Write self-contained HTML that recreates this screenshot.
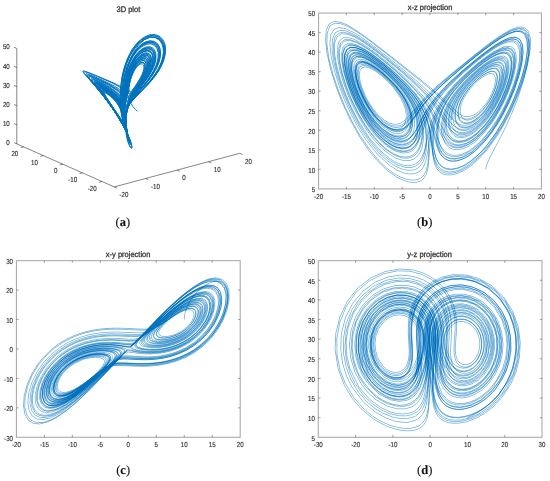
<!DOCTYPE html>
<html><head><meta charset="utf-8"><title>Lorenz attractor projections</title>
<style>
html,body{margin:0;padding:0;background:#fff}
svg{display:block}
.ax{stroke:#262626;stroke-width:1.1;fill:none;stroke-opacity:0.38}
.ax3{stroke:#262626;stroke-width:0.7;fill:none;stroke-opacity:0.8}
.lbl{font-family:"Liberation Sans",Arial,Helvetica,sans-serif;fill:#303030;text-rendering:geometricPrecision;stroke:#303030;stroke-width:0.15}
.tt{stroke-width:0.28}
.cap{font-family:"Liberation Serif","Times New Roman",serif;font-size:12.5px;fill:#111;stroke:#111;stroke-width:0.1;text-rendering:geometricPrecision}
.tr{fill:none;stroke:#0072BD;stroke-width:0.4;stroke-opacity:1;stroke-linejoin:round}
.tr3{fill:none;stroke:#0072BD;stroke-width:0.95;stroke-opacity:1;stroke-linejoin:round}
</style></head>
<body>
<svg width="550" height="481" viewBox="0 0 550 481">
<defs><filter id="sh" x="0" y="0" width="550" height="481" filterUnits="userSpaceOnUse" color-interpolation-filters="sRGB"><feComponentTransfer><feFuncA type="linear" slope="1.4" intercept="-0.06"/></feComponentTransfer></filter></defs>
<rect width="550" height="481" fill="#fff"/>
<g class="tr3"><path d="M137.4 111.3L135.5 109.6L133.9 107.8L130.6 103.1L128.3 97.7L126.8 91.6L126.1 84.8L126.3 77.1L127.5 68.9L129.8 60.6L133.2 52.8L138.4 45.1L144.4 39.7L150.6 37.0L156.3 37.3L160.1 39.6L162.8 43.5L164.1 48.4L164.0 53.9L163.0 58.9L161.3 63.8L159.0 68.5L156.4 72.9L153.5 77.0L150.6 80.7L147.6 84.1L135.0 97.5L132.7 100.2L129.5 104.6L127.4 108.4L126.7 110.2L125.7 113.5L125.2 116.7L124.8 122.4L124.6 124.1L124.2 124.3L123.6 123.8L122.6 122.4L116.3 112.6L104.8 95.7L103.3 93.3L102.6 91.7L102.6 90.8L103.3 90.7L104.5 91.1L106.1 92.0L109.8 94.5L113.3 97.7L114.9 99.3L116.6 101.3L118.0 103.3L120.4 107.4L121.5 110.0L122.5 112.6L123.2 115.1L124.2 119.4L125.2 124.6L125.5 127.5L125.2 127.5L124.2 126.2L119.5 118.1L113.6 109.1L101.8 92.2L100.4 89.9L99.9 88.5L100.2 87.9L101.1 87.9L102.6 88.5L106.4 90.7L110.4 93.5L114.0 96.7L115.7 98.4L117.2 100.1L119.6 103.6L120.8 105.8L121.8 108.0L122.7 110.2L123.8 114.2L124.6 117.8L127.3 132.9L127.0 132.6L123.6 126.0L121.2 121.6L117.9 116.2L113.9 110.1L109.5 103.6L98.5 88.7L96.5 85.9L95.7 84.2L95.8 83.4L96.9 83.4L98.6 84.0L100.7 85.0L105.0 87.3L109.3 90.1L111.6 91.8L115.7 95.2L117.3 96.9L120.0 100.2L121.1 101.8L122.7 104.9L123.8 107.7L124.6 111.3L125.1 115.1L125.3 118.5L125.1 122.2L124.9 123.1L124.7 123.3L124.4 123.2L124.1 122.9L123.7 122.0L122.6 118.3L122.0 115.0L121.2 109.5L120.7 101.6L120.8 90.8L122.4 77.1L124.3 69.1L127.1 60.8L130.9 52.9L135.6 45.8L141.2 40.3L147.1 36.8L152.7 35.7L157.7 36.9L161.3 39.9L163.6 44.3L164.6 49.5L164.2 55.2L162.9 60.2L161.0 65.0L158.6 69.6L156.0 73.9L152.8 78.1L149.7 82.0L146.6 85.4L134.3 98.3L132.1 100.8L130.4 103.0L129.0 105.1L127.0 108.9L125.8 112.2L125.1 115.3L124.4 122.1L124.2 122.9L123.9 123.1L123.3 122.8L121.3 120.0L114.9 110.3L105.0 95.6L103.8 93.5L103.4 92.3L103.6 91.7L104.5 91.8L105.8 92.3L107.4 93.3L110.9 96.0L114.3 99.2L115.8 100.9L117.4 103.0L118.7 105.1L120.9 109.4L121.9 111.9L122.7 114.4L123.9 119.1L124.6 122.7L124.9 125.3L124.8 126.1L124.2 125.5L117.8 115.3L112.3 106.9L104.0 95.0L102.2 92.3L101.3 90.4L101.2 89.4L101.9 89.2L103.3 89.7L105.1 90.6L108.8 93.0L110.7 94.5L114.3 97.8L116.0 99.6L118.7 103.3L120.9 107.3L121.8 109.3L123.1 113.2L124.1 116.9L124.8 120.8L126.2 128.4L126.4 129.9L126.2 130.2L120.9 120.8L118.2 116.4L111.2 105.8L99.1 88.9L98.0 87.0L97.9 85.9L98.6 85.6L99.9 86.0L101.7 86.7L105.8 89.1L109.9 91.9L113.5 94.8L116.4 97.7L118.8 100.6L120.8 103.6L121.5 105.1L122.8 108.0L124.1 112.3L124.9 116.6L126.4 128.1L127.2 132.8L127.8 135.5L128.6 137.8L129.1 138.9L128.5 136.8L127.2 133.7L124.8 128.7L122.1 123.6L118.4 117.4L114.0 110.5L109.0 103.3L103.8 96.4L92.3 81.7L91.2 79.9L90.9 78.9L91.3 78.5L92.5 78.7L94.2 79.2L101.0 82.3L106.8 85.4L109.5 87.0L114.8 90.6L117.2 92.5L119.2 94.3L121.9 97.3L122.8 98.6L124.1 100.9L125.1 103.5L125.4 105.0L125.1 103.0L124.8 98.9L124.9 94.8L125.2 89.3L126.2 82.4L128.1 74.5L130.1 68.6L132.8 62.9L136.0 57.9L139.7 53.9L143.6 51.4L147.2 50.6L150.1 51.5L152.1 53.9L153.0 57.5L152.8 61.7L151.7 66.3L149.8 70.9L147.9 74.5L145.9 77.9L141.6 84.0L134.8 93.2L133.3 95.5L130.9 99.5L129.2 102.8L128.1 105.5L126.9 109.3L125.7 114.0L125.2 115.1L125.0 115.3L124.7 115.1L124.3 114.5L123.8 112.4L123.1 108.4L122.5 101.9L122.6 92.2L123.1 86.0L124.2 79.0L126.0 71.4L128.7 63.6L132.4 56.1L137.0 49.6L142.2 44.9L147.6 42.4L152.0 42.2L155.6 43.9L158.2 47.0L159.4 51.4L159.5 56.0L158.5 60.9L156.8 65.8L154.5 70.5L152.3 74.2L150.0 77.6L147.6 80.8L145.3 83.7L136.5 94.2L132.7 99.1L130.2 102.9L129.3 104.7L127.8 108.1L127.3 109.7L126.5 112.9L126.0 117.6L126.0 122.7L126.8 131.3L126.6 131.2L121.7 122.4L119.0 117.8L115.5 112.4L111.6 106.5L100.3 90.9L98.1 87.6L97.0 85.6L97.1 84.7L98.2 84.7L100.1 85.4L102.0 86.4L106.3 88.8L110.4 91.6L113.8 94.4L117.0 97.6L118.4 99.3L120.7 102.6L122.6 106.3L123.4 108.6L124.1 110.9L124.6 113.2L125.1 116.6L126.2 128.8L126.8 132.8L127.7 136.9L128.3 139.1L129.0 141.0L129.7 142.6L130.2 143.2L130.4 142.9L130.2 141.5L129.2 138.3L127.7 134.7L125.3 129.7L122.0 123.5L117.6 116.2L112.4 108.3L106.6 100.2L100.8 92.7L88.8 78.2L87.5 76.2L87.4 75.2L88.3 75.2L90.0 75.6L92.2 76.4L97.7 78.8L106.3 82.9L113.3 86.7L116.2 88.5L120.3 91.5L122.9 93.9L126.1 97.8L126.2 97.7L126.3 97.3L126.7 91.0L127.1 87.9L127.7 83.9L128.7 79.3L130.2 74.3L132.3 69.1L135.0 64.3L138.1 60.4L141.3 57.8L144.3 56.9L146.3 57.4L147.8 59.0L148.5 61.4L148.5 64.4L147.8 67.8L146.5 71.2L144.9 74.7L143.1 78.0L141.3 80.9L133.1 93.0L128.0 101.1L127.4 101.8L127.0 101.9L126.6 101.6L126.3 100.9L126.1 99.6L125.9 96.9L125.9 92.8L126.3 87.2L127.5 80.2L128.8 75.2L130.7 69.9L133.1 64.8L135.9 60.2L139.2 56.6L142.6 54.2L145.7 53.4L148.3 54.0L150.1 55.9L151.0 58.6L151.0 62.1L150.3 65.9L149.0 69.5L147.4 73.1L145.5 76.5L143.4 79.8L134.4 92.6L131.9 96.7L128.9 102.1L126.4 107.6L126.1 108.1L125.8 108.3L125.5 108.2L125.1 107.5L124.8 106.3L124.5 103.8L124.2 100.0L124.2 94.7L124.7 87.7L125.5 82.2L126.8 76.1L128.7 69.6L131.4 63.2L134.8 57.3L138.8 52.5L143.1 49.3L147.3 47.9L150.6 48.3L153.1 50.2L154.6 53.2L155.1 57.1L154.7 61.2L153.5 65.5L151.8 69.7L149.6 73.8L147.5 77.2L145.3 80.4L135.1 94.0L132.2 98.2L130.1 101.9L128.6 105.2L127.6 108.1L126.9 110.8L126.2 115.4L125.8 121.1L125.8 128.2L126.2 133.6L126.8 137.5L128.1 142.4L129.6 146.0L130.5 147.6L131.5 148.5L132.1 148.0L132.0 146.3L131.2 143.1L129.3 137.9L125.9 130.6L122.0 123.5L117.1 115.4L111.3 106.7L104.9 98.0L98.4 89.9L84.5 73.8L83.2 72.2L82.7 71.2L83.1 70.8L84.1 71.0L85.8 71.5L92.9 74.2L104.9 79.2L115.2 83.7L120.0 86.2L126.3 89.9L126.9 90.1L127.3 90.1L127.7 89.9L128.0 89.5L128.3 88.7L130.2 80.9L131.2 77.5L132.6 74.0L134.3 70.5L136.4 67.4L138.6 65.1L140.7 63.9L142.4 63.9L143.4 64.8L143.9 66.4L143.8 68.6L143.3 71.1L142.4 73.7L141.2 76.4L139.8 79.0L135.6 85.7L131.9 90.7L130.9 91.7L130.1 92.2L129.5 92.0L129.2 91.1L129.0 89.5L129.1 87.2L129.5 84.1L130.1 80.9L131.1 77.3L132.4 73.5L134.2 69.8L136.3 66.5L138.6 64.0L140.8 62.5L142.7 62.2L144.0 62.9L144.8 64.4L145.0 66.6L144.6 69.2L143.8 72.0L142.5 74.9L141.1 77.8L138.0 82.9L132.6 90.9L130.4 93.6L129.7 94.2L129.1 94.2L128.6 93.7L128.3 92.5L128.2 90.5L128.4 87.5L128.9 83.6L130.0 78.9L131.7 73.6L133.4 69.8L135.4 66.3L137.6 63.4L140.0 61.4L142.2 60.3L144.1 60.4L145.5 61.5L146.2 63.5L146.2 66.3L145.5 69.6L144.2 73.0L142.6 76.5L141.0 79.2L137.8 84.3L131.2 94.1L129.4 96.3L128.8 96.8L128.3 96.8L127.8 96.4L127.5 95.3L127.4 93.6L127.4 91.2L127.7 87.1L128.6 81.8L130.2 75.5L132.8 69.0L135.0 65.2L137.4 61.9L140.0 59.5L142.5 58.1L144.7 57.9L146.5 58.8L147.6 60.7L147.9 63.3L147.5 66.5L146.6 69.9L145.1 73.4L143.4 76.8L139.9 82.4L133.5 91.9L129.3 98.4L128.1 100.0L127.6 100.3L127.2 100.3L126.8 99.7L126.5 98.6L126.3 96.4L126.3 93.0L126.6 88.4L127.5 82.6L128.5 78.0L130.0 73.0L132.0 68.1L134.5 63.4L137.5 59.4L140.6 56.5L143.7 55.0L146.4 54.9L148.4 56.0L149.7 58.2L150.1 61.1L149.8 64.6L148.8 68.1L147.4 71.7L145.6 75.2L143.7 78.5L139.9 84.2L133.3 93.8L129.8 99.6L127.1 104.8L126.4 105.6L126.0 105.6L125.7 105.0L125.3 103.7L125.0 101.6L124.8 98.5L124.8 94.6L125.2 89.6L125.9 83.4L127.4 76.4L129.3 70.5L131.7 64.6L134.9 59.2L138.5 54.7L142.5 51.6L146.2 50.2L149.5 50.6L151.8 52.6L153.1 55.7L153.4 59.7L152.6 64.1L151.1 68.5L149.3 72.3L147.3 75.8L145.2 79.1L134.2 94.3L132.8 96.4L130.6 100.1L129.1 103.1L127.6 107.1L126.6 110.6L125.6 115.4L125.2 116.5L125.0 116.8L124.6 116.7L124.2 116.0L123.7 114.3L123.1 111.4L122.5 106.9L122.1 100.2L122.3 91.0L123.8 79.1L125.4 71.9L127.8 64.6L131.0 57.4L135.1 50.9L139.9 45.7L145.0 42.2L150.0 40.8L154.4 41.5L157.6 43.9L159.7 47.5L160.5 52.1L160.2 57.2L159.1 61.8L157.3 66.4L155.1 70.7L152.6 74.8L150.0 78.4L147.5 81.8L136.4 94.7L133.9 97.7L130.6 102.5L128.5 106.2L127.8 108.0L126.7 111.4L126.4 113.0L125.9 116.3L125.8 121.2L126.3 128.8L126.2 129.5L125.9 129.4L125.2 128.2L120.4 120.0L114.3 110.4L107.0 99.8L101.0 91.5L99.3 88.9L98.5 87.2L98.5 86.3L99.3 86.2L100.7 86.6L102.5 87.5L106.7 89.9L110.7 92.8L114.2 95.8L116.8 98.6L119.2 101.7L120.3 103.3L121.2 105.0L122.6 108.2L124.0 112.8L124.9 117.7L126.9 130.8L127.8 135.0L128.5 137.0L127.7 134.9L126.7 132.5L125.0 129.0L122.5 124.4L119.2 118.7L115.1 112.1L110.4 105.2L105.4 98.4L94.4 84.1L92.8 81.7L92.3 80.4L92.9 80.0L94.2 80.2L98.5 82.0L103.0 84.2L107.5 86.8L110.6 88.8L113.5 90.8L116.0 92.8L118.0 94.7L120.5 97.4L121.5 98.7L123.0 101.1L124.0 103.3L124.7 105.2L125.2 107.6L125.1 108.8L124.9 108.3L124.4 106.0L124.0 100.2L124.0 95.2L124.4 88.6L125.6 80.6L127.0 74.5L129.0 68.2L131.8 62.1L135.2 56.4L139.1 51.9L143.3 48.8L147.4 47.5L150.9 48.0L153.4 49.9L154.9 53.0L155.5 56.9L155.0 61.2L153.8 65.3L152.2 69.4L150.1 73.3L147.9 77.0L145.7 80.1L135.2 94.0L131.9 98.8L130.8 100.6L129.1 104.1L127.9 107.2L127.1 110.1L126.4 113.8L126.0 118.8L125.9 125.3L126.3 130.4L127.0 134.9L127.8 138.5L129.0 142.1L129.8 143.8L130.5 144.7L130.9 144.3L130.3 141.4L129.3 138.3L127.5 134.1L124.7 128.5L120.9 121.7L116.1 113.9L110.5 105.6L104.5 97.5L98.5 90.0L87.1 76.4L85.9 74.5L86.1 73.8L87.2 73.9L89.1 74.5L94.2 76.5L102.5 80.2L110.9 84.3L114.4 86.1L119.5 89.4L122.8 91.9L125.9 94.9L126.5 95.3L126.7 95.1L126.8 94.5L127.7 87.4L128.2 84.2L129.1 80.4L130.3 76.3L131.9 71.9L134.0 67.7L136.4 64.0L139.1 61.1L141.7 59.5L144.1 59.1L145.7 60.0L146.7 61.7L147.0 64.1L146.7 67.0L145.9 70.2L144.6 73.4L143.0 76.5L141.3 79.5L137.9 84.8L130.0 96.5L129.1 97.6L128.4 98.3L127.9 98.5L127.4 98.1L127.1 97.0L126.9 95.3L126.8 92.7L127.0 89.4L127.5 85.4L128.3 80.8L129.7 75.7L131.7 70.3L134.3 65.2L137.4 60.8L140.7 57.8L143.9 56.5L146.2 56.7L147.8 58.1L148.8 60.4L148.9 63.4L148.3 66.8L147.1 70.4L145.5 73.9L143.7 77.3L141.9 80.3L133.5 92.7L128.0 101.7L127.1 102.7L126.7 102.7L126.3 102.3L126.0 101.1L125.7 99.1L125.6 96.1L125.7 92.0L126.1 87.6L126.9 82.3L128.3 76.4L130.3 70.1L133.2 63.9L136.8 58.6L140.7 54.8L144.7 52.8L147.6 52.9L149.8 54.2L151.2 56.8L151.6 60.2L151.2 63.9L150.0 67.8L148.3 71.8L146.3 75.6L144.4 78.8L140.4 84.6L135.2 91.8L131.3 97.9L128.7 103.0L126.4 108.7L125.8 109.7L125.5 109.9L125.2 109.6L124.8 108.7L124.4 107.0L124.1 104.4L123.8 101.0L123.8 96.4L124.0 90.5L124.9 83.3L126.1 77.2L127.9 70.7L130.4 64.2L133.7 58.0L137.6 52.7L142.0 48.9L146.3 46.9L150.3 46.8L153.2 48.3L155.1 51.1L156.0 54.8L155.9 59.1L155.0 63.3L153.5 67.6L151.5 71.6L149.2 75.5L147.0 78.8L142.7 84.6L136.0 93.2L132.4 98.3L131.3 100.2L129.4 103.7L128.7 105.3L127.6 108.4L126.7 112.3L126.1 116.8L126.0 121.8L126.2 125.9L126.7 130.7L127.8 136.1L128.8 139.5L129.4 140.8L129.7 140.9L129.3 138.9L127.3 133.9L125.2 129.4L122.2 123.8L118.2 117.1L113.3 109.6L107.9 101.9L102.4 94.7L90.5 79.8L89.2 77.8L89.1 76.8L90.3 76.8L92.0 77.3L94.1 78.2L99.2 80.4L108.4 85.1L114.1 88.6L116.6 90.3L118.8 92.0L120.5 93.6L122.1 95.2L124.1 98.0L125.8 101.0L125.7 96.7L126.1 90.3L126.6 85.9L127.4 81.3L128.7 76.2L130.5 70.8L132.9 65.6L135.9 60.9L139.2 57.1L142.6 54.8L145.7 54.1L148.1 54.7L149.7 56.6L150.5 59.3L150.5 62.7L149.8 66.2L148.5 69.9L146.8 73.6L144.8 77.1L142.9 80.2L134.1 92.8L131.6 96.7L129.2 101.1L126.8 106.0L126.2 106.9L125.8 106.9L125.5 106.4L125.1 105.3L124.8 103.5L124.6 100.6L124.5 96.5L124.7 91.2L125.4 84.5L126.5 78.9L128.1 72.8L130.3 66.7L133.3 60.8L136.9 55.6L140.8 51.7L144.9 49.5L148.6 49.1L151.3 50.3L153.2 52.7L154.2 56.0L154.1 60.0L153.3 64.0L151.9 68.1L150.0 72.1L147.8 75.8L145.7 79.1L143.6 82.1L134.3 94.7L131.8 98.4L130.1 101.6L128.2 105.8L127.1 109.3L126.3 113.4L125.3 120.6L124.9 121.7L124.7 121.9L124.3 121.7L123.8 120.7L123.1 118.7L122.3 115.1L121.6 110.3L121.1 103.3L121.0 93.8L122.1 81.5L123.5 73.9L125.7 65.9L128.8 57.9L132.9 50.5L137.9 44.2L143.5 39.6L149.1 37.1L154.4 37.0L158.6 38.8L161.6 42.3L163.3 46.9L163.7 52.2L163.0 57.2L161.5 62.2L159.4 67.1L156.8 71.6L154.1 75.6L151.4 79.3L145.8 85.7L135.5 96.7L133.1 99.5L130.9 102.2L129.3 104.7L128.0 107.1L127.0 109.2L125.9 112.6L125.3 115.8L125.0 119.0L124.8 123.0L124.7 123.9L124.5 124.4L124.0 124.2L123.3 123.4L122.2 121.8L115.7 111.8L104.6 95.4L103.2 93.1L102.5 91.5L102.5 90.7L103.2 90.6L104.5 91.0L106.1 91.9L107.9 93.1L111.6 96.0L114.9 99.3L116.6 101.3L118.0 103.3L119.3 105.3L120.4 107.3L121.5 109.9L122.4 112.4L123.2 115.0L124.2 119.3L125.2 124.5L125.5 127.5L125.3 127.7L124.5 126.6L117.4 114.9L114.3 110.2L102.2 92.7L100.6 90.2L99.8 88.6L99.9 87.8L100.8 87.7L102.1 88.2L103.9 89.1L105.9 90.3L109.9 93.0L113.6 96.2L115.3 97.9L116.8 99.6L119.3 103.0L120.6 105.3L121.7 107.5L122.5 109.7L123.7 113.8L124.5 117.4L127.3 133.3L124.6 127.9L122.2 123.5L118.8 117.7L114.4 110.9L109.5 103.7L97.9 88.1L96.1 85.4L95.4 83.7L95.8 83.1L96.9 83.2L98.7 83.9L103.1 86.1L107.5 88.7L112.0 91.9L114.1 93.6L116.1 95.4L119.1 98.8L120.3 100.4L122.2 103.5L123.4 106.4L124.2 109.2L125.0 113.1L125.2 116.6L125.2 119.8L125.0 121.0L124.7 121.5L124.4 121.4L124.1 121.0L123.3 118.6L122.7 116.1L122.0 112.3L121.4 106.9L121.0 99.6L121.1 92.4L121.9 83.7L123.6 73.9L126.8 63.4L130.1 55.7L134.4 48.7L139.4 43.0L144.9 39.1L150.4 37.3L155.4 37.7L159.4 40.1L162.1 44.2L163.1 48.0L163.4 52.2L162.8 56.7L161.6 61.1L159.9 65.5L157.8 69.6L155.4 73.5L152.8 77.1L149.4 81.5L146.0 85.3L134.4 97.9L132.2 100.5L130.5 102.9L129.0 105.1L127.9 107.3L127.0 109.3L125.9 112.9L125.3 116.1L125.1 119.2L125.0 123.2L124.9 124.3L124.6 124.8L124.2 124.7L123.4 123.7L116.3 112.7L105.0 96.2L103.3 93.5L102.3 91.6L102.1 90.5L102.5 90.2L103.6 90.4L105.0 91.1L106.8 92.1L110.5 94.9L114.1 98.2L115.6 99.9L117.3 101.9L118.7 104.0L120.9 108.0L121.9 110.4L122.7 112.8L123.9 117.4L124.7 121.3L125.6 126.6L125.8 128.0L125.7 128.5L125.0 127.7L121.0 120.8L115.5 112.0L112.1 106.9L100.6 90.5L99.5 88.5L99.3 87.4L99.9 87.1L101.1 87.4L102.8 88.2L106.8 90.5L110.8 93.4L112.7 95.0L115.9 98.2L118.5 101.5L120.0 103.8L121.3 106.1L122.2 108.3L123.0 110.5L124.0 114.0L125.0 119.2L126.5 128.9L127.8 134.6L124.1 127.0L121.6 122.6L118.4 117.1L114.4 110.9L109.9 104.4L105.3 98.0L95.7 85.2L94.5 83.2L94.4 82.2L95.2 82.0L96.7 82.4L98.6 83.2L103.1 85.5L107.5 88.1L112.3 91.3L114.6 93.3L116.7 95.2L118.5 97.0L119.7 98.5L121.7 101.3L123.0 103.9L124.0 106.4L124.7 109.5L125.1 112.1L125.1 114.4L125.0 115.4L124.8 115.6L124.6 115.5L124.4 115.2L123.7 112.8L123.3 110.7L122.8 106.9L122.5 101.5L122.4 94.2L123.2 84.9L124.3 78.3L126.0 71.2L128.5 63.9L131.9 56.9L136.1 50.6L140.8 45.8L145.9 42.8L150.7 41.8L154.5 42.9L157.4 45.4L159.2 49.2L159.7 53.8L159.3 58.5L158.0 63.2L156.0 67.8L153.7 72.2L151.5 75.7L149.2 78.9L144.6 84.7L135.6 95.3L131.9 100.3L129.6 104.1L128.0 107.5L127.4 109.2L126.6 112.3L126.3 114.0L126.0 117.2L125.9 122.3L126.7 130.9L126.5 131.0L119.7 118.9L113.4 109.1L109.7 103.7L99.9 90.3L98.0 87.6L97.2 85.8L97.3 85.0L98.2 84.9L99.8 85.4L101.9 86.4L106.0 88.8L110.2 91.6L113.8 94.6L116.9 97.6L119.3 100.6L121.1 103.5L121.8 104.9L123.0 107.6L124.1 111.2L125.0 116.1L126.1 127.2L127.0 133.2L127.5 135.8L128.3 138.4L129.1 140.6L129.6 141.6L130.0 142.0L130.0 141.2L129.3 138.8L128.2 135.8L126.3 131.7L123.5 126.2L119.7 119.6L115.0 112.1L109.6 104.3L103.9 96.6L98.4 89.7L90.9 80.6L88.9 77.9L88.3 76.5L88.7 76.0L90.1 76.3L94.6 78.0L99.7 80.3L104.9 82.8L112.4 86.9L115.4 88.8L117.9 90.7L120.0 92.4L123.0 95.3L123.9 96.6L125.7 99.3L126.0 99.6L126.2 93.4L126.4 90.4L127.0 85.2L128.3 78.9L130.6 71.9L133.8 64.9L136.4 61.1L139.3 58.0L142.2 56.0L144.9 55.3L147.1 55.8L148.8 57.4L149.6 59.9L149.6 63.1L149.0 66.5L147.8 70.2L146.1 73.7L144.2 77.2L140.5 83.0L132.5 94.8L130.3 98.4L127.6 103.4L126.7 104.5L126.4 104.7L126.0 104.3L125.7 103.5L125.4 101.9L125.2 99.5L125.1 96.0L125.2 91.4L125.9 85.7L127.1 78.8L128.6 73.2L130.8 67.5L133.5 62.0L136.8 57.2L140.5 53.6L144.3 51.5L147.6 51.0L150.3 52.2L152.0 54.6L152.8 58.0L152.6 61.9L151.5 66.1L150.1 69.8L148.3 73.5L146.2 77.0L142.6 82.4L133.8 94.5L130.5 100.0L129.0 103.1L127.9 105.9L125.7 113.2L125.3 114.0L124.9 114.1L124.6 113.7L124.2 112.5L123.7 110.6L123.2 106.6L122.8 100.5L122.9 91.6L124.3 80.0L125.8 73.3L128.0 66.3L131.0 59.5L134.8 53.2L139.2 48.1L144.0 44.6L148.6 43.0L152.8 43.4L155.9 45.5L157.9 48.8L158.8 53.0L158.6 57.8L157.6 62.3L155.9 66.7L153.8 71.0L151.3 75.0L149.1 78.3L144.5 84.3L136.3 94.1L134.0 97.1L132.0 99.9L129.8 103.6L128.9 105.3L127.6 108.6L127.2 110.1L126.5 113.1L126.1 116.4L126.0 119.5L126.1 122.9L126.3 126.2L127.3 132.9L122.5 123.9L116.7 114.4L113.0 108.7L108.9 102.9L98.4 88.5L96.5 85.8L95.7 84.1L96.1 83.4L97.3 83.6L99.3 84.4L103.4 86.5L107.9 89.2L112.2 92.3L115.9 95.5L117.6 97.2L120.3 100.7L121.4 102.4L122.9 105.6L124.0 108.6L124.6 111.4L125.1 114.7L125.3 118.9L125.2 122.7L124.8 124.1L124.6 124.2L124.3 124.0L123.5 122.5L122.3 118.0L121.6 114.1L120.9 108.5L120.5 102.7L120.4 95.4L120.9 86.7L122.4 76.5L124.3 68.2L127.3 59.7L131.3 51.6L136.3 44.5L142.1 39.1L148.2 35.9L153.9 35.2L158.9 36.8L162.3 40.2L164.4 44.9L165.1 50.4L164.4 56.2L163.0 61.2L161.0 66.0L158.5 70.4L155.8 74.6L152.5 79.0L149.1 82.9L145.9 86.4L133.8 98.8L131.7 101.3L130.0 103.5L128.7 105.6L126.7 109.3L125.5 112.6L124.9 115.6L124.3 120.9L124.1 121.9L123.8 122.4L123.4 122.4L122.6 121.7L121.6 120.3L108.3 100.5L104.8 95.0L104.0 93.4L103.9 92.5L104.5 92.3L105.5 92.6L106.9 93.3L110.3 95.8L113.7 98.9L115.3 100.7L116.7 102.5L118.2 104.7L119.6 107.0L120.6 109.3L122.4 113.9L123.5 118.3L124.3 122.1L124.6 124.7L124.4 125.1L124.0 124.9L123.2 123.7L114.0 109.4L104.8 95.9L103.0 93.2L102.1 91.3L101.9 90.3L102.5 90.0L103.6 90.3L105.3 91.1L107.2 92.3L110.8 95.0L114.3 98.3L116.0 100.2L117.5 102.1L118.8 104.1L121.0 108.1L121.8 110.2L123.1 114.2L124.1 118.1L124.8 121.8L125.8 127.3L125.9 128.4L125.8 128.8L125.3 128.3L120.6 120.1L114.8 111.0L111.2 105.7L101.6 92.1L99.8 89.3L99.0 87.6L99.3 86.9L100.6 87.0L102.5 87.9L106.4 90.1L110.5 93.0L114.1 96.2L115.7 97.8L118.7 101.5L120.0 103.5L122.0 107.5L122.7 109.3L123.7 112.7L124.8 117.8L127.0 131.6L128.0 135.3L125.6 130.1L123.7 126.4L121.1 121.6L117.6 115.9L113.4 109.5L108.8 102.9L94.9 84.3L93.9 82.4L93.9 81.5L94.9 81.5L96.6 82.0L100.9 84.0L105.4 86.5L110.4 89.6L113.0 91.5L115.2 93.3L117.2 95.1L118.7 96.7L121.1 99.7L122.0 101.1L123.4 103.8L124.2 106.3L124.9 109.2L125.1 111.6L125.1 112.8L124.9 113.3L124.4 112.7L123.8 109.9L123.1 103.7L122.9 99.1L123.0 93.1L123.7 85.8L125.1 77.2L126.9 70.3L129.5 63.3L132.9 56.7L137.1 51.0L141.8 46.7L146.6 44.2L151.0 43.8L154.6 45.4L156.9 48.4L158.1 52.4L158.1 57.1L157.1 62.1L155.6 66.4L153.6 70.5L151.3 74.5L148.8 78.1L146.4 81.5L136.7 93.4L132.3 99.2L129.7 103.5L128.9 105.2L127.7 108.5L126.9 111.5L126.4 114.4L126.1 117.5L126.0 120.6L126.2 124.0L126.5 127.3L127.0 130.9L127.7 134.3L125.9 130.4L122.8 124.7L120.2 120.0L116.8 114.6L112.9 108.7L108.7 102.6L97.5 87.6L95.5 84.7L94.6 83.0L94.9 82.3L96.2 82.4L100.2 84.1L104.7 86.5L109.4 89.5L111.8 91.2L115.8 94.5L118.0 96.7L119.8 98.8L121.2 100.9L122.9 104.0L123.8 106.3L124.6 109.4L125.1 112.2L125.1 115.3L124.8 116.7L124.6 116.7L124.4 116.5L124.1 115.8L123.3 112.5L122.8 109.3L122.4 104.9L122.1 98.8L122.3 92.2L123.0 84.2L124.7 75.1L127.6 65.3L130.7 58.2L134.6 51.8L139.1 46.5L144.0 42.8L149.0 41.1L153.5 41.4L157.0 43.5L159.4 47.1L160.4 51.7L160.1 56.8L158.9 62.1L156.8 67.3L154.7 71.3L152.4 75.0L149.9 78.5L144.2 85.6L138.3 92.3L134.0 97.5L131.0 101.7L129.9 103.7L128.1 107.3L127.5 108.9L126.6 112.3L126.2 113.9L125.9 117.1L125.8 122.2L126.4 129.3L126.2 129.8L125.6 129.0L121.7 122.1L116.4 113.6L109.5 103.3L100.3 90.5L98.7 88.0L98.2 86.5L98.6 86.0L99.9 86.2L101.8 87.0L105.8 89.3L109.9 92.1L113.5 95.1L116.6 98.1L118.1 100.0L120.6 103.7L121.5 105.5L122.8 108.5L124.1 113.1L125.0 117.7L126.8 130.3L127.7 134.8L128.3 136.7L128.7 137.7L127.7 134.8L124.5 128.0L121.7 122.9L118.0 116.7L113.5 109.8L108.6 102.7L103.5 95.9L93.2 82.7L92.0 80.6L91.9 79.7L92.8 79.5L94.5 80.0L99.0 81.9L103.6 84.3L109.2 87.5L112.1 89.4L114.7 91.3L116.9 93.1L119.8 95.9L120.9 97.3L122.7 99.8L123.8 102.0L124.6 104.0L125.2 106.3L125.2 107.4L125.0 106.8L124.6 104.4L124.3 98.5L124.4 93.3L125.0 86.7L126.3 78.8L127.9 72.8L130.1 66.7L133.0 60.8L136.5 55.7L140.5 51.7L144.5 49.2L148.3 48.6L151.4 49.7L153.4 52.1L154.4 55.5L154.5 59.5L153.6 63.9L152.2 67.9L150.4 71.8L148.3 75.5L146.0 78.9L143.9 81.9L134.2 94.9L131.4 99.3L129.7 102.5L128.0 106.7L126.9 110.4L126.1 115.0L125.2 123.8L124.9 125.0L124.7 125.2L124.3 125.1L123.9 124.4L122.7 120.9L122.0 117.5L121.1 112.6L120.6 107.5L120.2 101.0L120.3 92.8L121.1 83.0L122.4 74.9L124.6 66.3L127.8 57.7L132.1 49.5L137.4 42.5L143.5 37.5L149.7 34.7L155.5 34.6L160.0 36.5L163.3 40.2L165.2 45.0L165.7 50.6L165.0 55.8L163.5 61.1L161.4 66.1L158.8 70.8L155.9 75.0L152.9 78.9L149.9 82.5L146.9 85.7L133.4 99.5L131.1 102.1L129.3 104.5L127.9 106.7L126.8 108.7L125.5 112.0L124.8 115.0L124.0 120.2L123.8 121.1L123.5 121.5L123.0 121.5L122.2 120.8L121.2 119.4L108.4 100.4L105.2 95.3L104.6 93.9L104.6 93.1L105.3 93.1L106.4 93.5L107.8 94.3L109.4 95.5L111.1 96.8L114.4 100.1L115.9 101.8L117.2 103.7L118.7 106.0L120.0 108.4L121.0 110.8L122.5 115.3L123.9 121.1L124.1 123.7L123.9 124.0L123.3 123.4L122.4 122.2L114.6 110.0L104.5 95.1L103.3 93.0L102.8 91.7L103.0 91.1L103.8 91.1L105.2 91.6L106.8 92.6L110.4 95.2L113.9 98.4L115.4 100.1L117.1 102.2L118.5 104.2L120.7 108.4L121.8 110.9L122.6 113.4L123.8 118.2L124.6 122.0L125.3 126.6L125.2 127.1L124.5 126.3L119.1 117.4L113.1 108.3L103.6 94.7L101.6 91.6L100.5 89.6L100.4 88.5L101.1 88.3L102.5 88.8L104.2 89.6L108.0 92.0L110.0 93.5L113.8 96.7L115.4 98.5L116.9 100.2L118.5 102.3L119.9 104.5L121.0 106.6L121.9 108.7L122.7 110.7L123.8 114.7L124.9 120.3L126.9 132.0L126.7 131.8L122.9 124.6L117.4 115.3L113.6 109.5L109.5 103.6L98.9 89.0L97.1 86.4L96.4 84.8L96.8 84.2L98.0 84.3L99.6 84.9L103.8 87.0L106.0 88.4L110.1 91.1L113.7 94.0L115.8 95.9L117.6 97.9L119.2 99.8L121.3 103.1L122.6 105.8L123.6 108.4L124.3 110.9L124.7 113.1L125.3 118.7L126.1 131.7L126.5 134.8L127.2 138.3L128.3 142.0L129.0 143.9L129.8 145.7L130.7 147.1L131.4 147.5L131.7 147.1L131.6 145.4L130.7 141.9L129.2 137.8L126.7 132.4L123.2 125.5L118.5 117.6L112.7 108.8L106.3 99.9L99.8 91.5L93.7 84.3L85.8 75.3L84.0 73.0L83.6 71.9L84.4 71.7L86.0 72.1L88.3 72.9L97.4 76.6L108.1 81.2L111.9 82.9L117.8 85.9L122.1 88.5L126.3 91.4L126.8 91.6L127.2 91.5L127.5 91.2L127.8 90.6L129.2 83.7L129.9 80.7L130.9 77.3L132.3 73.7L133.9 70.3L135.9 67.1L138.0 64.6L140.2 63.0L142.1 62.4L143.6 62.9L144.5 64.4L144.8 66.7L144.3 69.6L143.3 72.7L141.9 76.0L139.0 81.2L134.7 87.8L131.3 92.3L130.4 93.3L129.7 93.8L129.1 93.8L128.7 93.2L128.5 92.0L128.4 90.1L128.5 87.4L129.0 84.0L129.7 80.5L130.8 76.6L132.3 72.5L134.2 68.6L136.4 65.2L138.9 62.5L141.3 61.0L143.4 60.6L144.9 61.4L145.8 63.0L146.0 65.3L145.7 68.0L144.8 71.0L143.6 74.1L142.1 77.1L140.4 80.0L135.8 87.1L130.7 94.5L129.8 95.5L129.1 96.2L128.5 96.3L128.0 95.9L127.7 94.7L127.5 92.8L127.6 89.9L128.0 86.2L128.8 81.6L129.8 77.5L131.2 73.2L133.1 68.9L135.4 64.9L138.0 61.7L140.6 59.4L143.2 58.4L145.3 58.6L146.7 59.9L147.5 62.1L147.5 64.9L146.9 68.0L145.8 71.3L144.4 74.5L142.7 77.6L141.0 80.5L129.8 97.3"/></g>
<g class="tr" filter="url(#sh)">
<path d="M485.7 169.4L485.9 167.8L486.3 166.0L488.3 160.9L491.4 154.5L500.4 137.5L506.1 126.1L511.9 113.0L517.6 98.7L522.6 83.6L526.9 66.8L529.1 52.0L528.7 40.5L525.5 33.4L521.0 31.0L514.9 31.5L507.6 34.4L499.5 39.1L492.1 44.2L484.6 49.7L470.2 61.0L457.3 71.7L446.3 81.1L439.8 87.1L434.2 92.5L429.5 97.4L425.6 101.9L419.9 109.0L411.8 120.3L410.0 122.6L408.2 124.5L406.1 126.5L403.9 128.0L401.6 129.1L399.0 129.8L395.6 129.8L391.9 129.0L387.8 127.1L383.3 124.1L378.3 119.5L373.0 113.3L367.9 105.7L363.1 97.0L359.2 87.7L356.6 78.9L355.7 71.3L356.6 65.8L358.8 63.1L362.1 62.2L366.4 63.1L371.3 65.4L376.4 68.7L381.6 72.7L386.6 77.1L391.3 81.8L395.3 86.1L398.8 90.5L401.9 94.7L404.5 98.8L406.9 103.3L408.7 107.6L410.0 111.7L410.8 115.5L411.3 120.2L411.0 124.4L410.1 128.2L408.7 131.4L407.0 133.6L404.9 135.4L402.3 136.5L399.3 137.0L394.3 136.3L388.4 133.6L381.5 128.4L373.9 120.2L368.8 113.3L363.9 105.2L359.4 96.3L355.6 86.9L352.8 77.7L351.4 69.5L351.6 63.0L353.4 58.6L356.5 56.7L360.6 56.7L365.7 58.4L371.3 61.5L376.8 65.3L382.4 69.7L387.7 74.3L392.7 79.1L397.1 83.6L401.0 88.1L404.4 92.4L407.4 96.6L410.0 100.8L412.2 104.7L413.9 108.5L415.3 112.2L416.6 116.7L417.4 120.9L417.8 124.9L417.8 128.7L417.5 131.9L417.0 134.8L416.2 137.5L415.2 140.1L413.7 142.6L411.8 144.7L409.6 146.4L406.9 147.7L401.9 148.3L395.7 147.0L388.0 142.9L378.9 135.1L372.9 128.3L366.8 119.9L360.7 109.8L355.0 98.3L350.1 86.1L346.5 74.2L344.6 63.5L344.7 55.0L346.6 50.0L350.2 47.5L355.1 47.5L361.1 49.6L367.4 53.1L374.1 57.6L380.8 62.7L387.3 68.1L392.6 72.8L397.5 77.4L402.0 81.9L406.1 86.2L410.3 91.0L413.9 95.5L417.0 99.9L419.6 104.0L421.8 107.9L423.7 111.6L425.2 115.2L427.5 122.0L429.1 128.2L430.6 136.0L432.7 150.0L433.9 156.0L435.1 160.1L436.7 163.9L437.9 165.8L439.4 167.6L441.1 169.2L443.3 170.5L446.2 171.5L449.8 171.9L454.3 171.5L459.8 169.8L467.6 165.6L477.3 157.8L488.9 145.0L501.7 126.1L508.5 113.4L514.9 99.3L520.7 84.3L525.2 69.3L528.1 55.4L529.0 43.7L527.7 35.1L524.2 30.2L519.1 28.9L512.6 30.4L505.0 34.2L496.7 39.5L489.3 44.7L482.0 50.3L467.9 61.4L454.3 72.6L443.1 82.3L436.9 88.0L431.7 93.1L427.2 97.7L423.5 101.9L417.9 108.8L411.5 117.3L407.8 121.7L406.0 123.5L403.7 125.2L401.4 126.5L398.8 127.3L396.1 127.5L392.5 127.0L388.5 125.5L384.2 122.8L379.6 118.9L374.9 113.8L370.3 107.5L365.9 100.2L362.2 92.2L359.2 84.2L357.6 76.8L357.4 70.8L358.7 66.6L361.1 64.6L364.6 64.3L368.8 65.6L373.5 68.1L378.5 71.5L383.3 75.4L388.0 79.8L392.3 84.3L396.0 88.6L399.2 92.9L402.0 97.1L404.2 101.1L406.3 105.6L407.8 109.9L408.7 114.0L409.1 117.7L408.9 121.9L408.1 125.6L406.6 128.7L404.5 131.2L402.1 132.8L399.2 133.6L395.7 133.5L391.6 132.4L385.2 128.8L378.0 122.3L370.2 112.5L362.7 99.9L358.9 91.6L355.9 83.2L354.0 75.4L353.4 68.6L354.2 63.5L356.4 60.4L359.8 59.2L364.3 60.0L369.7 62.4L375.4 66.0L381.3 70.5L386.9 75.4L391.5 79.8L395.7 84.3L399.4 88.6L402.7 92.9L405.8 97.3L408.3 101.6L410.3 105.7L411.9 109.6L413.2 113.7L414.0 117.5L414.5 121.2L414.5 124.6L414.3 127.8L413.7 130.7L412.9 133.5L411.7 135.9L410.0 138.3L407.9 140.3L405.2 141.7L402.1 142.4L396.8 142.0L390.4 139.4L382.7 134.0L374.1 125.0L368.7 117.8L363.4 109.3L358.4 99.7L354.0 89.4L350.5 79.1L348.4 69.6L348.0 61.7L349.2 55.9L351.9 52.9L355.9 52.0L361.0 53.1L366.8 55.9L372.7 59.6L378.8 64.0L384.8 68.9L390.4 73.9L395.2 78.5L399.7 83.0L403.6 87.4L407.2 91.6L409.9 95.3L412.4 98.9L414.5 102.3L416.4 105.6L418.0 109.0L419.4 112.3L420.6 115.5L421.5 118.6L422.3 121.5L422.8 124.4L423.5 129.8L423.6 135.4L423.3 140.5L422.4 145.6L421.8 148.0L421.0 150.2L419.8 152.8L418.3 155.1L416.5 157.1L414.3 158.8L409.8 160.5L403.7 160.7L395.8 158.2L385.6 151.5L378.5 144.9L370.7 135.7L362.5 123.7L354.3 109.0L348.4 96.1L343.4 82.6L339.6 69.4L337.5 57.5L337.3 47.8L339.2 41.1L343.2 37.8L348.9 37.7L354.3 39.4L360.2 42.5L366.5 46.4L373.0 51.0L379.4 55.9L391.7 65.9L403.5 76.3L409.1 81.4L414.0 86.3L418.3 90.8L423.0 96.1L426.9 101.1L430.2 105.7L433.0 109.9L436.7 116.6L441.1 125.3L443.8 130.3L445.1 132.5L446.8 134.9L448.6 136.9L450.5 138.6L452.7 140.0L455.6 141.2L458.9 141.6L462.6 141.3L466.9 140.0L473.0 136.6L480.1 130.7L487.7 122.0L495.5 110.5L500.7 100.9L505.3 90.6L508.8 80.2L511.0 70.5L511.6 62.4L510.4 56.5L507.4 53.2L502.8 52.6L497.0 54.3L490.4 57.8L483.5 62.6L476.6 68.1L471.3 72.7L466.3 77.4L461.7 82.0L457.6 86.6L454.1 90.7L451.0 94.7L448.3 98.6L446.0 102.3L443.7 106.4L441.9 110.4L440.5 114.2L439.3 117.8L438.6 120.9L438.0 123.8L437.3 129.4L437.3 135.2L437.8 140.4L438.2 143.1L438.9 145.6L439.7 148.0L440.7 150.1L442.2 152.7L444.2 154.9L446.5 156.7L449.3 158.0L454.8 158.7L462.1 157.1L471.5 152.0L483.0 141.6L489.5 133.7L496.2 123.9L503.0 112.3L509.4 99.0L515.0 84.8L519.2 70.9L521.4 58.3L521.4 48.3L519.5 42.4L515.7 39.4L510.3 39.2L503.7 41.5L496.8 45.3L489.4 50.2L482.0 55.7L474.8 61.5L463.6 71.0L453.9 79.8L447.9 85.7L442.7 91.3L438.3 96.4L434.6 101.1L432.1 104.8L427.9 111.5L424.7 117.6L418.5 131.0L415.9 135.6L414.4 137.9L412.6 140.0L410.7 141.8L408.6 143.2L405.7 144.4L402.4 144.9L398.5 144.6L394.2 143.3L387.7 139.8L380.4 133.8L372.3 124.6L363.9 112.3L358.4 102.2L353.5 91.2L349.6 80.0L347.2 69.6L346.4 60.8L347.6 54.3L350.7 50.7L355.4 50.0L361.4 51.6L368.1 55.2L375.2 60.0L382.3 65.6L387.9 70.3L393.1 75.1L398.0 79.8L402.4 84.4L405.9 88.3L409.1 92.2L412.0 95.9L414.5 99.5L417.0 103.6L419.1 107.5L420.9 111.2L422.3 114.8L424.0 120.1L425.2 125.1L426.0 129.8L426.6 136.6L426.7 143.1L426.4 147.8L425.9 152.1L424.9 156.7L423.5 160.8L422.1 163.4L420.4 165.8L418.2 167.8L415.5 169.3L411.8 170.2L407.1 170.2L401.2 168.8L393.9 165.3L387.3 160.7L379.8 153.8L371.4 144.2L362.3 131.3L355.4 119.5L348.7 106.0L342.5 91.2L337.4 76.1L333.7 61.5L332.0 48.8L332.5 39.0L335.2 32.8L339.6 30.4L345.5 30.8L352.6 33.7L360.6 38.4L367.9 43.4L375.4 48.9L389.8 60.3L402.7 70.9L413.6 80.4L420.2 86.4L425.8 91.9L430.6 96.8L434.5 101.3L440.3 108.5L448.4 119.9L450.2 122.1L452.0 124.1L454.1 126.1L456.3 127.6L458.6 128.7L461.2 129.3L464.6 129.4L468.3 128.5L472.4 126.7L476.8 123.6L481.9 119.0L487.0 112.9L492.1 105.3L496.8 96.7L500.6 87.6L503.1 78.9L504.0 71.5L503.1 66.0L500.9 63.4L497.6 62.6L493.4 63.5L488.5 65.8L483.4 69.0L478.2 73.0L473.3 77.5L468.6 82.1L464.7 86.5L461.2 90.8L458.2 95.0L455.6 99.1L453.3 103.6L451.5 107.9L450.3 112.0L449.5 115.8L449.1 120.4L449.5 124.6L450.4 128.3L452.0 131.4L453.8 133.5L456.0 135.1L458.7 136.1L461.9 136.4L467.2 135.3L473.4 132.0L480.6 125.9L488.3 116.9L493.3 109.4L498.1 100.9L502.3 91.8L505.6 82.5L507.7 73.8L508.3 66.4L507.3 61.0L504.7 57.8L501.0 57.0L496.3 58.0L490.8 60.6L485.1 64.3L479.6 68.4L474.3 72.8L469.3 77.5L464.7 82.2L460.6 86.7L456.9 91.1L453.8 95.4L451.1 99.5L448.8 103.7L446.9 107.7L445.4 111.5L444.3 115.2L443.4 119.3L442.9 123.2L442.8 126.9L443.0 130.4L443.5 133.4L444.3 136.2L445.3 138.8L446.6 141.1L448.5 143.4L450.8 145.3L453.7 146.6L457.1 147.1L462.2 146.6L468.3 144.1L475.6 139.2L483.9 131.1L489.7 123.9L495.6 115.1L501.3 104.8L506.6 93.5L510.8 81.8L513.7 70.7L514.9 61.1L514.1 53.9L511.7 49.9L507.8 48.2L502.7 48.9L496.7 51.4L490.4 55.1L484.0 59.6L477.5 64.7L471.4 69.9L466.2 74.5L461.4 79.1L457.1 83.6L453.2 87.8L449.3 92.5L445.9 96.9L443.0 101.1L440.6 105.1L438.6 108.8L436.9 112.3L435.6 115.7L433.5 122.1L432.1 128.0L430.8 135.8L430.1 142.6L429.0 158.9L428.3 165.7L427.3 171.0L426.2 174.3L425.4 176.0L424.4 177.6L423.2 179.0L421.6 180.3L419.6 181.4L417.0 182.2L413.7 182.5L409.5 182.1L403.9 180.6L396.7 177.1L387.8 170.9L377.0 160.5L368.7 150.3L359.9 137.1L350.7 120.8L341.8 101.7L335.7 85.5L330.6 69.2L327.1 53.8L325.6 40.5L326.2 30.3L329.2 23.9L334.3 21.4L341.3 22.4L347.1 24.9L353.5 28.6L360.3 33.1L367.2 38.1L374.2 43.3L402.9 65.7L424.3 82.6L430.3 87.5L439.8 95.7L443.5 99.2L454.0 109.4L456.6 111.8L458.8 113.5L460.9 114.9L463.0 115.9L465.1 116.5L467.9 116.7L470.7 116.2L473.7 115.0L476.9 113.1L480.9 109.7L484.8 105.2L488.5 99.8L491.7 93.7L494.2 87.4L495.4 81.7L495.3 77.2L493.8 74.4L491.5 73.5L488.5 73.9L485.0 75.5L481.1 78.0L477.3 81.2L473.6 84.7L470.2 88.6L467.3 92.5L464.9 96.4L462.9 100.1L461.5 103.7L460.6 107.1L460.2 111.3L460.7 114.8L462.1 117.6L464.3 119.5L467.0 120.2L470.2 119.8L474.1 118.1L478.4 115.0L482.3 111.1L486.3 106.1L490.1 100.2L493.4 93.7L495.9 87.1L497.4 81.0L497.5 76.1L496.3 72.7L494.1 71.2L491.1 71.1L487.4 72.4L483.4 74.7L479.1 77.9L475.0 81.5L471.2 85.5L467.7 89.7L464.8 93.7L462.4 97.6L460.5 101.4L459.2 105.1L458.1 109.5L457.8 113.4L458.2 116.9L459.3 119.8L461.1 121.9L463.6 123.3L466.7 123.6L470.5 122.7L475.1 120.3L480.3 116.0L485.8 109.8L491.0 101.8L494.5 95.3L497.2 88.6L499.1 82.2L499.9 76.5L499.5 72.1L498.0 69.2L495.2 68.0L491.6 68.4L487.0 70.4L482.0 73.6L476.9 77.7L472.1 82.3L468.4 86.4L465.1 90.5L462.2 94.5L459.9 98.5L457.7 102.9L456.2 107.0L455.2 110.9L454.8 114.5L454.9 118.1L455.6 121.3L456.9 123.9L458.7 126.0L461.1 127.4L464.1 127.9L467.6 127.5L471.7 125.9L477.5 122.0L483.9 115.6L490.5 106.6L496.4 95.8L499.5 88.5L501.7 81.4L502.7 75.0L502.6 69.8L501.2 66.2L498.7 64.4L495.1 64.3L490.7 65.7L485.7 68.5L480.6 72.2L475.5 76.5L470.7 81.1L466.7 85.3L463.2 89.6L460.1 93.8L457.5 97.9L455.1 102.4L453.2 106.7L452.0 110.7L451.2 114.5L450.8 118.4L451.0 121.9L451.6 125.1L452.8 127.9L454.3 130.2L456.3 132.1L458.8 133.3L461.8 133.8L466.4 133.2L471.9 130.8L478.2 126.1L485.0 119.0L489.8 112.6L494.6 105.0L498.9 96.6L502.6 87.8L505.2 79.1L506.5 71.4L506.3 65.3L504.6 61.2L501.7 59.3L497.7 59.4L492.8 61.1L487.5 64.1L482.1 67.8L476.8 72.0L471.8 76.6L467.0 81.3L462.9 85.7L459.3 90.2L456.1 94.5L453.4 98.6L450.9 103.0L448.9 107.2L447.5 111.2L446.4 115.0L445.6 119.5L445.3 123.7L445.6 127.6L446.2 131.1L447.1 133.9L448.4 136.4L449.9 138.5L451.9 140.3L454.9 141.9L458.5 142.6L463.0 142.2L468.2 140.3L473.8 136.9L480.1 131.4L487.0 123.8L494.0 113.8L499.4 104.4L504.2 94.1L508.2 83.4L511.0 73.2L512.1 64.3L511.5 57.5L509.0 53.3L504.8 51.8L499.6 52.8L493.4 55.6L486.8 59.8L480.0 64.9L474.5 69.5L469.1 74.2L464.2 78.9L459.7 83.6L455.9 87.9L452.5 92.0L449.5 96.0L446.9 99.8L444.5 103.8L442.5 107.7L440.8 111.3L439.5 114.9L438.5 118.0L437.8 120.9L436.7 126.5L436.3 132.1L436.3 137.2L436.5 139.9L437.2 145.0L437.8 147.3L438.6 149.9L439.6 152.3L440.9 154.5L442.3 156.4L445.1 158.8L448.6 160.6L453.0 161.3L458.6 160.5L465.8 157.7L474.7 151.6L485.2 141.0L496.9 125.0L503.3 114.1L509.3 101.8L514.7 88.6L519.1 75.2L522.1 62.6L523.2 51.8L522.3 43.7L519.3 38.7L514.9 37.0L509.1 37.9L502.3 40.9L494.8 45.4L487.9 50.3L480.9 55.5L474.2 60.9L461.9 71.2L451.6 80.6L447.2 84.9L441.5 90.8L436.6 96.2L432.6 101.2L429.3 105.9L427.0 109.4L423.2 116.0L416.2 129.4L414.7 131.9L413.1 134.1L411.4 136.1L409.5 137.8L407.1 139.4L404.4 140.5L401.3 141.0L397.8 140.7L392.9 139.3L387.2 136.2L380.9 131.1L374.1 123.7L368.7 116.5L363.4 108.0L358.4 98.4L354.2 88.2L350.9 78.1L349.1 68.9L348.9 61.4L350.5 56.1L353.4 53.6L357.6 53.2L362.8 54.7L368.6 57.6L374.4 61.5L380.3 65.9L386.1 70.7L391.5 75.6L396.2 80.2L400.4 84.7L404.2 89.1L407.6 93.3L410.1 96.8L412.4 100.3L414.3 103.5L416.0 106.7L417.7 110.5L419.0 114.0L420.1 117.5L420.9 120.7L421.4 123.9L421.8 126.9L422.0 129.8L422.1 132.6L422.0 135.5L421.7 138.3L421.2 141.0L420.6 143.5L419.7 146.1L418.7 148.6L417.4 150.7L415.8 152.7L413.0 155.0L409.5 156.5L405.0 157.1L399.5 156.2L393.8 153.8L386.9 149.4L379.1 142.4L370.4 132.1L364.1 123.0L357.8 112.3L351.9 100.1L346.6 87.1L342.5 74.1L339.9 62.1L339.3 52.1L340.8 45.0L343.9 41.4L348.6 40.4L354.5 41.8L361.3 45.1L368.1 49.4L375.1 54.3L381.9 59.7L388.6 65.1L394.0 69.7L403.7 78.5L407.9 82.7L413.7 88.6L418.6 94.1L422.6 99.3L426.0 104.0L428.3 107.5L431.8 113.9L434.6 119.8L439.1 130.3L441.3 135.3L442.4 137.5L443.9 139.9L445.4 142.0L447.2 143.9L449.2 145.5L451.8 146.9L454.9 147.7L458.4 147.9L462.5 147.2L468.4 144.7L475.3 140.1L483.1 132.6L491.6 122.0L497.3 113.0L502.7 102.8L507.7 91.7L511.6 80.4L514.3 69.6L515.4 60.4L514.6 53.4L512.0 49.0L508.1 47.5L502.9 48.2L496.9 50.8L490.3 54.7L484.1 59.1L478.0 63.9L472.0 68.9L466.4 73.9L461.7 78.4L457.3 82.8L453.4 87.0L449.9 91.1L446.0 96.0L442.7 100.7L439.9 105.2L437.7 109.4L436.0 112.9L434.7 116.3L432.6 122.6L431.1 128.5L429.8 136.2L428.0 149.8L427.0 155.8L426.1 159.8L425.6 161.7L424.2 165.4L423.1 167.4L421.8 169.2L420.2 170.8L418.3 172.1L415.7 173.3L412.5 173.9L408.5 173.9L403.5 172.9L396.6 169.9L388.0 164.1L377.5 154.3L365.5 139.1L358.5 128.1L351.6 115.3L344.9 100.9L339.0 85.5L334.2 70.0L331.0 55.6L329.9 43.4L331.0 34.3L334.1 29.3L339.0 27.5L345.5 28.6L353.1 32.2L360.7 36.8L368.6 42.4L376.6 48.3L391.0 59.7L403.3 69.7L416.9 81.2L423.8 87.4L429.7 92.9L434.5 97.8L438.3 101.9L441.5 105.7L448.9 114.9L452.8 119.4L454.7 121.2L456.9 122.9L459.2 124.2L461.7 125.0L464.4 125.3L467.8 124.9L471.6 123.5L475.6 121.1L479.9 117.5L484.4 112.7L488.9 106.8L493.1 99.8L496.7 92.2L499.5 84.6L501.0 77.7L501.2 72.0L499.8 68.1L497.4 66.4L494.0 66.2L489.9 67.6L485.3 70.1L480.6 73.4L476.0 77.3L471.5 81.6L467.5 86.0L464.0 90.2L461.0 94.5L458.5 98.6L456.5 102.5L454.7 107.0L453.5 111.3L453.0 115.3L452.9 118.9L453.6 122.6L454.9 125.8L456.9 128.3L459.6 130.0L462.7 130.7L466.4 130.3L470.7 128.7L475.7 125.7L480.6 121.3L485.9 115.4L491.2 107.9L496.1 99.2L500.3 89.8L503.3 80.5L504.6 72.4L504.0 66.3L502.1 63.1L499.0 61.8L494.8 62.3L489.9 64.4L484.7 67.6L479.4 71.6L474.2 76.1L469.3 80.8L465.2 85.2L461.6 89.5L458.4 93.8L455.8 97.9L453.3 102.4L451.3 106.7L449.9 110.7L449.0 114.6L448.4 118.5L448.3 122.1L448.6 125.5L449.4 128.5L450.5 131.2L452.0 133.6L453.9 135.5L456.2 136.8L459.8 137.7L464.1 137.4L469.2 135.6L475.1 131.9L480.7 127.0L486.6 120.3L492.6 111.8L498.3 101.8L503.4 90.7L507.1 79.6L509.0 69.7L508.7 62.0L506.9 57.9L503.6 56.0L499.0 56.2L493.6 58.3L487.8 61.7L481.8 65.9L476.0 70.7L470.4 75.7L465.7 80.2L461.5 84.7L457.8 89.1L454.5 93.3L451.5 97.5L449.1 101.5L447.0 105.4L445.4 109.1L443.8 113.2L442.7 117.1L442.0 120.8L441.6 124.3L441.4 127.7L441.5 130.8L441.9 133.8L442.5 136.6L443.4 139.4L444.5 141.9L445.9 144.1L447.6 146.1L450.3 148.1L453.7 149.4L457.9 149.7L462.8 148.7L468.3 146.4L474.6 142.2L481.6 135.7L489.3 126.5L495.3 117.8L501.1 107.6L506.5 96.3L511.1 84.4L514.5 72.8L516.2 62.5L516.1 54.2L514.0 48.8L510.5 46.4L505.6 46.4L499.8 48.5L493.2 52.0L486.9 56.3L480.5 61.1L474.3 66.1L468.3 71.3L463.4 75.9L458.8 80.3L454.6 84.6L450.9 88.7L446.6 93.8L442.9 98.7L439.8 103.3L437.3 107.6L435.5 111.1L434.0 114.5L431.6 120.8L429.9 126.6L428.6 132.0L426.0 144.6L425.0 148.7L423.6 153.2L421.8 157.2L420.5 159.3L419.0 161.1L417.2 162.8L415.0 164.1L412.0 165.2L408.4 165.7L403.9 165.3L398.6 163.6L390.8 159.4L381.3 151.5L370.1 138.8L358.1 120.4L351.5 107.8L345.5 94.0L340.4 79.7L336.6 65.7L334.6 53.3L334.6 43.4L337.0 36.8L341.4 33.8L347.2 34.1L354.2 36.8L362.1 41.3L370.4 47.1L377.3 52.3L384.1 57.6L396.8 68.0L403.5 73.8L409.5 79.1L414.8 84.1L419.5 88.7L424.6 93.9L428.8 98.8L432.4 103.2L435.4 107.4L438.3 111.6L446.5 124.9L448.2 127.1L449.8 129.2L451.6 130.9L453.8 132.7L456.3 134.0L459.0 134.7L462.1 134.9L466.2 134.2L470.8 132.2L476.0 128.8L481.5 123.7L486.7 117.8L491.9 110.5L496.9 101.9L501.2 92.6L504.7 83.1L506.9 74.3L507.4 66.8L506.2 61.5L503.8 58.8L500.1 58.1L495.5 59.1L490.2 61.7L484.7 65.2L479.2 69.4L473.8 74.0L468.7 78.8L464.4 83.3L460.5 87.7L457.0 92.0L454.0 96.2L451.4 100.6L449.2 104.7L447.4 108.7L446.1 112.5L444.8 117.3L444.2 121.9L444.1 126.1L444.5 130.0L445.1 133.0L446.0 135.7L447.2 138.1L448.7 140.3L450.9 142.4L453.7 144.0L457.0 144.8L461.0 144.6L466.2 143.1L472.2 139.8L479.1 134.3L486.6 126.0L492.3 118.3L497.9 109.1L503.2 98.8L507.7 87.7L511.2 76.8L513.2 66.8L513.3 58.8L511.6 53.2L508.5 50.6L504.2 50.2L498.7 51.8L492.6 54.9L486.5 58.9L480.4 63.5L474.4 68.4L468.7 73.5L463.8 78.1L459.4 82.6L455.4 86.9L451.8 91.1L448.5 95.4L445.6 99.5L443.2 103.5L441.1 107.2L439.6 110.4L437.2 116.5L435.5 122.2L434.5 127.5L433.7 134.4L433.5 141.0L433.8 147.8L434.5 152.4L435.5 156.6L436.3 159.1L437.3 161.4L438.6 163.6L440.2 165.5L443.0 167.7L446.8 169.2L451.7 169.7L458.2 168.4L465.5 165.1L474.4 158.6L485.1 147.9L497.1 131.6L503.9 120.3L510.4 107.3L516.5 93.1L521.7 78.4L525.5 64.1L527.6 51.4L527.5 41.2L525.3 34.3L521.4 31.1L515.9 30.9L509.1 33.2L501.4 37.4L494.0 42.3L486.5 47.8L479.0 53.5L465.3 64.5L453.6 74.4L441.4 85.2L435.5 90.9L430.6 96.0L426.4 100.7L422.7 105.2L419.7 109.3L412.8 119.1L409.3 123.6L407.5 125.5L405.3 127.3L403.0 128.7L400.5 129.7L397.8 130.1L394.2 129.8L390.2 128.6L385.8 126.1L381.1 122.4L376.2 117.4L371.2 111.0L366.3 103.3L362.0 94.8L358.5 85.9L356.2 77.5L355.6 70.5L356.6 65.3L358.8 62.8L362.2 62.0L366.5 63.0L371.4 65.3L376.5 68.6L381.7 72.6L386.7 77.1L391.4 81.7L395.4 86.1L399.0 90.4L402.0 94.7L404.6 98.8L407.0 103.3L408.8 107.6L410.1 111.7L411.0 115.5L411.5 120.2L411.2 124.4L410.4 128.2L409.0 131.4L407.4 133.7L405.3 135.5L402.8 136.7L399.9 137.3L395.0 136.8L389.2 134.4L382.4 129.5L374.9 121.7L369.8 115.0L364.8 107.1L360.1 98.2L356.1 88.8L353.1 79.5L351.4 71.0L351.2 64.0L352.7 59.1L355.5 56.7L359.4 56.3L364.3 57.6L369.9 60.5L375.5 64.1L381.1 68.5L386.6 73.1L391.8 78.0L396.2 82.5L400.2 87.0L403.8 91.3L406.9 95.5L409.6 99.7L411.8 103.6L413.7 107.4L415.1 111.1L416.6 115.8L417.6 120.2L418.0 124.3L418.1 128.2L417.9 131.4L417.5 134.4L416.8 137.2L415.8 139.8L414.5 142.3L412.8 144.5L410.7 146.4L408.3 147.8L403.9 148.9L398.3 148.3L391.5 145.6L383.3 139.8L377.0 133.6L370.3 125.3L363.4 114.9L356.7 102.6L350.8 89.0L346.5 75.4L344.2 63.3L344.5 53.9L346.7 49.1L350.5 46.9L355.7 47.3L362.0 49.8L368.5 53.5L375.2 58.2L382.0 63.4L388.4 68.8L393.6 73.5L398.5 78.1L402.9 82.5L406.9 86.8L411.2 91.7L414.9 96.3L418.0 100.7L420.6 104.9L422.7 108.8L424.5 112.5L426.0 116.1L428.3 122.7L429.9 128.9L430.9 134.1L433.2 146.8L434.6 153.0L435.8 157.0L436.7 159.2L437.7 161.2L438.9 163.0L440.3 164.7L442.3 166.4L444.7 167.7L447.6 168.6L451.2 169.0L456.1 168.3L462.2 166.1L469.6 161.8L478.5 154.4L486.3 145.9L494.8 134.5L503.6 119.9L512.2 102.6L517.9 88.5L522.6 74.2L525.8 60.7L527.3 48.9L526.7 39.8L524.1 33.9L519.5 31.4L513.2 32.1L507.5 34.4L501.3 37.8L494.8 42.0L488.2 46.8L481.5 51.8L468.8 62.0L455.7 73.0L443.4 83.9L438.4 88.7L433.3 93.7L429.1 98.4L425.5 102.7L419.7 110.3L413.2 119.8L409.7 124.5L407.9 126.5L405.9 128.1L403.6 129.6L401.0 130.6L398.1 131.1L395.0 130.9L390.7 129.6L386.0 127.1L380.9 123.0L375.5 117.4L370.7 111.1L366.1 103.8L361.9 95.7L358.5 87.3L356.1 79.1L355.0 71.9L355.4 66.3L357.3 62.7L360.4 61.3L364.4 61.6L369.2 63.5L374.4 66.6L379.5 70.3L384.5 74.5L389.3 79.0L393.7 83.6L397.6 88.1L401.0 92.4L403.9 96.7L406.3 100.8L408.6 105.3L410.2 109.6L411.4 113.6L412.1 117.4L412.3 121.7L412.1 125.6L411.3 129.1L410.0 132.2L408.5 134.6L406.5 136.5L404.1 137.9L401.2 138.7L396.5 138.5L390.8 136.5L384.1 132.1L376.6 124.9L371.4 118.5L366.2 110.7L361.2 101.8L356.8 92.2L353.2 82.3L350.9 73.1L350.2 65.2L351.2 59.4L353.5 56.1L357.2 55.0L361.9 55.8L367.4 58.3L373.1 61.8L379.0 66.0L384.7 70.8L390.2 75.7L394.9 80.2L399.1 84.7L402.9 89.1L406.2 93.4L409.0 97.4L411.5 101.3L413.5 105.0L415.2 108.6L417.1 113.5L418.4 118.2L419.2 122.5L419.5 126.7L419.6 129.8L419.4 132.9L419.0 135.7L418.5 138.4L417.6 141.1L416.5 143.6L415.1 145.8L413.5 147.8L410.8 149.9L407.4 151.3L403.3 151.7L398.4 151.0L392.9 148.8L386.6 144.7L379.4 138.4L371.5 129.2L365.4 120.6L359.3 110.3L353.6 98.7L348.7 86.4L344.9 74.2L342.7 63.1L342.5 54.1L344.4 47.9L347.7 45.1L352.4 44.7L358.2 46.4L364.8 49.8L371.3 54.0L377.9 58.8L384.3 64.0L390.5 69.2L395.6 73.8L400.4 78.3L404.7 82.6L408.6 86.8L413.4 92.1L417.4 97.2L420.7 101.9L423.5 106.4L425.5 109.9L427.1 113.2L429.7 119.4L432.5 127.9L436.5 142.0L438.1 146.6L439.0 148.6L440.2 150.9L441.6 153.0L443.2 154.8L445.0 156.4L447.6 157.9L450.6 158.9L454.3 159.2L458.6 158.7L464.7 156.5L472.2 151.9L480.9 144.1L490.7 132.4L497.0 123.1L503.3 112.1L509.3 99.7L514.5 86.6L518.7 73.4L521.3 61.2L521.9 51.1L520.6 43.7L517.5 39.8L512.8 38.7L506.9 40.0L500.0 43.3L493.1 47.5L486.0 52.5L478.9 58.0L466.7 68.1L461.5 72.6L452.4 81.1L446.2 87.2L441.0 92.9L436.6 98.2L432.9 103.1L430.5 106.6L428.4 110.1L425.0 116.4L419.8 127.3L417.2 132.5L415.9 134.8L414.5 136.9L412.7 139.1L410.7 140.9L408.5 142.4L406.1 143.5L402.7 144.2L398.8 144.0L394.3 142.8L389.2 140.2L381.4 134.2L372.6 124.5L363.4 110.8L355.0 94.1L351.1 84.0L348.4 74.2L346.9 65.5L347.0 58.4L348.6 53.4L351.8 50.8L356.3 50.5L361.9 52.3L368.0 55.5L374.4 59.7L380.8 64.6L387.0 69.9L392.2 74.5L397.0 79.1L401.3 83.6L405.2 87.9L408.6 92.0L411.6 95.9L414.2 99.7L416.5 103.3L418.4 106.8L420.0 110.1L421.3 113.3L422.4 116.4L423.4 119.3L424.7 125.0L425.5 130.0L426.0 136.6L426.0 141.5L425.6 146.2L424.9 150.9L423.9 155.1L422.9 157.7L421.8 160.0L420.4 162.1L418.8 164.0L415.5 166.2L411.2 167.6L405.6 167.5L398.1 165.2L391.8 161.8L384.4 156.1L376.0 147.6L366.6 135.6L359.8 125.0L353.1 112.6L346.7 98.8L341.0 84.1L336.6 69.4L333.9 56.0L333.4 45.0L335.0 37.1L338.4 33.2L343.5 32.2L350.0 33.9L357.5 37.7L364.8 42.3L372.3 47.7L379.8 53.4L393.2 64.2L404.5 73.7L409.5 78.1L416.7 84.7L422.8 90.6L427.9 96.0L432.1 100.9L435.6 105.4L438.6 109.6L446.9 122.1L450.2 126.4L452.2 128.5L454.4 130.1L456.7 131.4L459.2 132.3L462.5 132.6L466.2 132.0L470.3 130.4L474.8 127.7L481.4 122.0L488.4 113.6L495.3 102.7L501.1 90.3L503.8 82.3L505.5 74.8L506.0 68.5L505.1 63.8L502.8 60.9L499.4 60.0L495.0 60.8L490.0 63.1L484.7 66.5L479.3 70.5L474.0 75.1L469.1 79.8L464.9 84.2L461.1 88.6L457.8 92.9L454.9 97.1L452.3 101.5L450.3 105.8L448.7 109.8L447.5 113.7L446.7 117.6L446.3 121.3L446.4 124.7L446.7 127.9L447.4 130.9L448.5 133.5L449.8 135.9L451.6 137.9L454.2 139.7L457.3 140.8L461.2 140.9L465.7 139.9L471.1 137.3L477.2 132.8L484.0 126.0L491.1 116.7L496.5 108.2L501.4 98.6L505.7 88.4L509.0 78.3L510.8 69.0L511.0 61.5L509.4 56.2L506.2 53.5L501.8 53.3L496.4 55.0L490.4 58.3L484.0 62.6L478.4 67.0L472.9 71.7L467.7 76.4L462.9 81.2L459.9 84.4L454.5 90.7L450.0 96.7L446.5 102.3L445.0 105.0L443.2 108.7L441.7 112.2L440.6 115.6L439.7 118.8L439.0 122.0L438.5 125.1L438.2 128.1L438.0 130.9L438.1 133.9L438.3 136.8L438.6 139.5L439.2 142.0L439.9 144.7L440.9 147.1L442.0 149.4L443.4 151.4L445.8 153.8L448.7 155.6L452.3 156.6L456.8 156.7L463.7 154.8L472.4 149.7L482.9 140.0L494.8 124.6L500.9 114.5L506.8 103.1L512.0 90.7L516.4 78.0L519.4 66.0L520.7 55.6L520.0 47.5L517.4 42.5L513.3 40.5L507.9 41.0L501.4 43.6L494.3 47.8L487.6 52.4L480.8 57.5L474.3 62.7L462.8 72.6L457.9 77.1L449.4 85.4L443.8 91.4L439.1 97.0L435.3 102.2L432.1 107.0L428.3 113.6L425.5 119.6L421.1 130.1L418.8 135.2L416.3 139.7L414.7 141.9L412.9 143.9L410.9 145.5L408.5 146.8L405.4 147.8L401.7 148.0L397.4 147.2L392.5 145.3L385.1 140.5L376.5 132.2L367.2 120.1L357.9 104.2L353.0 93.5L348.9 82.5L346.1 71.8L344.6 62.4L344.9 55.0L346.9 50.0L350.6 47.6L355.8 47.8L361.9 50.1L368.8 54.0L375.9 59.1L383.0 64.7L388.6 69.4L393.9 74.1L398.8 78.8L403.2 83.3L407.4 87.9L411.1 92.2L414.4 96.4L417.2 100.4L419.9 104.7L422.1 108.8L424.0 112.7L425.5 116.4L426.7 120.0L428.6 126.7L429.6 131.9L430.6 137.7L432.4 150.7L433.4 156.6L434.4 160.4L435.9 164.5L436.9 166.3L438.0 168.0L439.6 169.7L441.6 171.2L443.9 172.4L446.9 173.2L450.9 173.3L455.9 172.4L462.1 170.0L469.6 165.4L476.6 159.7L484.6 151.4L493.3 140.1L502.6 125.6L509.5 112.4L516.1 97.8L521.8 82.3L526.3 67.0L529.0 52.9L529.7 41.3L527.9 33.1L523.9 28.8L518.5 28.1L511.6 30.2L503.7 34.4L495.2 40.0L487.8 45.4L473.3 56.6L452.6 73.5L441.1 83.3L435.2 88.8L430.1 93.7L425.8 98.1L422.2 102.2L419.2 105.7L410.1 117.2L408.2 119.5L406.3 121.4L404.4 123.0L402.1 124.6L399.6 125.6L396.9 126.1L394.0 126.0L390.2 125.0L386.1 123.0L381.6 119.6L377.0 115.0L372.5 109.5L368.3 103.0L364.4 95.8L361.3 88.3L359.1 81.0L358.2 74.6L358.6 69.7L360.5 66.5L363.4 65.4L367.1 65.9L371.6 67.8L376.3 70.7L381.1 74.3L385.7 78.3L390.0 82.6L393.9 87.0L397.3 91.4L400.2 95.6L402.7 99.7L404.6 103.7L406.3 108.3L407.4 112.7L407.8 116.7L407.7 120.4L407.0 123.9L405.7 126.9L403.7 129.3L401.2 131.0L398.1 131.8L394.3 131.5L389.9 130.0L385.0 127.0L379.8 122.7L374.4 116.7L368.9 109.1L363.8 100.1L359.3 90.3L356.1 80.6L354.7 72.1L355.2 65.6L357.1 62.2L360.3 60.9L364.6 61.4L369.6 63.5L374.9 66.7L380.3 70.7L385.6 75.3L390.6 80.0L394.8 84.4L398.5 88.8L401.7 93.1L404.5 97.2L407.1 101.7L409.2 106.0L410.7 110.0L411.8 113.9L412.5 117.8L412.8 121.5L412.6 124.9L412.1 128.1L411.3 130.9L410.0 133.5L408.5 135.6L406.5 137.4L403.5 138.9L399.9 139.5L395.5 138.9L390.4 136.9L384.7 133.2L378.4 127.4L371.6 119.3L364.7 108.9L359.8 99.7L355.5 89.8L352.2 79.9L350.2 70.8L349.9 63.3L351.2 57.9L354.3 54.9L358.8 54.5L364.5 56.4L371.0 59.9L377.8 64.7L384.5 70.2L389.6 74.8L394.4 79.4L398.8 84.0L402.7 88.4L406.1 92.7L409.0 96.8L411.6 100.8L413.7 104.5L415.9 109.1L417.5 113.4L418.7 117.6L419.6 121.5L420.0 124.8L420.3 128.0L420.3 131.1L420.1 134.0L419.7 136.9L419.1 139.6L418.3 142.1L417.3 144.5L415.8 147.0L414.0 149.2L411.7 151.0L409.1 152.3L403.5 153.1L396.1 151.4L386.7 146.0L375.3 135.2L369.3 127.6L363.2 118.3L357.2 107.6L351.6 95.6L346.9 83.1L343.4 71.0L341.7 60.2L341.8 51.6L343.8 46.3L347.4 43.7L352.5 43.6L358.7 45.8L365.3 49.4L372.3 54.0L379.3 59.3L386.1 64.8L391.7 69.5L396.8 74.2L401.6 78.7L406.0 83.0L411.1 88.4L415.5 93.5L419.2 98.2L422.4 102.7L424.8 106.6L426.8 110.2L428.6 113.7L430.1 117.1L432.5 123.4L436.8 136.3L438.5 141.0L440.5 145.6L441.7 147.6L443.3 149.7L445.1 151.6L447.2 153.2L449.6 154.4L453.0 155.3L457.0 155.3L461.7 154.3L467.3 151.8L473.6 147.6L480.8 141.2L488.6 132.0L496.9 120.0L503.0 109.2L508.7 97.2L513.6 84.5L517.3 72.0L519.4 60.7L519.6 51.5L517.7 45.2L513.9 42.0L508.8 41.9L502.5 43.9L495.5 47.8L488.0 52.8L481.5 57.7L475.2 62.7L469.1 67.8L463.4 72.9L458.2 77.7L453.4 82.3L449.1 86.7L445.3 90.9L440.6 96.5L436.7 101.7L433.6 106.6L431.0 111.1L429.3 114.3L426.6 120.3L421.7 133.3L419.6 138.3L417.2 142.6L415.6 144.9L413.8 146.8L411.8 148.5L409.5 149.7L406.3 150.7L402.6 150.9L398.2 150.1L393.1 148.1L385.3 143.1L376.3 134.4L366.4 121.4L356.6 104.3L351.5 93.1L347.3 81.6L344.3 70.5L342.9 60.7L343.1 52.9L345.2 47.7L349.1 45.2L354.4 45.5L360.7 47.9L367.7 51.9L375.1 57.0L382.4 62.7L388.1 67.5L393.6 72.3L398.6 77.0L403.3 81.6L408.0 86.5L412.1 91.2L415.8 95.6L418.9 99.8L422.3 105.2L425.1 110.2L427.3 114.9L430.0 122.1L432.3 129.7L435.9 143.4L437.3 147.7L438.3 150.0L439.3 152.2L440.5 154.2L441.9 156.0L443.9 157.9L446.1 159.4L448.8 160.5L452.1 161.1L456.6 160.8L462.1 159.3L468.6 155.9L476.4 150.0L483.8 142.5L492.0 132.2L500.5 118.9L508.7 102.9L514.1 90.1L518.5 77.0L521.5 64.6L522.9 53.7L522.5 45.3L520.0 39.7L515.7 37.4L509.8 37.9L502.9 40.7L495.3 45.2L487.4 50.7L479.5 56.8L473.3 61.7L461.9 71.4L456.7 76.0L450.4 81.9L444.9 87.4L440.1 92.5L436.1 97.2L433.0 101.1L430.3 104.8L425.9 111.7L422.5 117.9L417.0 128.7L414.2 133.3L412.5 135.5L410.6 137.5L408.5 139.1L406.2 140.3L403.2 141.3L399.7 141.4L395.6 140.7L391.1 138.9L384.3 134.5L376.8 127.3L368.7 116.9L360.7 103.5L356.2 93.9L352.5 84.0L349.8 74.5L348.6 66.1L348.9 59.4L350.8 54.9L354.3 52.8L359.1 53.1L364.9 55.3L371.3 59.0L377.9 63.8L384.5 69.1L389.7 73.7L394.5 78.3L399.0 82.9L403.0 87.3L406.4 91.4L409.4 95.4L412.0 99.2L414.2 102.8L416.5 107.1L418.3 111.2L419.7 115.1L420.8 118.8L421.5 121.9L422.0 124.8L422.6 130.5L422.6 133.4L422.2 138.9L421.8 141.5L421.2 144.1L420.5 146.6L419.5 148.9L418.4 151.1L416.6 153.5L414.3 155.6L411.5 157.2L408.1 158.1L402.3 158.0L394.8 155.4L385.4 149.3L374.3 138.1L368.0 129.9L361.6 120.0L355.3 108.5L349.4 95.8L344.4 82.3L340.7 69.3L338.7 57.7L338.8 48.4L340.8 42.6L344.6 39.7L349.9 39.6L356.4 41.8L363.3 45.6L370.5 50.4L377.9 55.8L385.0 61.6L396.2 71.0L405.9 79.9L411.8 85.8L417.0 91.3L421.3 96.3L425.0 101.1L427.5 104.7L431.6 111.4L434.8 117.5L442.1 133.3L443.3 135.5L444.8 137.9L446.5 140.0L448.3 141.9L450.3 143.4L453.0 144.8L456.1 145.5L459.7 145.6L463.8 144.7L469.8 142.0L476.7 137.1L484.4 129.3L492.6 118.5L498.2 109.4L503.4 99.2L507.9 88.3L511.5 77.4L513.6 67.4L514.0 59.1L512.5 53.2L509.3 50.0L504.9 49.4L499.4 50.9L493.2 54.1L486.5 58.5L480.5 63.0L474.7 67.8L469.1 72.7L463.9 77.5L459.5 82.0L455.4 86.2L451.9 90.4L448.7 94.4L445.4 99.0L442.6 103.4L440.2 107.6L438.3 111.7L436.0 117.7L434.4 123.4L433.4 128.7L432.5 135.6L432.2 141.3L432.2 147.6L432.6 153.8L433.2 157.7L434.1 162.2L434.7 164.3L435.5 166.2L436.9 168.8L438.7 171.0L441.0 172.9L444.0 174.3L447.6 175.0L452.1 174.8L457.8 173.3L465.0 169.9L471.6 165.4L479.2 158.5L487.8 148.8L497.2 135.7L504.4 123.8L511.4 110.0L518.0 94.7L523.7 78.8L527.9 63.2L530.3 49.2L530.4 38.1L528.1 30.6L524.0 27.3L518.3 27.0L511.3 29.5L503.2 33.9L495.6 39.0L487.8 44.6L472.7 56.4L453.0 72.4L440.1 83.3L433.8 88.9L428.5 94.0L424.1 98.5L420.2 102.7L416.9 106.5L409.5 115.5L407.5 117.8L405.6 119.7L403.6 121.3L401.3 122.8L398.8 123.8L396.2 124.3L393.4 124.2L389.7 123.2L385.7 121.2L381.5 118.0L377.0 113.6L372.7 108.3L368.6 102.0L365.0 95.0L362.0 87.8L360.1 80.9L359.3 75.0L360.0 70.5L362.0 67.8L364.9 66.9L368.6 67.6L373.0 69.6L377.7 72.7L382.2 76.3L386.6 80.3L390.6 84.5L394.3 88.8L397.5 93.1L400.2 97.3L402.3 101.3L404.0 105.2L405.5 109.9L406.2 114.2L406.2 118.1L405.6 121.6L404.4 124.6L402.6 126.9L400.2 128.6L397.2 129.4L393.4 129.1L388.8 127.4L383.6 124.0L377.9 118.8L373.3 113.3L368.7 106.7L364.5 99.1L360.8 91.1L358.0 83.0L356.4 75.6L356.3 69.5L357.7 65.3L360.1 63.3L363.7 63.0L368.1 64.2L373.0 66.8L378.0 70.2L383.0 74.3L387.8 78.7L392.3 83.2L396.1 87.6L399.5 91.9L402.4 96.2L404.8 100.2L407.0 104.8L408.6 109.1L409.7 113.1L410.4 116.9L410.5 121.3L410.0 125.2L408.9 128.7L407.2 131.6L405.3 133.6L402.9 135.1L400.0 135.8L396.5 135.8L390.9 134.1L384.3 129.9L376.8 122.8L368.9 112.5L363.9 104.3L359.4 95.3L355.7 85.8L353.2 76.7L352.0 68.8L352.5 62.6L354.8 58.8L358.5 57.3L363.3 58.1L368.9 60.6L374.9 64.5L381.0 69.1L386.2 73.5L391.1 78.1L395.5 82.7L399.6 87.2L403.2 91.7L406.3 96.0L409.0 100.2L411.1 104.2L413.2 108.9L414.8 113.3L415.9 117.5L416.5 121.5L416.7 125.1L416.6 128.6L416.2 131.8L415.5 134.8L414.5 137.5L413.3 139.9L411.6 142.0L409.7 143.8L406.6 145.5L402.7 146.3L398.1 145.8L392.5 143.8L386.8 140.3L380.3 134.8L373.2 127.0L365.9 116.7L360.3 107.1L355.1 96.4L350.7 85.2L347.5 74.2L345.8 64.4L345.9 56.6L348.0 51.4L351.8 49.1L356.8 49.3L362.8 51.6L369.4 55.4L376.2 60.2L382.2 64.9L387.9 69.7L393.3 74.6L398.3 79.3L402.4 83.6L406.2 87.7L409.5 91.7L412.5 95.5L415.9 100.4L418.8 105.1L421.1 109.5L422.9 113.7L425.0 119.7L426.5 125.3L427.0 128.0L427.8 133.0L428.4 139.6L428.7 147.0L428.6 154.4L428.0 162.0L427.4 165.6L426.9 167.9L426.3 170.2L425.5 172.2L424.5 174.1L423.0 176.1L421.1 177.7L418.7 179.1L415.5 179.9L411.7 180.1L406.9 179.4L400.8 177.3L393.2 173.0L386.3 167.7L378.3 160.0L369.4 149.2L359.7 134.9L352.4 122.0L345.2 107.2L338.6 91.1L333.0 74.4L328.9 58.3L326.9 44.2L327.2 33.2L329.9 26.1L334.4 23.3L340.6 23.6L348.0 26.6L356.5 31.5L364.3 36.9L372.2 42.7L387.6 54.7L408.8 71.5L422.2 82.3L428.6 87.7L434.0 92.4L438.6 96.7L442.7 100.7L454.0 112.4L456.1 114.4L458.2 116.1L460.2 117.4L462.6 118.4L465.1 119.0L467.8 119.0L470.6 118.4L474.2 116.8L478.1 114.1L482.0 110.5L485.9 105.8L489.5 100.3L492.7 94.3L495.2 88.1L496.7 82.3L497.1 77.4L496.3 73.8L494.3 71.9L491.3 71.5L487.3 72.7L482.8 75.3L478.2 79.0L473.7 83.2L470.2 87.1L467.1 91.0L464.4 94.9L462.2 98.8L460.3 102.9L459.1 106.8L458.4 110.4L458.3 113.7L458.8 116.9L460.0 119.5L461.8 121.5L464.2 122.7L467.3 122.9L470.9 122.0L475.1 119.7L479.6 116.1L483.8 111.7L487.9 106.2L491.9 99.7L495.2 92.8L497.8 85.8L499.3 79.3L499.4 74.1L498.1 70.4L495.8 68.8L492.6 68.6L488.8 69.9L484.4 72.3L479.9 75.6L475.5 79.3L471.4 83.5L467.6 87.8L464.4 91.9L461.7 96.0L459.5 100.0L457.7 103.8L456.3 108.3L455.5 112.5L455.4 116.3L455.9 119.6L457.1 122.6L458.9 125.0L461.5 126.6L464.7 127.1L468.7 126.5L473.2 124.4L478.4 120.5L483.9 114.9L488.3 109.2L492.5 102.5L496.3 95.2L499.4 87.5L501.5 80.2L502.3 73.9L501.7 69.0L499.8 65.9L496.8 64.9L492.9 65.4L488.4 67.4L483.5 70.5L478.8 74.1L474.1 78.2L469.8 82.5L465.8 86.9L462.4 91.3L459.4 95.6L457.0 99.7L455.0 103.7L453.3 108.1L452.2 112.3L451.7 116.3L451.6 119.9"/>
<path d="M184.3 319.5L184.4 316.6L184.8 313.8L186.8 307.2L190.0 301.0L194.1 295.3L199.0 290.1L204.7 285.5L210.6 282.4L216.2 281.1L221.3 282.0L225.6 286.1L227.8 293.3L227.4 303.0L224.2 314.2L219.6 323.9L213.5 333.0L206.2 341.1L198.1 347.8L190.7 352.6L183.2 356.4L175.8 359.2L168.7 361.1L162.0 362.5L155.7 363.4L149.9 363.8L144.7 364.0L138.1 364.0L123.9 363.3L118.2 363.4L115.9 363.6L113.8 363.9L111.9 364.5L110.0 365.2L108.2 366.1L104.4 368.5L99.8 372.1L85.9 383.1L81.5 386.4L76.4 389.8L71.1 392.7L65.9 394.8L61.2 395.6L57.3 394.9L54.7 392.4L53.7 388.3L54.7 383.0L56.8 377.9L60.2 372.9L64.5 368.2L69.4 364.1L74.5 360.8L79.8 358.2L84.8 356.4L89.5 355.2L93.5 354.6L97.0 354.3L100.1 354.3L102.7 354.5L105.1 355.0L106.9 355.6L108.2 356.4L109.1 357.3L109.5 358.7L109.3 360.3L108.4 362.1L106.9 364.3L105.2 366.3L100.5 371.3L97.5 374.3L92.5 378.9L86.5 384.0L79.6 389.4L72.0 394.4L66.9 397.1L61.9 398.9L57.4 399.5L53.6 398.7L50.8 396.3L49.4 392.4L49.6 387.3L51.4 381.3L54.5 375.5L58.7 369.9L63.7 364.8L69.4 360.5L75.0 357.2L80.5 354.7L85.9 352.9L90.9 351.7L95.3 351.0L99.2 350.6L102.7 350.6L105.7 350.7L108.3 351.0L110.4 351.4L112.2 351.9L113.5 352.4L114.9 353.1L115.7 354.0L116.1 354.9L116.1 355.9L115.8 356.8L115.3 357.9L113.4 360.5L107.8 366.7L100.2 374.2L93.9 380.2L86.1 387.0L77.0 394.3L71.0 398.5L64.9 402.1L58.8 404.7L53.0 405.8L48.1 405.0L44.5 402.1L42.6 397.0L42.7 390.2L44.6 383.1L48.2 375.8L53.1 368.7L59.1 362.4L65.5 357.2L72.2 353.1L78.9 350.0L85.4 347.8L90.7 346.4L95.7 345.5L100.2 345.0L104.3 344.7L108.5 344.7L112.1 344.8L117.9 345.3L128.1 347.0L129.3 347.0L130.5 346.6L131.8 345.6L134.2 343.3L158.2 318.4L166.1 310.6L175.8 301.5L187.4 291.9L200.3 283.5L207.1 280.6L213.6 279.3L219.3 280.2L223.9 283.4L226.8 289.3L227.8 297.4L226.4 307.0L222.9 317.5L217.8 327.2L211.3 336.2L203.6 344.0L195.3 350.4L187.9 354.8L180.5 358.2L173.3 360.7L166.4 362.5L159.3 363.8L152.8 364.5L146.8 364.9L141.5 365.0L135.3 364.8L121.8 364.2L118.8 364.2L116.1 364.3L113.8 364.6L111.7 365.0L109.8 365.7L107.9 366.4L104.2 368.6L99.6 371.9L90.7 378.9L82.3 385.2L77.7 388.2L73.0 390.9L68.4 393.0L64.0 394.2L60.2 394.1L57.3 392.7L55.6 389.9L55.4 385.9L56.7 381.0L59.2 376.3L62.6 371.6L66.9 367.4L71.7 363.7L76.6 360.8L81.5 358.6L86.2 357.1L90.5 356.2L94.2 355.7L97.4 355.5L100.2 355.7L102.5 356.0L104.5 356.6L106.0 357.5L106.9 358.5L107.3 359.6L107.2 361.3L106.3 363.2L104.8 365.4L102.7 367.9L97.4 373.5L89.8 380.4L83.4 385.7L76.1 390.9L68.3 395.2L60.8 397.5L57.0 397.4L54.0 396.0L52.1 393.2L51.4 389.2L52.2 384.3L54.4 378.8L57.9 373.3L62.4 368.1L67.8 363.4L73.5 359.6L79.4 356.7L85.1 354.7L89.7 353.5L93.9 352.8L97.6 352.4L101.0 352.4L104.0 352.5L106.5 352.9L108.6 353.3L110.2 353.9L111.4 354.7L112.3 355.5L112.7 356.4L112.8 357.4L112.6 358.5L112.0 359.7L110.0 362.7L106.1 367.1L100.3 372.9L95.0 377.9L88.6 383.6L80.9 389.9L72.2 396.0L66.8 399.1L61.5 401.4L56.4 402.5L52.0 402.2L48.5 400.1L46.4 396.4L46.0 391.1L47.2 384.7L49.9 378.3L53.9 371.9L59.0 366.0L64.9 360.9L70.8 356.8L76.9 353.6L82.9 351.3L88.6 349.6L93.4 348.7L97.9 348.1L101.8 347.8L105.4 347.7L110.6 348.0L114.6 348.5L117.7 349.3L118.9 349.7L120.5 350.4L121.1 350.8L121.8 351.6L121.9 352.0L121.8 353.0L121.2 354.2L119.3 356.7L112.6 363.8L94.0 382.4L83.7 391.8L76.6 397.7L68.8 403.5L60.6 408.5L52.4 411.9L46.4 412.7L41.4 411.5L37.6 408.0L35.4 402.3L35.2 394.7L37.2 385.8L41.2 376.6L46.9 367.6L52.3 361.4L58.2 355.9L64.6 351.3L71.1 347.5L77.5 344.6L83.9 342.3L89.9 340.7L95.6 339.6L101.7 338.9L107.3 338.5L112.2 338.4L116.6 338.4L128.5 339.1L133.3 339.2L136.7 338.8L139.5 338.0L140.8 337.3L143.5 335.7L147.0 333.0L165.3 316.6L171.5 311.4L178.6 306.1L186.2 301.0L194.1 297.3L199.3 295.9L203.9 296.1L207.4 297.9L209.6 301.6L210.2 306.9L209.0 313.4L206.0 320.3L201.4 327.2L195.6 333.4L189.0 338.7L182.0 342.8L175.1 345.8L169.8 347.5L164.7 348.7L160.1 349.4L156.0 349.7L152.5 349.9L149.4 349.8L144.4 349.3L142.1 348.9L138.8 348.0L136.9 347.1L135.9 346.3L135.6 345.3L135.8 344.2L136.6 342.7L139.1 339.7L147.7 330.7L160.6 318.0L169.9 309.2L181.5 299.6L188.0 294.9L194.8 290.8L201.6 287.8L208.0 286.4L213.6 287.3L217.8 290.6L220.1 296.5L220.1 304.6L218.1 312.9L214.4 321.6L209.0 329.9L202.3 337.4L195.3 343.3L188.0 348.1L180.5 351.8L173.3 354.5L167.5 356.1L162.1 357.2L157.0 357.9L152.3 358.3L146.3 358.5L141.1 358.5L128.2 357.7L124.5 357.7L121.6 357.9L120.4 358.2L118.0 359.1L115.5 360.5L112.6 362.7L109.0 365.9L92.3 381.1L85.9 386.6L78.5 392.4L70.4 397.9L62.0 402.2L56.4 403.8L51.5 403.8L47.6 401.9L45.2 398.1L44.4 392.4L45.6 385.6L48.7 378.1L53.5 370.7L59.4 364.1L66.2 358.6L73.3 354.2L80.5 351.0L86.1 349.1L91.3 347.9L96.2 347.1L100.6 346.6L104.2 346.4L110.2 346.5L112.7 346.7L117.4 347.4L120.6 348.1L123.5 349.1L124.3 349.6L124.8 350.0L125.0 350.5L124.9 351.3L124.2 352.4L121.8 355.1L110.0 367.5L99.5 378.4L92.1 385.7L85.5 391.9L77.9 398.6L69.5 405.4L60.4 411.6L53.5 415.2L46.7 417.4L40.5 417.6L35.4 415.4L31.7 410.6L29.9 403.4L30.4 394.2L33.2 383.9L37.6 374.4L43.5 365.3L50.7 357.2L58.6 350.4L66.0 345.5L73.5 341.7L80.8 338.9L87.9 336.8L94.7 335.4L100.9 334.5L106.7 334.0L111.9 333.8L118.5 333.9L136.0 334.6L138.6 334.5L140.9 334.3L143.0 333.9L145.0 333.4L146.8 332.7L148.6 331.8L152.5 329.3L157.1 325.8L170.9 314.8L175.3 311.5L180.4 308.2L185.6 305.4L190.7 303.4L195.3 302.6L199.2 303.3L201.7 305.8L202.6 309.8L201.7 315.1L199.5 320.1L196.2 325.1L191.9 329.7L187.0 333.8L181.9 337.1L176.7 339.6L171.7 341.4L167.1 342.5L163.1 343.2L159.6 343.4L156.6 343.4L154.0 343.2L151.7 342.7L149.9 342.0L148.7 341.2L147.9 340.3L147.5 338.8L147.9 337.2L148.8 335.3L150.4 333.1L154.5 328.5L160.4 322.6L165.6 317.9L171.9 312.6L179.1 307.3L186.9 302.5L191.9 300.2L196.7 298.9L200.9 299.0L204.2 300.5L206.3 303.7L206.9 308.2L205.9 313.7L203.3 319.9L199.6 325.6L194.8 331.0L189.4 335.6L183.6 339.4L178.1 342.1L172.8 344.1L167.8 345.5L163.1 346.4L159.0 346.9L155.4 347.1L152.2 347.0L149.5 346.7L147.2 346.3L145.3 345.9L143.8 345.3L142.7 344.7L141.8 343.9L141.3 343.0L141.2 342.1L141.4 341.0L141.9 339.9L142.6 338.7L145.0 335.7L149.2 331.1L155.5 324.8L160.6 320.0L166.8 314.4L174.1 308.2L182.4 302.0L188.3 298.2L194.2 295.2L199.9 293.3L205.2 292.9L209.5 294.4L212.4 298.0L213.5 303.4L212.7 310.4L210.3 317.3L206.5 324.4L201.3 331.0L195.3 336.9L189.0 341.5L182.5 345.3L176.0 348.0L169.8 350.0L164.7 351.2L159.9 352.0L155.5 352.4L151.6 352.6L147.7 352.6L141.4 352.2L135.3 351.3L128.6 349.7L128.0 349.7L127.5 349.9L125.1 352.2L107.7 371.1L94.9 384.5L86.0 393.5L75.1 403.6L66.8 410.4L57.9 416.7L48.7 421.6L39.8 424.0L33.6 423.5L28.5 420.4L25.0 414.5L23.5 406.2L24.1 395.9L27.1 384.6L32.2 373.1L39.2 362.3L45.1 355.4L51.6 349.3L58.3 344.1L65.3 339.8L72.3 336.4L79.2 333.7L85.9 331.7L92.3 330.3L101.1 328.9L109.2 328.3L116.3 328.1L122.6 328.2L141.9 329.1L146.0 329.1L149.4 328.8L152.4 328.3L155.1 327.4L157.2 326.5L159.3 325.4L163.6 322.8L175.4 315.1L179.4 312.8L183.4 311.0L187.1 309.9L190.3 309.8L192.8 310.9L194.0 313.1L193.9 316.3L192.3 320.2L190.1 323.6L187.0 326.9L183.5 329.9L179.7 332.3L175.8 334.1L172.1 335.4L168.7 336.2L165.8 336.5L163.3 336.4L161.4 336.1L160.0 335.4L159.1 334.5L158.6 332.9L159.1 330.9L160.5 328.5L162.8 325.8L165.4 323.0L168.7 320.0L172.6 316.9L176.9 313.8L180.9 311.4L184.9 309.5L188.7 308.3L192.0 308.2L194.5 309.2L196.0 311.4L196.1 314.6L194.8 318.6L192.7 322.4L189.6 326.1L186.0 329.5L181.9 332.4L177.6 334.7L173.5 336.3L169.6 337.4L166.2 338.0L163.3 338.1L160.9 338.0L159.0 337.5L157.6 336.8L156.5 335.7L156.2 334.2L156.6 332.4L157.7 330.3L159.5 327.8L162.0 325.1L165.2 322.0L168.9 318.7L173.6 315.0L178.8 311.4L184.3 308.4L189.6 306.5L193.0 306.1L195.8 306.8L197.7 308.5L198.5 311.4L198.1 315.1L196.5 319.3L193.8 323.6L190.1 327.7L185.5 331.7L180.5 334.9L175.4 337.2L170.6 338.8L166.9 339.6L163.6 340.0L160.7 340.1L158.3 339.8L156.1 339.3L154.6 338.5L153.6 337.5L153.2 336.3L153.3 334.8L154.0 333.0L155.3 331.0L157.2 328.6L159.6 326.0L162.5 323.0L166.1 319.8L170.2 316.3L176.0 311.9L182.5 307.8L189.0 304.7L195.0 303.6L198.1 304.2L200.2 306.0L201.3 309.0L201.2 312.9L199.8 317.4L197.3 322.2L193.6 326.9L189.2 331.1L184.3 334.8L179.1 337.7L174.0 339.8L169.2 341.2L165.2 342.0L161.6 342.4L158.5 342.5L155.9 342.3L153.5 341.8L151.7 341.2L150.4 340.4L149.6 339.4L149.2 338.2L149.4 336.8L150.0 335.2L151.2 333.4L152.7 331.4L157.3 326.4L160.3 323.4L164.9 319.2L170.4 314.5L176.7 309.7L183.5 305.2L188.4 302.7L193.2 300.9L197.5 300.3L201.2 300.9L203.8 303.1L205.2 306.8L205.0 311.5L203.2 317.1L200.3 322.6L196.2 327.8L191.4 332.6L186.0 336.6L180.7 339.7L175.3 342.0L170.2 343.7L165.5 344.8L161.4 345.4L157.7 345.6L154.5 345.6L151.8 345.4L149.3 345.0L147.3 344.5L145.9 343.8L144.8 343.1L144.0 342.1L143.7 340.9L143.9 339.6L144.6 338.1L145.5 336.7L146.8 335.1L150.3 331.1L157.0 324.4L161.4 320.2L166.7 315.5L172.3 310.7L178.7 305.9L185.5 301.3L192.6 297.6L198.0 295.7L202.9 295.3L206.9 296.7L209.6 299.8L210.8 304.8L210.1 311.0L207.6 318.0L203.4 325.1L198.2 331.4L192.0 337.0L185.3 341.5L178.5 344.9L172.9 347.0L167.6 348.5L162.7 349.5L158.2 350.0L154.3 350.3L150.9 350.3L145.3 350.0L140.9 349.3L139.2 348.9L136.9 348.1L136.1 347.7L135.1 346.9L134.6 346.1L134.6 345.2L134.8 344.7L135.6 343.4L137.0 341.7L139.2 339.2L147.0 331.1L157.1 321.0L164.3 314.0L173.2 306.0L183.7 297.3L195.5 289.6L201.9 286.6L207.9 285.1L213.4 285.4L217.8 287.8L220.7 292.5L221.9 299.2L221.0 307.5L218.0 316.6L213.6 325.1L207.7 333.2L200.9 340.2L193.3 346.1L186.4 350.3L179.4 353.5L172.7 355.9L166.2 357.6L160.4 358.6L155.0 359.3L150.0 359.7L145.6 359.8L139.8 359.7L127.6 359.1L123.3 359.0L119.9 359.3L117.1 360.1L114.5 361.5L112.9 362.4L109.6 365.0L91.0 381.4L85.4 386.1L79.1 391.0L72.2 395.6L66.8 398.6L61.5 400.8L56.5 401.8L52.2 401.2L48.9 399.0L47.1 395.0L46.9 389.6L48.5 383.2L51.5 376.9L55.6 370.7L60.8 365.1L66.7 360.3L72.5 356.5L78.5 353.6L84.2 351.5L89.7 350.0L94.4 349.2L98.6 348.7L102.5 348.4L105.8 348.5L110.6 348.8L114.2 349.4L115.9 349.8L118.4 350.7L119.7 351.7L120.1 352.2L120.3 352.7L120.2 353.9L119.5 355.4L118.0 357.4L115.6 360.1L111.2 364.7L97.7 378.1L91.9 383.6L85.1 389.7L77.2 396.3L68.5 402.6L62.2 406.4L55.9 409.2L49.9 410.5L44.6 410.0L40.5 407.3L37.9 402.3L37.3 395.4L38.8 387.1L41.9 379.0L46.6 370.9L52.5 363.5L59.4 357.1L66.2 352.2L73.2 348.3L80.1 345.4L86.7 343.3L92.2 342.1L97.2 341.2L101.9 340.7L106.2 340.4L111.9 340.3L116.8 340.4L128.5 341.2L131.6 341.3L133.0 341.2L135.3 340.8L137.4 340.0L139.6 338.7L142.2 336.7L145.6 333.7L161.0 319.3L166.9 314.0L173.8 308.2L181.7 302.2L190.1 296.9L195.8 294.1L201.3 292.6L206.3 292.5L210.3 294.2L213.0 297.9L214.1 303.3L213.3 310.1L210.6 317.6L206.7 324.6L201.5 331.3L195.5 337.2L188.9 342.0L182.7 345.6L176.5 348.3L170.5 350.2L164.9 351.6L160.1 352.4L155.7 352.8L151.8 353.1L148.3 353.1L144.3 352.9L138.3 352.3L128.9 350.7L127.5 350.7L126.5 351.0L125.3 351.9L123.2 354.0L106.7 371.3L94.8 383.5L86.1 392.0L75.6 401.4L63.5 410.7L56.6 415.0L49.6 418.1L42.9 419.6L36.9 419.0L32.1 415.9L28.9 410.1L27.8 402.0L29.0 392.1L32.0 382.1L37.0 372.0L43.5 362.7L51.1 354.5L58.7 348.3L66.7 343.2L74.7 339.4L82.5 336.6L89.2 334.8L95.5 333.5L101.5 332.7L107.0 332.3L115.2 332.0L122.1 332.2L136.6 332.8L139.9 332.8L142.7 332.6L145.1 332.2L147.3 331.7L149.3 331.0L151.2 330.1L155.3 327.5L160.1 324.0L170.0 316.4L174.1 313.5L178.4 310.7L182.9 308.1L187.4 306.1L191.7 305.0L195.3 305.1L198.1 306.4L199.6 309.1L199.8 313.0L198.4 317.6L196.0 322.1L192.6 326.5L188.5 330.5L183.9 333.9L179.1 336.5L174.5 338.6L170.0 339.9L165.9 340.8L162.5 341.2L159.4 341.2L156.9 341.0L154.9 340.5L153.1 339.8L151.9 338.8L151.4 337.6L151.4 336.2L152.0 334.3L153.3 332.1L155.3 329.6L158.0 326.6L161.1 323.5L164.9 320.1L169.2 316.3L174.2 312.5L179.2 308.9L184.4 305.8L189.7 303.3L194.7 302.1L198.9 302.5L201.9 304.6L203.2 308.5L202.6 313.8L200.7 318.8L197.6 324.0L193.4 328.9L188.5 333.2L183.2 336.8L177.9 339.5L172.7 341.5L167.8 342.8L163.7 343.6L160.1 343.9L156.9 344.0L154.2 343.8L151.7 343.4L149.7 342.8L148.3 342.0L147.3 341.2L146.8 340.1L146.7 339.0L147.0 337.7L147.7 336.2L148.9 334.5L150.4 332.6L154.6 327.9L162.5 320.3L167.7 315.8L173.6 310.9L179.2 306.8L185.1 303.0L191.1 300.0L196.9 298.3L202.0 298.3L205.7 300.5L207.6 304.8L207.4 311.0L205.5 317.0L202.2 323.1L197.6 329.0L192.1 334.2L186.4 338.4L180.4 341.7L174.5 344.2L168.8 345.9L164.2 346.9L160.0 347.5L156.2 347.7L152.9 347.8L149.9 347.6L145.4 346.9L143.7 346.4L142.2 345.8L141.1 345.2L140.4 344.5L139.9 343.8L139.8 343.0L139.9 342.1L140.3 341.2L141.7 338.9L144.3 335.8L148.7 331.1L156.3 323.6L161.3 318.9L166.7 313.9L173.0 308.5L180.2 302.9L187.9 297.7L193.8 294.4L199.7 292.2L205.1 291.4L209.7 292.4L213.1 295.5L214.9 300.6L214.7 307.3L212.6 315.0L209.1 322.3L204.2 329.3L198.4 335.6L191.8 341.0L185.4 345.0L179.0 348.1L172.8 350.4L166.8 352.0L161.8 352.9L157.2 353.5L153.0 353.8L149.3 353.9L144.9 353.9L141.3 353.6L128.2 352.1L126.5 352.1L124.8 352.8L122.6 354.4L120.1 356.8L96.8 380.4L88.9 387.9L79.4 396.4L68.2 405.2L56.1 412.4L49.6 414.7L43.5 415.3L38.3 413.7L34.5 409.6L32.5 403.1L32.6 394.8L34.9 385.3L39.3 375.3L45.2 366.4L52.2 358.4L60.1 351.7L68.5 346.4L75.4 343.0L82.3 340.5L88.8 338.7L95.0 337.4L101.7 336.5L107.7 336.1L113.1 336.0L117.8 336.0L130.7 336.6L136.6 336.6L139.1 336.3L141.3 335.8L143.3 335.1L146.5 333.4L150.0 330.9L169.3 314.7L174.5 310.8L180.1 306.9L185.2 303.7L190.5 301.2L195.4 299.8L199.8 299.6L203.3 301.1L205.5 304.3L206.0 308.9L204.9 314.7L202.4 320.2L198.7 325.8L194.0 330.9L188.7 335.4L183.2 338.9L177.7 341.7L172.3 343.7L167.2 345.0L162.8 345.8L158.9 346.2L155.4 346.4L152.5 346.3L149.8 346.0L147.6 345.5L145.8 345.0L144.5 344.4L143.2 343.4L142.6 342.4L142.5 341.2L142.8 339.9L143.4 338.7L144.3 337.3L147.1 334.0L152.1 328.7L155.5 325.4L164.6 316.8L170.7 311.6L177.6 306.1L185.1 300.8L190.8 297.6L196.5 295.2L201.8 294.1L206.4 294.7L209.9 297.1L211.8 301.5L212.0 307.4L210.3 314.4L207.2 321.1L202.8 327.7L197.3 333.7L191.2 338.8L185.1 342.7L178.9 345.8L172.9 348.0L167.2 349.6L162.3 350.6L157.8 351.1L153.8 351.4L150.2 351.5L144.0 351.1L139.5 350.5L136.6 349.9L134.6 349.3L132.8 348.5L132.0 347.8L131.8 347.1L132.2 346.1L133.8 344.1L150.2 326.9L156.7 320.2L163.9 313.0L172.9 304.6L183.6 295.4L195.7 286.8L202.5 283.3L209.1 281.0L215.1 280.6L220.3 282.4L224.2 286.6L226.3 293.2L226.2 301.7L224.0 311.6L220.1 321.1L214.6 330.3L207.7 338.7L200.0 345.8L192.6 351.0L185.0 355.1L177.5 358.2L170.3 360.5L163.8 362.0L157.6 362.9L152.0 363.5L146.8 363.8L139.8 363.8L121.0 363.1L117.9 363.2L115.3 363.5L112.9 364.0L111.1 364.7L109.3 365.4L105.7 367.6L101.3 370.9L88.4 381.3L84.0 384.7L79.2 388.0L74.3 391.1L69.3 393.6L64.4 395.3L60.0 395.7L56.5 394.7L54.3 392.0L53.6 387.9L54.6 382.7L56.9 377.7L60.3 372.6L64.6 368.0L69.5 363.9L74.7 360.6L79.9 358.1L84.9 356.3L89.6 355.1L93.6 354.4L97.2 354.2L100.2 354.2L102.8 354.4L105.2 354.9L107.1 355.5L108.4 356.3L109.2 357.2L109.7 358.5L109.5 360.1L108.7 361.9L107.2 364.0L105.6 366.0L101.0 370.9L98.1 373.8L93.2 378.4L87.3 383.4L80.5 388.8L73.0 393.9L67.9 396.7L62.8 398.8L58.2 399.7L54.2 399.2L51.1 397.1L49.4 393.5L49.3 388.6L50.7 382.7L53.5 376.8L57.5 371.1L62.4 365.8L68.0 361.3L73.6 357.8L79.3 355.1L84.8 353.1L89.9 351.7L94.4 350.9L98.4 350.5L102.0 350.4L105.1 350.5L107.8 350.7L110.1 351.1L113.4 352.0L114.9 352.8L115.8 353.6L116.3 354.5L116.4 355.5L116.2 356.4L115.8 357.4L114.1 359.9L109.0 365.6L102.1 372.5L96.5 377.8L89.7 384.1L81.5 391.0L75.1 395.8L68.4 400.3L61.4 403.9L54.7 405.9L48.9 405.7L44.5 402.9L42.2 397.3L42.5 389.5L44.7 382.2L48.5 374.7L53.8 367.5L60.1 361.2L66.6 356.2L73.4 352.2L80.1 349.3L86.6 347.2L91.8 345.9L96.7 345.1L101.1 344.6L105.2 344.4L109.4 344.4L116.2 344.8L128.2 346.5L129.7 346.4L131.2 345.9L132.9 344.6L135.0 342.5L149.6 327.5L160.6 316.3L168.1 309.1L177.0 301.1L184.8 294.6L193.4 288.5L202.3 283.7L210.8 281.1L216.6 281.4L221.2 283.8L224.5 288.6L226.0 295.6L225.4 304.4L222.8 314.1L218.1 324.0L211.8 333.4L206.1 339.7L199.9 345.3L193.4 350.0L186.7 353.8L180.0 356.9L173.5 359.1L167.3 360.8L161.4 362.0L154.1 362.9L147.6 363.4L141.8 363.5L136.7 363.4L123.8 362.8L120.7 362.7L118.0 362.8L115.6 363.1L113.5 363.6L111.5 364.3L109.7 365.1L106.1 367.3L101.8 370.6L88.9 381.1L84.2 384.8L79.0 388.4L73.6 391.8L68.8 394.2L64.2 395.8L60.0 396.3L56.5 395.5L54.1 393.3L53.0 389.6L53.4 385.0L55.4 379.6L58.4 374.4L62.5 369.5L67.2 365.1L72.5 361.4L77.6 358.6L82.7 356.6L87.5 355.1L91.9 354.2L95.8 353.7L99.2 353.6L102.1 353.7L104.6 354.0L106.8 354.6L108.5 355.3L109.6 356.1L110.3 357.0L110.6 358.3L110.3 359.8L109.5 361.4L108.3 363.3L104.7 367.5L99.4 372.9L94.7 377.4L89.0 382.4L82.2 387.9L74.7 393.3L69.5 396.4L64.2 398.9L59.2 400.3L54.8 400.3L51.2 398.8L49.0 395.6L48.2 390.9L49.2 385.0L51.6 379.0L55.2 373.0L60.0 367.3L65.5 362.4L71.2 358.4L77.1 355.3L82.9 353.0L88.4 351.4L93.0 350.5L97.3 349.9L101.1 349.7L104.4 349.7L107.3 349.8L109.7 350.1L113.5 350.9L115.3 351.6L116.6 352.3L117.4 353.1L117.8 353.9L117.9 354.7L117.7 355.5L116.7 357.3L114.8 359.9L109.0 366.1L101.6 373.5L96.6 378.3L91.1 383.3L84.8 388.9L77.5 394.8L69.6 400.4L63.5 403.9L57.4 406.5L51.7 407.7L46.7 407.0L42.9 404.1L40.7 399.2L40.5 392.5L42.4 384.6L45.7 377.1L50.4 369.7L56.2 363.1L62.9 357.3L69.4 353.0L76.0 349.6L82.5 347.1L88.6 345.3L93.8 344.2L98.6 343.5L102.9 343.2L106.9 343.0L111.6 343.0L115.6 343.2L129.1 344.5L131.6 344.3L133.5 343.6L135.6 342.1L138.6 339.5L157.0 321.3L163.2 315.4L170.6 308.5L179.4 301.1L189.3 294.0L195.6 290.2L201.9 287.5L207.9 286.2L213.2 286.8L217.3 289.6L219.9 294.6L220.6 301.6L219.2 310.0L216.1 318.4L211.5 326.6L205.5 334.3L198.6 341.0L191.7 346.1L184.5 350.2L177.4 353.3L170.6 355.5L165.1 356.8L160.0 357.7L155.2 358.3L150.8 358.6L144.6 358.7L139.3 358.6L128.8 358.0L124.9 357.9L121.8 358.1L120.5 358.3L118.1 359.1L115.5 360.6L112.7 362.6L110.9 364.1L92.5 380.8L87.4 385.2L79.5 391.5L70.7 397.6L61.5 402.1L53.0 403.6L49.1 402.4L46.4 399.7L44.9 395.4L45.0 389.8L46.7 383.3L49.8 376.5L54.4 369.9L59.9 363.9L66.0 358.9L72.5 354.9L78.9 351.9L85.2 349.7L90.4 348.3L95.2 347.5L99.5 347.0L103.5 346.7L106.9 346.7L112.5 347.0L116.6 347.6L120.7 348.6L123.0 349.5L124.0 350.3L124.3 350.8L124.3 351.5L123.9 352.2L123.2 353.2L121.2 355.5L103.8 373.7L96.3 381.2L90.0 387.3L82.6 394.1L74.1 401.3L64.7 408.2L57.9 412.2L51.1 415.1L44.7 416.3L39.0 415.4L34.6 412.0L31.9 406.2L31.3 398.1L33.0 388.5L36.4 379.2L41.5 370.0L48.0 361.6L55.5 354.3L62.8 348.8L70.4 344.5L77.9 341.1L85.2 338.8L91.4 337.2L97.3 336.2L102.7 335.6L107.7 335.2L114.9 335.1L121.1 335.2L134.0 335.8L137.0 335.7L139.6 335.5L141.8 335.1L143.6 334.5L145.3 333.8L147.0 333.0L150.6 330.5L155.1 327.0L168.8 315.7L173.3 312.2L180.0 307.6L187.0 303.6L193.8 301.2L199.7 301.2L202.4 302.7L204.1 305.6L204.6 309.5L203.7 314.4L201.4 319.7L198.0 325.0L193.6 330.0L188.5 334.3L183.2 337.8L177.8 340.6L172.5 342.5L167.5 343.9L163.3 344.6L159.5 345.0L156.2 345.1L153.4 345.0L150.7 344.6L148.7 344.1L147.1 343.5L145.9 342.7L145.1 341.8L144.7 340.9L144.7 339.8L145.1 338.5L145.8 337.2L148.2 333.9L152.6 329.1L155.8 325.9L164.2 318.1L169.6 313.4L175.7 308.5L182.5 303.6L189.7 299.5L195.0 297.3L200.0 296.2L204.3 296.7L207.6 299.0L209.5 303.0L209.7 308.4L208.1 314.8L204.8 321.6L200.4 327.9L195.0 333.6L188.9 338.4L182.6 342.2L176.9 344.8L171.4 346.7L166.2 348.0L161.4 348.9L155.5 349.4L150.6 349.4L144.8 348.9L141.6 348.3L140.1 347.8L138.9 347.4L137.3 346.5L136.8 346.0L136.5 345.5L136.4 344.9L136.4 344.3L136.6 343.6L137.5 342.1L138.3 341.1L140.4 338.6L144.2 334.6L155.2 323.4L162.2 316.8L170.9 308.8L181.5 300.1L193.4 292.1L199.5 289.2L205.4 287.6L210.7 287.6L215.0 289.6L218.0 293.7L219.3 299.8L218.7 307.4L216.1 315.8L212.0 323.9L206.5 331.6L200.0 338.4L192.9 344.1L186.1 348.2L179.4 351.4L172.8 353.8L166.5 355.5L161.2 356.5L156.3 357.1L151.9 357.5L147.8 357.6L142.2 357.6L128.4 356.7L125.1 356.6L122.6 356.9L121.4 357.1L119.4 357.9L117.1 359.2L114.6 361.2L111.1 364.2L95.6 378.7L90.7 383.1L83.2 389.5L74.6 396.0L65.2 401.8L56.0 405.3L51.0 405.6L46.9 404.3L44.0 401.1L42.6 396.2L42.9 389.9L44.9 382.7L48.6 375.2L53.8 368.1L60.0 361.7L66.9 356.4L74.0 352.3L81.1 349.3L86.8 347.5L92.1 346.3L97.0 345.5L101.5 345.0L105.7 344.8L109.4 344.8L112.6 345.0L118.1 345.5L128.0 347.2L129.2 347.2L130.1 346.9L131.3 346.0L133.4 344.0L154.3 322.1L160.5 315.8L168.1 308.4L175.1 301.8L183.1 295.0L191.9 288.3L201.2 282.7L208.1 279.8L214.7 278.6L220.5 279.8L225.0 283.5L227.7 289.9L228.4 298.5L226.6 308.6L222.6 319.4L217.1 329.2L210.2 338.2L202.3 345.9L193.7 352.1L186.3 356.2L179.0 359.4L171.8 361.7L165.0 363.3L157.7 364.6L151.0 365.2L144.9 365.5L139.5 365.5L120.5 364.8L117.4 364.8L114.8 364.9L112.5 365.3L110.4 365.8L108.4 366.4L106.4 367.3L102.6 369.6L97.8 373.1L88.4 380.4L84.2 383.5L79.8 386.5L75.1 389.4L70.6 391.6L66.4 393.1L62.5 393.5L59.3 392.8L57.1 390.8L56.2 387.6L56.7 383.4L58.6 378.7L61.4 374.1L65.2 369.7L69.6 365.9L74.5 362.6L79.2 360.2L83.8 358.4L88.2 357.3L92.1 356.6L95.5 356.3L98.4 356.3L100.9 356.6L102.8 357.1L104.6 358.0L105.6 359.0L106.1 360.3L106.0 361.7L105.2 363.5L103.9 365.7L102.0 368.1L99.4 370.9L96.3 374.0L92.5 377.5L88.1 381.3L83.1 385.3L78.0 389.0L72.5 392.4L67.0 395.0L61.8 396.4L57.4 396.2L54.2 394.1L52.7 390.1L53.2 384.6L55.2 379.4L58.4 374.1L62.6 369.0L67.6 364.5L73.0 360.9L78.4 358.0L83.8 356.0L88.8 354.6L92.9 353.8L96.7 353.4L100.0 353.4L102.8 353.5L105.3 353.9L107.4 354.4L108.9 355.1L110.0 355.9L110.7 356.8L111.0 357.9L110.9 359.1L110.4 360.4L109.5 361.9L108.3 363.6L104.7 367.7L98.1 374.3L93.7 378.4L88.6 382.9L82.9 387.6L76.5 392.3L69.7 396.5L62.8 399.6L57.8 400.8L53.5 400.5L50.2 398.6L48.2 394.9L47.9 389.7L49.2 383.6L52.3 377.0L56.8 370.5L62.6 364.5L69.1 359.5L75.9 355.6L82.6 352.8L87.8 351.3L92.6 350.2L97.0 349.6L100.9 349.3L104.3 349.3L107.3 349.5L112.0 350.1L114.1 350.6L115.8 351.2L117.0 351.8L117.8 352.5L118.3 353.1L118.5 353.7L118.5 354.4L118.4 355.2L117.4 357.0L115.6 359.3L112.2 363.0L107.3 368.1L94.3 380.6L84.9 389.2L73.4 398.2L67.4 402.2L61.3 405.6L55.2 407.8L49.6 408.5L44.9 407.3L41.4 404.0L39.6 398.6L39.8 391.4L41.8 383.8L45.4 376.0L50.5 368.4L56.8 361.6L63.4 356.1L70.4 351.6L77.4 348.2L84.3 345.8L89.8 344.3L95.0 343.3L99.9 342.7L104.3 342.3L109.3 342.2L117.5 342.5L126.9 343.4L129.7 343.5L131.9 343.3L132.8 343.1L134.4 342.6L136.8 341.1L138.9 339.4L143.5 335.1L160.2 318.8L165.8 313.6L172.1 308.0L179.3 302.1L187.2 296.4L195.5 291.6L201.6 289.2L207.3 288.2L212.3 289.2L216.0 292.3L218.1 297.6L218.3 304.6L216.4 312.8L212.6 321.5L207.4 329.3L201.1 336.4L194.1 342.4L186.6 347.2L180.1 350.4L173.7 352.8L167.6 354.5L161.9 355.6L156.6 356.3L151.8 356.7L147.5 356.8L139.0 356.6L129.3 355.8L126.2 355.7L123.8 355.9L122.8 356.1L120.9 356.7L118.9 357.8L115.5 360.5L112.1 363.5L96.4 378.5L91.2 383.2L83.5 389.9L74.4 396.9L64.5 403.2L54.6 407.0L49.5 407.3L45.3 405.8L42.3 402.4L40.9 397.2L41.1 390.6L43.2 383.0L47.1 375.2L52.4 367.7L58.8 361.1L65.8 355.6L73.2 351.3L80.5 348.1L86.3 346.2L91.8 344.9L96.8 344.1L101.5 343.6L106.2 343.3L114.0 343.5L117.1 343.7L128.4 344.9L130.6 344.8L131.8 344.6L132.9 344.1L134.9 342.8L137.7 340.3L160.5 317.6L167.1 311.4L174.9 304.5L182.4 298.4L190.5 292.6L199.0 287.9L207.3 285.4L212.7 285.4L217.1 287.5L220.2 291.8L221.6 298.0L221.1 305.9L218.7 314.7L214.3 323.6L208.4 332.2L201.5 339.5L193.9 345.6L185.9 350.4L178.0 353.9L171.8 356.0L165.9 357.5L160.3 358.5L155.1 359.1L148.8 359.6L143.3 359.6L138.5 359.5L126.3 358.8L122.4 358.9L119.4 359.3L116.6 360.3L113.9 361.8L110.7 364.1L106.8 367.5L93.8 379.1L89.2 383.1L82.5 388.6L74.9 394.1L66.8 398.8L58.8 401.7L54.2 402.0L50.5 400.8L47.8 398.0L46.6 393.7L46.9 388.0L48.8 381.6L52.3 375.0L57.1 368.7L62.9 362.9L69.4 358.2L76.0 354.5L82.6 351.8L87.8 350.3L92.7 349.2L97.2 348.6L101.2 348.3L104.6 348.2L107.6 348.3L110.3 348.5L114.8 349.2L118.0 350.1L119.8 351.1L120.3 351.5L120.8 352.4L120.8 353.6L120.1 354.9L119.5 355.8L117.8 357.9L109.8 366.4L100.5 375.6L93.0 382.8L83.6 391.3L72.4 400.3L66.1 404.6L59.6 408.1L53.3 410.5L47.4 411.3L42.4 410.0L38.7 406.5L36.7 400.7L36.8 393.0L38.8 384.8L42.6 376.3L47.9 368.1L54.4 360.8L61.3 354.9L68.6 350.1L76.0 346.4L83.2 343.7L89.0 342.1L94.4 341.0L99.5 340.3L104.1 339.9L110.1 339.6L115.2 339.7L128.0 340.5L131.6 340.6L134.5 340.3L135.7 340.1L138.1 339.3L140.5 338.0L143.2 335.9L146.7 332.9L162.3 318.5L168.3 313.3L175.2 307.6L182.9 302.0L191.1 297.1L196.7 294.7L202.0 293.6L206.6 294.1L210.1 296.4L212.2 300.6L212.6 306.3L211.2 313.1L207.9 320.5L203.5 327.3L198.0 333.5L191.7 338.9L185.1 343.2L179.0 346.2L173.1 348.4L167.5 349.9L162.3 351.0L157.9 351.5L153.9 351.8L150.3 351.9L147.1 351.8L140.9 351.3L136.7 350.6L132.8 349.5L131.7 349.0L130.9 348.5L130.5 348.1L130.6 347.5L131.2 346.5L133.1 344.4L156.3 319.9L163.4 312.7L170.1 306.2L177.7 299.2L186.4 292.0L195.8 285.2L203.0 281.2L210.1 278.5L216.7 277.8L222.3 279.5L226.6 283.9L229.0 290.9L229.1 300.2L226.8 310.9L222.7 321.0L217.0 330.8L209.9 339.7L201.8 347.2L194.2 352.7L186.4 357.0L178.7 360.3L171.2 362.7L164.1 364.3L157.5 365.4L151.4 366.0L145.8 366.3L138.4 366.3L118.5 365.5L115.2 365.6L112.4 365.9L109.8 366.4L107.8 367.0L105.8 367.8L101.8 370.0L97.0 373.4L87.9 380.4L83.9 383.3L79.6 386.1L75.1 388.8L70.8 390.8L66.7 392.2L63.1 392.5L60.1 391.7L58.1 389.6L57.4 386.5L58.0 382.4L60.0 377.8L62.9 373.5L66.7 369.3L71.1 365.7L75.8 362.8L80.3 360.6L84.7 359.0L88.8 358.0L92.5 357.4L95.7 357.3L98.4 357.4L100.5 357.8L102.2 358.4L103.7 359.4L104.4 360.7L104.4 362.2L103.8 364.0L102.6 366.0L100.8 368.4L98.4 371.1L95.4 374.1L91.5 377.7L87.0 381.6L81.7 385.7L76.0 389.6L71.4 392.2L66.8 394.1L62.5 395.1L58.9 394.9L56.1 393.3L54.5 390.4L54.3 386.2L55.7 381.3L58.2 376.3L61.8 371.5L66.1 367.1L71.1 363.3L76.1 360.3L81.1 358.0L86.0 356.4L90.4 355.4L94.3 354.9L97.7 354.7L100.6 354.7L103.0 355.1L105.2 355.6L106.9 356.3L108.0 357.2L108.6 358.2L108.8 359.7L108.3 361.4L107.2 363.3L105.5 365.6L101.1 370.4L98.2 373.4L94.7 376.6L89.1 381.6L82.5 387.0L74.9 392.3L67.0 396.6L62.0 398.4L57.5 398.9L53.8 397.9L51.2 395.3L50.0 391.1L50.6 385.7L52.8 379.6L56.6 373.4L61.4 367.8L67.0 362.8L73.0 358.8L79.2 355.8L84.3 353.9L89.2 352.6L93.7 351.7L97.8 351.3L101.4 351.2L104.5 351.2L107.2 351.5L109.4 351.9L111.5 352.5L113.1 353.2L114.1 354.0L114.7 354.9L115.0 355.8L114.9 356.8L114.5 357.9L112.8 360.6L111.5 362.2L107.9 366.1L100.9 373.1L96.3 377.6L90.7 382.6L84.9 387.6L78.4 392.7L71.3 397.7L64.0 401.8L58.3 403.9L53.1 404.7L48.7 403.7L45.5 400.8L43.8 396.0L43.9 389.8L46.0 382.5L49.8 375.0L54.8 368.2L60.8 362.1L67.4 357.0L74.4 353.0L80.3 350.4L86.1 348.5L91.5 347.2L96.5 346.4L100.6 346.0L104.4 345.8L110.8 345.9L114.2 346.1L119.4 346.9L123.3 347.8L125.3 348.5L126.4 348.9L126.9 349.4L127.0 349.9L125.8 351.4L105.1 373.6L91.3 387.9L84.4 394.6L76.4 401.9L67.4 409.4L57.7 416.1L50.4 420.1L43.2 422.4L36.6 422.7L31.0 420.3L26.9 415.1L24.8 407.2L25.1 397.2L27.8 385.8L32.3 375.1L38.5 364.9L46.0 355.9L54.5 348.2L62.3 342.7L70.3 338.4L78.2 335.2L85.8 332.8L93.4 331.1L100.5 330.1L107.0 329.5L113.0 329.2L120.5 329.3L141.0 330.2L144.5 330.1L147.5 329.9L150.1 329.4L152.4 328.7L154.5 327.9L158.7 325.7L163.6 322.5L172.7 316.1L176.6 313.7L180.5 311.5L184.4 309.7L188.1 308.6L191.3 308.4L193.8 309.2L195.3 311.2L195.7 314.0L194.9 317.6L192.9 321.5L189.9 325.5L185.9 329.2L181.3 332.4L176.7 334.8L172.2 336.5L168.7 337.3L165.5 337.8L162.8 337.8L160.6 337.5L158.7 336.9L157.5 336.1L156.8 335.0L156.7 333.6L157.2 331.8L158.4 329.7L160.2 327.4L162.7 324.7L165.7 321.7L169.4 318.5L173.6 315.2L178.1 312.1L182.3 309.6L186.5 307.7L190.4 306.6L193.8 306.6L196.4 307.8L197.9 310.3L198.0 313.8L196.7 318.0L194.4 322.2L191.2 326.2L187.3 329.9L183.0 333.1L178.5 335.6L174.0 337.4L169.9 338.7L166.1 339.4L162.9 339.7L160.1 339.6L157.9 339.3L156.2 338.8L154.7 337.8L153.9 336.6L153.8 335.1L154.3 333.4L155.5 331.3L157.4 328.8L159.9 325.9L163.2 322.7L167.1 319.1L171.7 315.4L176.9 311.6L182.4 308.1L186.8 305.9L191.0 304.5L194.9 304.1L197.9 304.9L200.0 307.0L200.9 310.4L200.3 314.6L198.3 319.5L195.4 324.2L191.5 328.6L186.9 332.5L182.1 335.7L177.3 338.1L172.6 339.9L168.2 341.0L164.3 341.7L160.8 342.0L157.9 342.0L155.4 341.7L153.4 341.2L151.7 340.4L150.6 339.4L150.1 338.3L150.1 336.9"/>
<path d="M467.4 417.7L471.1 416.1L474.7 414.2L483.0 409.1L490.9 402.8L498.2 395.0L504.7 385.7L510.5 374.2L514.5 361.1L516.1 346.6L515.0 331.5L509.7 314.6L500.6 299.7L488.4 288.2L474.2 281.1L462.0 278.6L450.4 279.1L440.2 282.1L431.6 286.8L425.5 291.9L420.8 297.4L417.3 303.1L414.7 308.8L413.0 314.3L411.9 319.5L411.3 324.4L411.1 329.0L411.2 335.0L412.0 349.9L412.0 353.6L411.9 357.0L411.7 360.2L411.2 363.2L410.5 365.9L409.6 368.4L408.5 370.6L407.2 372.6L405.4 374.6L403.3 376.1L400.9 377.3L398.2 377.9L394.8 378.0L390.9 377.1L386.9 375.2L382.7 372.2L378.5 367.5L374.8 361.3L372.1 353.7L371.1 345.0L372.0 335.7L375.1 326.8L380.3 319.2L387.1 313.6L393.5 310.9L399.8 310.0L405.8 310.9L411.0 313.2L415.2 316.5L418.4 320.5L420.7 325.0L422.2 329.7L423.1 334.1L423.4 338.4L423.4 342.7L423.1 346.8L422.6 351.3L421.7 355.6L420.7 359.7L419.6 363.6L417.8 368.3L415.8 372.5L413.5 376.3L410.8 379.6L408.2 381.8L405.2 383.5L401.9 384.7L398.1 385.2L392.3 384.5L385.8 381.8L378.9 376.5L372.6 368.3L369.2 361.4L366.9 353.3L366.1 344.2L367.1 334.8L370.2 325.6L375.1 317.4L381.6 310.8L389.2 306.4L396.5 304.5L403.7 304.5L410.1 306.2L415.5 309.3L419.7 313.1L422.9 317.5L425.2 322.2L426.7 327.0L427.6 331.6L428.0 336.0L428.1 340.4L428.0 344.6L427.1 352.7L425.8 360.2L424.9 364.7L422.7 373.0L421.4 376.8L420.2 380.0L418.8 382.9L417.3 385.7L415.6 388.2L413.3 390.7L410.8 392.9L407.8 394.6L404.3 395.9L398.2 396.5L390.7 395.2L382.0 391.1L372.7 383.2L367.5 376.5L362.9 368.0L359.6 357.8L358.2 346.3L359.2 334.1L362.9 322.0L369.3 311.3L378.0 302.8L386.9 297.8L396.2 295.3L405.2 295.3L413.2 297.4L419.7 300.9L424.9 305.4L428.9 310.5L431.7 315.9L433.4 320.6L434.5 325.3L435.2 329.8L435.5 334.1L435.6 338.9L435.1 347.8L433.7 363.3L432.9 373.2L432.7 379.3L432.7 386.4L433.2 394.3L434.1 400.3L435.0 404.2L435.6 406.4L436.4 408.4L437.4 410.3L438.5 412.1L440.1 414.1L442.0 415.9L444.4 417.5L447.2 418.8L451.1 419.8L455.9 420.2L461.8 419.8L468.9 418.1L478.8 413.9L490.2 406.1L502.4 393.2L513.0 374.2L516.7 361.5L518.4 347.3L517.3 332.2L513.1 317.1L505.7 303.1L495.5 291.4L483.3 282.8L470.0 277.9L457.7 276.6L446.3 278.1L436.5 281.9L428.3 287.2L422.8 292.4L418.5 298.0L415.3 303.7L413.1 309.2L411.4 315.0L410.5 320.5L410.0 325.5L409.9 330.2L410.1 335.9L410.8 349.9L410.9 353.5L410.7 356.9L410.4 360.0L409.8 362.8L409.0 365.4L408.0 367.7L406.8 369.8L405.4 371.6L403.4 373.3L401.2 374.6L398.6 375.4L395.8 375.6L392.2 375.1L388.3 373.6L384.3 370.9L380.4 366.9L377.0 361.8L374.4 355.5L372.9 348.1L373.0 340.2L374.8 332.1L378.3 324.7L383.4 318.6L389.6 314.4L395.6 312.4L401.5 312.1L406.9 313.4L411.5 315.9L415.1 319.3L417.9 323.3L419.8 327.7L421.1 332.2L421.7 336.5L421.9 340.9L421.7 345.0L421.2 349.1L420.4 353.6L419.4 358.0L418.1 362.0L416.7 365.8L414.6 370.0L412.2 373.7L409.4 376.9L406.1 379.4L402.8 380.9L399.1 381.7L394.9 381.7L390.3 380.5L383.7 376.9L377.1 370.4L371.6 360.5L368.7 347.9L368.8 339.5L370.6 331.1L374.1 323.2L379.2 316.5L385.5 311.3L392.4 308.2L399.4 307.0L406.0 307.8L411.9 310.2L416.7 313.8L420.3 318.3L422.9 323.3L424.4 327.7L425.3 332.2L425.8 336.6L425.9 340.9L425.7 345.3L425.2 349.6L424.6 353.7L422.9 361.7L421.9 365.6L420.8 369.3L419.5 372.7L418.1 375.9L416.5 378.9L414.8 381.6L412.8 384.1L410.2 386.5L407.2 388.4L403.8 389.8L399.8 390.6L393.6 390.2L386.3 387.6L378.3 382.1L370.6 373.1L366.7 365.9L363.8 357.3L362.4 347.7L362.8 337.4L365.4 327.0L370.1 317.5L376.8 309.5L384.9 303.7L393.0 300.6L401.1 299.7L408.6 300.9L415.1 303.6L420.2 307.4L424.3 311.8L427.2 316.7L429.3 321.7L430.6 326.4L431.3 330.9L431.7 335.3L431.8 339.6L431.6 343.3L431.1 350.3L429.8 360.4L427.8 372.5L426.3 380.8L424.3 388.7L422.6 393.8L421.6 396.2L420.4 398.4L418.7 401.0L416.6 403.3L414.2 405.4L411.3 407.0L405.5 408.8L397.8 408.9L387.9 406.4L376.0 399.7L368.4 393.1L361.1 383.8L354.8 371.8L350.5 357.0L349.5 344.1L351.0 330.5L355.4 317.3L362.6 305.3L372.3 295.5L383.5 288.9L395.2 285.5L406.5 285.4L414.4 287.1L421.4 290.2L427.2 294.2L432.0 298.8L435.8 303.7L438.6 308.7L440.6 313.7L442.0 318.6L443.0 324.1L443.4 329.3L443.6 334.2L443.5 338.8L442.7 353.7L442.5 358.0L442.7 364.7L443.0 367.8L443.5 370.7L444.1 373.4L444.9 376.0L445.9 378.4L447.0 380.7L448.6 383.0L450.4 385.1L452.6 386.8L455.0 388.2L458.3 389.3L462.1 389.8L466.4 389.5L471.1 388.1L477.7 384.7L484.5 378.8L490.8 370.1L495.6 358.5L497.3 348.9L497.2 338.5L494.8 328.1L490.1 318.3L483.4 310.2L475.2 304.3L466.5 301.0L457.8 300.4L449.8 302.1L443.1 305.6L437.9 310.4L434.1 315.9L432.0 320.6L430.5 325.3L429.6 329.9L429.2 334.5L429.0 338.6L429.1 342.7L429.4 346.5L429.7 350.3L430.8 358.4L432.5 368.9L434.1 377.5L435.5 383.3L437.1 388.6L438.1 391.3L439.2 393.8L440.4 396.2L441.9 398.4L444.0 400.9L446.6 403.1L449.6 404.9L453.3 406.3L460.3 407.0L469.3 405.4L480.5 400.2L492.7 389.7L498.7 381.9L503.9 372.0L507.7 360.3L509.4 347.0L508.3 332.7L504.0 318.7L496.5 306.1L486.3 296.1L475.8 290.1L464.9 287.1L454.3 286.9L444.8 289.2L437.3 293.1L431.2 298.0L426.5 303.5L423.2 309.3L421.2 314.1L419.8 318.8L418.9 323.4L418.3 327.7L418.0 333.7L418.1 339.2L419.1 356.3L419.2 362.7L418.8 368.6L418.0 373.9L417.4 376.6L416.6 379.2L415.6 381.6L414.4 383.8L412.8 386.1L410.9 388.2L408.8 389.9L406.3 391.4L402.9 392.6L399.0 393.1L394.5 392.8L389.5 391.5L382.5 388.0L375.2 381.9L368.2 372.7L362.8 360.3L360.8 350.1L360.8 339.1L363.2 327.9L368.0 317.4L375.1 308.6L383.8 302.1L393.2 298.5L402.6 297.7L410.9 299.4L418.0 303.0L423.5 307.8L427.6 313.5L429.9 318.2L431.5 323.0L432.6 327.7L433.1 332.3L433.4 336.3L433.4 340.1L433.0 347.5L432.1 355.5L428.5 384.7L427.6 391.3L426.3 398.2L425.1 402.7L424.4 405.0L423.4 407.1L422.4 409.1L420.5 411.7L418.2 414.1L415.3 416.1L411.6 417.6L406.7 418.6L400.6 418.6L392.9 417.1L383.6 413.6L375.7 409.0L367.2 402.1L358.6 392.4L350.8 379.4L346.3 367.5L343.6 354.0L343.3 339.2L346.1 323.9L352.1 309.3L361.3 296.5L372.8 286.7L385.9 280.4L398.0 278.0L409.5 278.5L419.8 281.4L428.4 286.1L434.5 291.1L439.4 296.7L443.0 302.4L445.5 308.1L447.3 313.6L448.4 318.8L449.1 323.7L449.3 328.3L449.3 334.3L448.5 349.3L448.4 353.0L448.5 356.5L448.8 359.7L449.2 362.7L449.9 365.5L450.8 368.0L451.9 370.2L453.3 372.2L455.0 374.2L457.1 375.7L459.5 376.8L462.1 377.5L465.6 377.5L469.4 376.7L473.4 374.8L477.6 371.7L481.7 367.1L485.4 360.9L487.9 353.3L488.9 344.7L488.0 335.6L484.8 326.8L479.7 319.3L473.0 313.9L466.7 311.2L460.4 310.4L454.5 311.3L449.4 313.6L445.2 316.9L442.1 320.9L439.8 325.3L438.3 330.0L437.5 334.4L437.1 338.7L437.2 343.0L437.5 347.1L438.1 351.6L439.0 355.9L440.0 360.0L441.2 363.9L443.0 368.5L445.1 372.7L447.5 376.4L450.3 379.5L453.0 381.7L456.1 383.3L459.6 384.3L463.5 384.5L469.5 383.4L476.2 380.1L483.0 374.1L489.0 364.9L491.9 357.5L493.5 348.9L493.5 339.7L491.5 330.4L487.5 321.6L481.8 314.2L474.8 308.8L467.0 305.6L459.7 304.7L453.0 305.8L447.1 308.4L442.3 312.1L438.8 316.2L436.3 320.7L434.5 325.4L433.4 330.1L432.8 334.6L432.6 339.1L432.7 343.4L433.0 347.5L434.1 355.7L435.6 363.2L437.7 371.3L438.9 375.1L440.2 378.5L441.6 381.6L443.2 384.4L444.9 386.9L446.9 389.2L449.6 391.6L452.8 393.5L456.4 394.8L460.7 395.3L466.8 394.8L473.9 392.3L481.8 387.4L489.7 379.3L494.4 372.0L498.3 363.1L500.7 352.8L501.2 341.5L499.3 329.7L494.8 318.5L487.9 308.9L479.1 301.7L470.2 297.6L461.3 296.0L452.9 296.6L445.5 299.2L439.6 302.9L434.9 307.4L431.3 312.5L428.8 317.7L427.3 322.4L426.3 327.0L425.8 331.5L425.5 335.8L425.5 340.4L426.1 349.1L428.2 370.2L429.0 381.5L429.2 388.7L429.2 394.6L428.9 405.5L428.5 410.6L428.0 414.0L427.2 417.5L426.7 419.3L425.2 422.6L424.1 424.3L422.8 425.9L421.1 427.4L418.9 428.6L416.1 429.8L412.5 430.6L407.9 430.9L402.2 430.5L394.6 428.9L385.1 425.5L373.7 419.2L361.0 408.7L352.3 398.5L344.3 385.3L338.2 368.9L335.1 349.7L335.8 333.4L339.8 317.0L347.1 301.6L357.6 288.2L370.7 278.0L385.1 271.5L399.6 269.0L413.3 270.0L422.1 272.6L429.8 276.3L436.3 280.8L441.7 285.8L446.1 291.0L449.5 296.3L452.0 301.6L453.9 306.6L455.6 313.5L456.4 319.8L456.6 325.5L456.5 330.5L455.3 347.2L455.3 351.1L455.7 354.5L456.4 357.4L457.4 359.9L458.6 361.6L459.9 362.9L461.5 363.9L463.3 364.5L465.6 364.7L468.0 364.3L470.6 363.1L473.1 361.1L475.9 357.7L478.2 353.2L479.6 347.7L479.8 341.7L478.4 335.3L475.6 329.6L471.5 325.1L466.6 322.3L462.2 321.4L458.1 321.8L454.4 323.4L451.3 325.9L449.0 329.0L447.3 332.7L446.3 336.5L445.9 340.5L446.0 344.3L446.5 348.1L447.3 351.7L448.5 355.1L450.5 359.3L453.0 362.9L456.0 365.7L459.5 367.5L463.0 368.2L466.8 367.8L470.8 366.1L474.7 363.0L477.7 359.1L480.2 354.1L481.6 348.2L481.8 341.6L480.5 335.0L477.7 328.9L473.6 323.9L468.6 320.5L463.8 319.0L459.1 319.0L454.8 320.2L451.2 322.6L448.3 325.7L446.2 329.4L444.8 333.5L444.1 337.6L443.9 341.6L444.1 345.6L444.7 349.4L445.5 353.1L447.0 357.5L448.9 361.5L451.2 365.0L453.8 367.8L456.9 370.0L460.4 371.4L464.3 371.7L468.5 370.8L473.2 368.4L477.7 364.0L481.5 357.8L484.0 349.8L484.4 343.3L483.6 336.6L481.4 330.1L477.8 324.4L473.1 319.9L467.8 317.0L462.3 315.8L457.0 316.2L452.1 318.2L448.0 321.4L445.0 325.6L443.0 330.2L442.0 334.3L441.5 338.4L441.5 342.5L441.7 346.5L442.4 350.9L443.4 355.0L444.7 358.9L446.2 362.6L448.1 366.2L450.4 369.4L453.0 372.0L455.9 374.1L459.3 375.5L463.0 376.1L467.1 375.6L471.5 374.0L477.2 370.1L482.3 363.6L486.2 354.6L487.6 343.8L486.8 336.4L484.5 329.3L480.8 322.9L475.9 317.7L470.1 314.1L464.1 312.2L458.1 312.1L452.8 313.6L448.1 316.3L444.5 320.0L441.8 324.3L440.0 329.0L439.0 333.3L438.5 337.5L438.4 341.8L438.6 345.9L439.2 350.4L440.0 354.7L441.1 358.7L442.3 362.6L443.8 366.4L445.6 370.0L447.6 373.2L449.9 376.0L452.5 378.3L455.4 380.2L458.8 381.4L462.5 381.9L467.9 381.3L473.7 378.9L479.8 374.3L485.5 367.1L488.8 360.6L491.0 353.0L491.8 344.6L491.0 335.7L488.2 327.0L483.6 319.3L477.5 313.1L470.5 309.0L463.6 307.1L456.9 307.2L450.9 308.9L445.8 311.9L441.9 315.6L438.9 319.9L436.8 324.5L435.5 329.2L434.7 333.7L434.4 338.1L434.4 342.4L434.7 346.6L435.2 351.0L435.9 355.2L437.6 363.0L438.9 367.6L440.4 371.8L442.0 375.7L443.9 379.3L445.7 382.0L447.8 384.5L450.1 386.7L452.8 388.5L456.7 390.1L461.3 390.8L466.6 390.4L472.6 388.5L478.6 385.0L484.8 379.6L490.6 371.9L495.3 361.8L497.6 352.4L498.1 342.0L496.4 331.3L492.4 321.0L486.1 312.1L478.2 305.3L469.4 301.1L460.4 299.6L452.4 300.5L445.3 303.4L439.6 307.6L435.3 312.7L432.7 317.3L430.8 322.1L429.5 326.8L428.8 331.5L428.5 335.8L428.5 339.9L428.9 347.8L429.8 355.7L431.8 369.0L433.8 380.2L435.6 388.1L437.2 393.2L438.2 395.6L439.4 398.1L440.9 400.5L442.6 402.7L444.6 404.7L448.2 407.1L452.7 408.8L458.5 409.5L465.6 408.8L474.4 405.9L484.6 399.8L495.6 389.2L505.4 373.1L509.1 362.1L511.0 349.8L510.6 336.5L507.6 323.1L501.6 310.4L493.1 299.6L482.7 291.4L471.2 286.4L460.3 284.7L450.2 285.6L441.2 288.6L433.8 293.2L428.5 298.0L424.4 303.3L421.4 308.7L419.3 314.0L417.9 319.1L417.1 323.9L416.6 328.4L416.4 332.8L416.5 338.7L417.5 357.5L417.3 364.0L417.0 367.0L416.6 369.9L416.0 372.6L415.3 375.1L414.3 377.5L413.1 380.0L411.6 382.2L409.9 384.2L407.8 386.0L405.1 387.6L402.0 388.7L398.5 389.1L394.5 388.9L389.1 387.5L383.1 384.3L376.9 379.2L371.1 371.8L367.3 364.6L364.5 356.0L363.3 346.4L364.0 336.1L366.8 326.0L371.9 316.7L378.7 309.2L386.9 303.9L394.8 301.4L402.6 301.0L409.7 302.4L415.8 305.4L420.6 309.3L424.3 313.7L427.0 318.6L428.8 323.5L429.9 328.1L430.5 332.6L430.8 337.0L430.8 341.3L430.4 348.2L429.1 358.5L426.7 372.0L424.7 380.7L423.0 386.5L422.0 389.2L420.9 391.7L419.5 394.3L417.9 396.8L416.1 399.0L414.0 400.9L410.3 403.2L405.7 404.8L400.1 405.3L393.2 404.4L386.3 402.0L378.5 397.6L370.2 390.5L362.2 380.3L357.4 371.1L353.9 360.3L352.2 348.1L352.9 335.0L356.3 321.9L362.6 309.9L371.3 299.9L381.9 292.7L392.2 289.1L402.3 288.1L411.7 289.5L419.8 292.8L426.0 297.1L430.9 302.1L434.7 307.5L437.3 312.9L438.9 317.6L440.0 322.1L440.6 326.4L441.0 330.6L441.1 336.6L440.9 342.1L440.0 358.8L439.9 365.0L440.2 370.6L440.9 375.8L441.5 378.5L442.3 381.0L443.2 383.4L444.3 385.7L445.8 388.0L447.5 390.2L449.5 392.1L451.8 393.7L454.9 395.1L458.6 396.0L462.9 396.1L467.7 395.4L474.4 392.9L481.8 388.2L489.4 380.7L496.1 370.0L499.6 361.0L501.6 350.8L501.7 339.6L499.5 328.3L494.8 317.5L488.0 308.2L479.4 301.1L469.9 296.8L461.0 295.3L452.5 296.0L445.1 298.6L438.9 302.5L434.5 306.9L431.0 311.7L428.5 316.7L426.8 321.8L425.8 326.3L425.2 330.7L425.0 334.9L424.9 339.0L425.1 344.0L425.5 348.7L427.0 364.3L427.7 373.7L428.0 384.4L427.8 392.7L427.1 400.1L426.0 405.9L424.7 410.0L423.8 411.9L422.8 413.7L421.4 415.7L419.7 417.5L417.6 419.1L415.1 420.4L411.6 421.6L407.2 422.3L401.8 422.2L395.3 421.2L386.4 418.2L375.7 412.4L363.8 402.5L352.0 387.2L346.6 376.2L342.6 363.4L340.7 348.9L341.4 333.4L345.4 317.8L352.7 303.3L363.0 291.1L375.5 282.0L388.2 276.9L400.9 275.1L412.8 276.3L423.2 279.8L431.1 284.5L437.4 290.1L442.3 296.1L445.8 302.2L448.1 307.5L449.7 312.7L450.7 317.5L451.3 322.1L451.6 329.1L451.4 335.3L450.6 349.9L450.6 353.7L450.9 357.1L451.4 360.2L452.0 362.9L453.0 365.3L454.1 367.5L455.5 369.3L457.3 371.0L459.4 372.3L461.8 373.1L464.4 373.4L467.8 373.0L471.4 371.6L475.1 369.2L478.6 365.6L481.9 360.8L484.4 354.8L485.8 347.8L485.8 340.2L484.0 332.6L480.6 325.6L475.7 319.9L469.8 316.0L464.2 314.2L458.6 314.1L453.6 315.4L449.3 317.9L445.9 321.3L443.3 325.2L441.6 329.5L440.5 333.9L440.0 338.2L440.0 342.4L440.3 346.5L440.8 350.5L441.8 355.1L443.1 359.4L444.6 363.3L446.3 367.0L448.7 370.7L451.5 373.9L454.7 376.4L458.4 378.1L462.4 378.8L466.7 378.5L471.5 376.9L476.4 373.8L480.9 369.4L484.9 363.4L487.9 355.9L489.5 347.2L489.1 337.7L486.4 328.4L481.5 320.3L474.7 314.1L468.3 310.9L461.8 309.6L455.6 310.2L450.1 312.2L445.6 315.4L442.1 319.5L439.6 324.0L437.9 328.7L437.0 333.1L436.6 337.5L436.5 341.7L436.7 345.9L437.3 350.4L438.0 354.7L438.9 358.8L440.0 362.7L441.3 366.6L442.8 370.2L444.5 373.6L446.4 376.6L448.5 379.4L450.9 381.7L453.7 383.6L456.8 385.0L461.3 385.9L466.5 385.6L472.2 383.7L478.4 380.0L483.6 375.1L488.3 368.4L492.2 359.9L494.4 349.8L494.3 338.6L491.5 327.5L486.0 317.5L478.2 309.8L470.7 305.7L462.9 303.8L455.5 304.0L448.9 306.1L443.5 309.5L439.3 313.7L436.2 318.5L434.0 323.6L432.8 328.1L432.0 332.6L431.7 337.0L431.7 341.3L431.9 345.5L432.3 349.5L433.4 357.1L434.9 365.1L436.8 372.4L438.8 379.0L440.0 382.0L441.4 384.8L443.0 387.5L444.8 390.1L446.8 392.3L449.2 394.3L452.8 396.3L457.1 397.6L462.3 397.9L468.2 396.9L474.5 394.6L481.4 390.3L488.5 383.8L495.1 374.6L499.3 365.9L502.1 355.7L503.1 344.3L501.7 332.3L497.8 320.7L491.4 310.3L483.0 302.0L473.2 296.5L463.9 294.2L455.1 294.2L447.1 296.2L440.3 299.8L435.2 304.1L431.3 308.9L428.4 314.0L426.4 319.1L425.1 323.7L424.4 328.2L424.0 332.5L423.9 336.6L423.9 341.8L424.2 346.7L425.6 362.5L426.0 368.9L426.3 377.5L426.0 384.3L425.3 390.5L424.5 394.9L424.0 396.9L423.3 399.2L422.4 401.4L421.4 403.5L420.2 405.4L418.6 407.5L416.6 409.4L414.3 411.1L411.5 412.4L407.6 413.5L402.8 414.0L397.1 413.6L390.4 411.9L380.9 407.6L370.0 399.7L358.9 386.9L349.8 368.5L346.9 355.8L346.1 342.0L348.2 327.6L353.4 313.5L361.6 301.0L372.1 291.1L384.2 284.5L396.8 281.5L408.1 281.7L418.2 284.4L426.7 289.0L433.4 294.8L437.7 300.0L440.9 305.4L443.2 310.7L444.8 315.9L445.9 321.6L446.4 327.0L446.6 332.0L446.5 336.6L445.8 351.2L445.7 355.4L445.8 359.7L446.1 363.6L446.8 367.2L447.7 370.5L448.7 373.0L449.9 375.3L451.4 377.3L453.0 379.1L455.3 380.8L457.9 382.1L460.9 382.9L464.2 383.1L468.7 382.3L473.5 380.4L478.5 376.9L483.5 371.8L487.5 365.9L490.6 358.5L492.5 349.9L492.6 340.6L490.7 331.0L486.7 322.1L480.9 314.7L473.6 309.3L466.5 306.6L459.5 305.8L453.0 306.9L447.3 309.5L442.8 313.0L439.4 317.2L436.8 321.9L435.1 326.7L434.1 331.2L433.6 335.6L433.5 340.0L433.6 344.2L434.0 348.5L434.5 352.7L436.0 360.5L437.2 365.4L438.5 370.0L440.0 374.2L441.6 378.2L443.2 381.1L444.9 383.9L446.9 386.3L449.1 388.5L452.2 390.6L455.8 392.1L460.0 393.0L464.9 392.8L470.9 391.3L477.5 388.0L484.5 382.4L491.1 374.1L495.3 366.4L498.3 357.1L499.6 346.7L498.9 335.7L495.8 324.7L490.3 314.7L482.8 306.6L473.9 300.9L465.4 298.3L457.1 297.9L449.5 299.5L443.0 302.7L438.1 306.7L434.2 311.3L431.3 316.3L429.3 321.3L428.1 325.9L427.4 330.5L427.1 334.8L427.0 339.1L427.4 347.5L428.6 358.5L431.9 384.7L433.0 391.6L434.3 398.4L435.6 402.8L436.4 404.9L437.6 407.4L439.0 409.7L440.7 411.8L442.8 413.7L446.6 416.0L451.6 417.5L458.2 418.0L466.6 416.7L475.7 413.3L486.4 406.9L498.0 396.1L508.9 379.7L513.4 368.4L516.2 355.3L516.7 341.1L514.5 326.3L509.1 311.9L500.8 299.1L490.0 288.9L477.5 282.0L465.4 278.8L453.8 278.6L443.2 280.9L434.2 285.1L427.6 290.0L422.4 295.5L418.4 301.3L415.6 307.0L413.7 312.3L412.5 317.4L411.8 322.3L411.4 326.8L411.3 333.1L412.1 348.7L412.2 353.2L412.1 357.4L411.7 361.1L411.1 364.6L410.3 367.2L409.3 369.6L408.1 371.7L406.6 373.6L404.7 375.5L402.4 376.9L399.9 377.8L397.0 378.2L393.3 378.0L389.2 376.7L385.0 374.2L380.7 370.5L376.8 365.4L373.6 359.0L371.5 351.3L370.9 342.7L372.3 333.8L375.6 325.4L380.8 318.3L387.5 313.2L393.8 310.6L400.2 309.8L406.1 310.8L411.3 313.1L415.4 316.5L418.6 320.5L420.9 325.0L422.4 329.6L423.2 334.0L423.6 338.4L423.6 342.7L423.3 346.8L422.7 351.3L421.9 355.6L420.9 359.7L419.8 363.6L418.1 368.2L416.1 372.5L413.8 376.3L411.1 379.6L408.6 381.8L405.7 383.6L402.4 384.9L398.7 385.5L392.9 385.0L386.5 382.5L379.7 377.6L373.2 369.8L369.7 363.1L367.1 355.1L366.0 346.2L366.6 336.7L369.2 327.3L373.7 318.8L380.0 311.8L387.5 306.9L394.9 304.5L402.2 304.0L408.8 305.4L414.5 308.3L419.0 312.0L422.4 316.3L425.0 321.0L426.7 325.8L427.7 330.4L428.2 334.9L428.4 339.3L428.2 343.5L427.9 347.6L427.5 351.6L426.3 359.1L424.3 368.2L423.2 372.4L421.9 376.3L420.8 379.5L419.5 382.5L418.0 385.3L416.4 387.9L414.3 390.5L411.9 392.7L409.1 394.6L405.9 396.0L400.4 397.1L393.7 396.5L385.7 393.8L376.9 387.9L370.8 381.7L365.1 373.4L360.6 362.9L358.1 350.6L358.3 336.9L361.9 323.2L368.9 311.1L378.8 301.7L388.1 296.9L397.6 294.7L406.7 295.0L414.7 297.5L421.0 301.3L426.0 306.0L429.8 311.2L432.4 316.7L434.0 321.3L435.0 325.9L435.6 330.4L435.9 334.7L435.9 339.6L435.4 348.7L434.0 364.1L433.5 370.8L433.3 379.9L433.4 384.5L433.6 388.8L434.0 393.0L434.7 396.9L435.7 401.3L436.4 403.3L437.2 405.2L438.3 407.4L439.6 409.4L441.2 411.3L443.0 413.0L445.6 414.7L448.8 416.0L452.7 417.0L457.3 417.3L463.7 416.6L471.5 414.4L480.6 410.1L490.8 402.7L499.0 394.1L506.7 382.6L512.8 368.0L516.1 350.6L515.8 336.4L512.7 322.1L506.6 308.5L497.7 296.6L486.6 287.5L474.3 281.6L461.8 279.1L449.9 279.8L441.8 282.0L434.8 285.5L428.8 289.8L424.0 294.6L420.2 299.6L417.3 304.7L415.1 309.8L413.7 314.7L412.5 320.8L411.9 326.5L411.8 331.8L411.9 336.6L412.7 350.7L412.7 354.6L412.6 358.4L412.2 361.8L411.6 365.0L410.7 367.9L409.7 370.4L408.4 372.6L406.9 374.6L405.2 376.2L402.8 377.7L400.1 378.8L397.1 379.2L393.8 379.0L389.5 377.8L384.8 375.2L380.2 371.1L375.9 365.4L372.9 359.2L370.9 351.8L370.2 343.7L371.2 335.2L374.1 327.0L378.7 319.8L384.6 314.1L391.4 310.5L397.9 309.1L404.2 309.4L409.7 311.3L414.4 314.4L417.9 318.2L420.5 322.4L422.4 326.9L423.5 331.5L424.1 336.0L424.3 340.4L424.1 344.6L423.7 348.8L423.0 353.3L422.2 357.6L421.1 361.7L419.9 365.5L418.3 369.8L416.5 373.7L414.4 377.3L412.0 380.4L409.5 382.7L406.7 384.7L403.5 386.1L399.8 386.8L394.2 386.6L387.8 384.6L380.9 380.2L374.0 373.0L370.1 366.5L367.0 358.8L365.2 349.8L365.1 340.1L367.1 330.2L371.1 320.9L377.1 313.1L384.6 307.2L392.2 303.9L399.8 302.8L406.9 303.6L413.2 306.1L418.2 309.6L422.1 313.9L425.0 318.6L427.0 323.6L428.3 328.1L429.0 332.6L429.3 337.0L429.3 341.3L429.1 345.4L428.7 349.3L427.7 356.7L425.9 366.2L423.9 374.8L421.9 381.0L420.8 383.9L419.6 386.5L418.0 389.3L416.3 391.8L414.3 394.0L412.0 396.0L408.5 398.1L404.2 399.5L399.1 400.0L393.0 399.2L386.6 397.0L379.6 392.9L372.1 386.5L365.1 377.4L360.5 368.6L357.3 358.3L355.8 346.7L356.7 334.4L360.3 322.1L366.5 310.9L375.0 301.9L385.0 295.7L394.6 292.8L403.9 292.4L412.3 294.1L419.6 297.6L425.0 301.8L429.3 306.6L432.5 311.8L434.8 317.1L436.2 321.7L437.0 326.2L437.5 330.5L437.7 334.7L437.7 340.1L437.5 345.1L436.2 361.2L435.9 367.5L435.9 373.3L436.1 378.7L436.6 383.4L437.0 385.6L438.1 390.2L438.8 392.5L439.7 394.8L440.7 396.8L442.2 399.1L443.9 401.2L445.8 403.1L448.1 404.7L451.4 406.2L455.2 407.2L459.8 407.5L465.2 406.9L472.7 404.7L481.4 400.1L490.7 392.3L499.8 380.6L504.6 371.2L508.0 360.1L509.6 347.7L508.9 334.5L505.3 321.2L499.0 309.0L490.2 298.8L479.5 291.4L468.9 287.5L458.4 286.4L448.7 287.7L440.3 291.0L433.8 295.3L428.6 300.3L424.7 305.8L421.9 311.3L420.2 316.0L419.1 320.5L418.4 324.8L418.0 329.0L417.8 335.2L417.9 340.9L418.7 354.7L418.9 361.4L418.6 367.4L417.9 372.9L417.3 375.4L416.5 378.1L415.5 380.6L414.3 382.9L412.9 385.1L411.0 387.2L408.9 389.1L406.3 390.6L403.5 391.7L399.5 392.4L395.0 392.2L389.9 391.0L384.3 388.4L376.3 382.4L368.6 372.6L362.8 358.9L361.0 342.0L362.4 331.9L365.9 322.1L371.4 313.3L378.4 306.2L386.6 301.2L395.3 298.6L403.6 298.3L411.2 300.0L417.5 303.2L422.6 307.5L426.5 312.4L429.3 317.7L431.0 322.4L432.1 327.0L432.7 331.5L433.0 335.9L433.0 340.0L432.9 343.9L432.2 351.3L431.0 361.3L428.2 382.6L426.6 392.1L425.5 396.8L424.1 401.3L423.2 403.4L421.9 405.9L420.4 408.3L418.5 410.4L416.3 412.3L412.0 414.5L406.4 415.9L398.9 415.8L389.3 413.5L381.6 410.0L373.0 404.3L363.9 395.8L355.2 383.7L350.1 373.1L346.4 360.7L344.9 346.8L346.0 332.0L350.3 317.3L357.7 303.8L367.9 292.7L380.1 284.8L391.9 280.9L403.5 279.9L414.2 281.6L423.4 285.4L430.4 290.0L435.9 295.4L440.1 301.1L443.1 306.9L445.0 312.0L446.3 316.9L447.1 321.6L447.6 326.0L447.8 332.6L447.6 338.6L447.0 348.9L446.8 353.4L446.9 357.6L447.2 361.4L447.8 364.9L448.4 367.6L449.3 370.2L450.4 372.5L451.7 374.5L453.5 376.6L455.6 378.3L458.0 379.6L460.6 380.4L464.2 380.7L468.1 380.1L472.3 378.6L476.7 375.8L482.6 370.1L487.6 361.6L490.7 350.7L490.7 338.2L488.7 330.2L485.1 322.7L480.1 316.4L474.0 311.6L467.3 308.8L460.5 307.8L454.2 308.6L448.7 310.9L444.3 314.3L440.8 318.4L438.3 322.9L436.6 327.7L435.6 332.1L435.1 336.6L435.0 340.9L435.2 345.1L435.7 349.5L436.3 353.8L437.1 357.8L438.1 361.7L439.2 365.7L440.4 369.4L441.8 372.8L443.4 376.1L445.1 379.0L447.0 381.7L449.3 384.0L451.8 386.0L455.3 387.9L459.3 389.0L464.0 389.1L469.3 388.1L475.2 385.5L481.5 380.9L487.6 374.1L492.8 364.8L495.6 356.2L496.9 346.6L496.3 336.3L493.5 326.2L488.4 316.9L481.5 309.3L473.4 304.0L464.8 301.3L456.8 301.1L449.7 302.8L443.6 306.1L438.7 310.4L435.4 314.9L433.0 319.5L431.3 324.3L430.3 329.1L429.8 332.3L429.5 338.7L429.7 344.6L430.2 350.3L431.6 360.2L433.3 370.1L435.3 379.0L436.9 384.9L438.9 390.2L440.2 392.9L441.6 395.3L443.3 397.6L445.2 399.7L448.3 402.0L452.2 403.8L456.8 404.9L462.5 404.9L470.9 403.0L481.0 397.9L492.1 388.2L502.1 372.7L505.8 362.6L507.9 351.1L507.8 338.6L505.3 325.9L500.1 313.8L492.4 303.3L482.8 295.3L472.1 290.2L461.9 288.2L452.1 288.7L443.5 291.4L436.3 295.5L431.1 300.2L427.0 305.3L424.0 310.6L421.9 315.9L420.7 320.5L419.9 324.9L419.4 329.2L419.2 333.3L419.3 339.4L420.2 355.0L420.4 361.6L420.3 367.7L420.1 370.5L419.4 375.8L418.8 378.3L418.1 380.9L417.1 383.4L416.0 385.7L414.7 387.8L413.0 390.1L410.9 392.1L408.5 393.7L405.8 395.0L402.0 396.0L397.6 396.2L392.5 395.4L386.9 393.5L378.8 388.6L370.6 380.4L363.3 368.2L358.8 352.2L358.4 341.4L360.1 330.4L364.1 319.7L370.4 310.2L378.4 302.7L387.5 297.7L396.9 295.3L406.0 295.5L414.0 297.9L420.7 301.8L426.0 306.9L429.8 312.5L432.0 317.2L433.6 322.0L434.6 326.7L435.2 331.2L435.4 335.8L435.4 340.2L435.2 344.4L433.1 368.1L432.5 378.0L432.4 384.0L432.5 389.5L432.8 395.0L433.3 398.9L433.9 402.9L434.9 406.8L436.4 410.8L437.5 412.8L438.8 414.6L440.3 416.3L442.4 418.1L445.0 419.6L448.2 420.7L452.2 421.5L457.5 421.6L464.1 420.7L472.1 418.3L481.6 413.7L489.8 407.9L498.5 399.6L507.0 388.3L514.1 373.7L517.8 360.5L519.2 345.8L517.8 330.2L513.1 314.8L505.0 300.6L494.1 289.0L481.3 280.8L467.5 276.4L455.1 275.8L443.8 277.8L434.1 282.1L426.2 287.7L421.0 293.1L417.0 298.7L414.0 304.4L412.0 309.8L410.4 315.8L409.6 321.4L409.2 326.5L409.2 331.3L410.1 350.2L410.1 353.7L409.9 357.0L409.5 360.0L408.9 362.8L408.0 365.3L406.9 367.5L405.6 369.5L404.1 371.1L402.0 372.6L399.6 373.7L397.0 374.2L394.1 374.1L390.4 373.1L386.5 371.0L382.6 367.7L379.0 363.1L376.2 357.6L374.3 351.0L373.7 343.8L374.6 336.2L377.1 328.9L381.2 322.5L386.5 317.5L392.6 314.4L398.4 313.2L403.9 313.7L408.8 315.6L412.8 318.6L415.9 322.2L418.2 326.2L419.7 330.5L420.5 335.0L420.9 339.3L420.8 343.6L420.5 347.7L419.8 351.7L418.8 356.4L417.4 360.7L415.8 364.8L414.0 368.5L411.7 372.0L409.0 375.0L405.9 377.4L402.4 379.1L398.4 379.9L394.0 379.7L389.2 378.2L384.1 375.2L379.4 370.8L375.2 364.8L371.9 357.1L370.1 348.1L370.3 338.2L373.0 328.5L378.0 319.9L385.0 313.4L391.6 310.0L398.4 308.7L404.8 309.2L410.5 311.3L415.1 314.5L418.7 318.6L421.3 323.1L423.0 327.9L424.0 332.4L424.5 336.7L424.6 341.0L424.4 345.2L423.9 349.7L423.2 354.0L422.4 358.1L421.4 362.0L420.2 365.9L418.9 369.6L417.4 373.0L415.7 376.2L413.8 379.1L411.6 381.6L409.2 383.8L406.4 385.6L402.5 387.1L398.0 387.6L392.9 387.1L387.2 385.0L381.2 381.3L375.3 375.5L369.9 367.4L366.0 357.0L364.5 347.7L364.9 337.8L367.4 327.8L372.0 318.7L378.5 311.1L386.3 305.6L394.7 302.7L402.9 302.3L410.5 304.1L416.9 307.7L421.8 312.6L425.3 318.1L427.3 322.7L428.6 327.3L429.3 331.9L429.7 336.4L429.7 340.6L429.5 344.8L428.8 352.6L427.4 361.5L425.7 369.6L424.1 376.2L422.3 382.1L421.2 385.0L420.0 387.8L418.6 390.3L417.0 392.7L414.9 395.2L412.4 397.4L409.4 399.2L406.0 400.5L399.0 401.4L390.0 399.7L379.2 394.2L367.8 383.3L362.7 375.7L358.5 366.4L355.6 355.6L354.7 343.6L356.3 331.0L360.5 318.8L367.3 308.0L376.4 299.4L386.0 294.0L396.0 291.4L405.5 291.3L414.2 293.5L421.1 297.1L426.8 301.8L431.1 307.0L434.2 312.6L436.1 317.4L437.3 322.0L438.1 326.6L438.6 330.9L438.8 336.3L438.6 341.4L437.5 358.3L437.1 365.2L437.1 371.5L437.5 377.3L438.2 382.2L439.3 386.7L440.2 389.2L441.2 391.5L442.3 393.8L443.7 395.8L445.6 398.0L447.8 399.9L450.4 401.5L453.4 402.7L457.6 403.5L462.5 403.6L468.3 402.5L474.9 400.0L482.0 395.8L489.5 389.3L496.7 380.2L502.8 368.1L505.9 357.2L507.1 345.1L505.8 332.4L501.9 319.9L495.2 308.5L486.3 299.3L476.0 292.9L465.0 289.8L455.1 289.6L446.1 291.7L438.5 295.5L432.4 300.6L428.4 305.4L425.4 310.5L423.2 315.7L421.8 320.7L420.9 325.6L420.4 330.2L420.2 334.7L420.2 338.9L420.5 344.5L421.4 359.2L421.6 365.5L421.4 371.2L420.8 376.6L419.8 381.4L419.0 384.0L418.0 386.4L416.9 388.7L415.6 390.8L413.8 393.0L411.7 395.0L409.3 396.7L406.5 398.0L402.6 398.9L398.0 399.1L392.8 398.4L386.8 396.3L378.3 391.3L369.4 382.6L361.5 369.5L356.7 352.3L356.4 341.0L358.2 329.5L362.5 318.3L369.0 308.5L377.5 300.7L387.1 295.4L396.9 293.0L406.4 293.2L414.8 295.6L421.8 299.7L427.2 304.8L431.3 310.5L433.6 315.4L435.3 320.2L436.4 324.9L437.0 329.5L437.3 334.4L437.3 339.1L437.1 343.6L435.6 363.0L435.4 367.5L435.3 375.3L435.7 382.5L436.3 386.8L436.8 389.2L438.0 393.8L438.8 395.9L439.9 398.2L441.2 400.4L442.7 402.4L444.4 404.2L446.8 406.1L449.8 407.7L453.2 408.8L457.3 409.4L463.0 409.1L469.8 407.5L477.7 404.1L486.5 398.2L494.2 390.7L501.5 380.3L507.5 367.0L510.7 350.9L510.6 338.0L508.0 324.9L502.6 312.4L494.7 301.5L484.7 293.0L473.6 287.5L462.2 285.0L451.4 285.6L442.2 288.4L434.5 292.9L428.4 298.5L423.9 304.6L421.3 309.5L419.4 314.5L418.1 319.3L417.3 323.9L416.7 329.8L416.6 335.3L416.8 340.4L417.5 352.9L417.7 359.7L417.4 365.9L417.0 368.8L416.5 371.5L415.9 374.2L415.0 376.8L413.9 379.2L412.7 381.4L411.0 383.7L409.0 385.6L406.7 387.3L404.1 388.5L400.6 389.4L396.5 389.6L392.0 388.9L387.0 387.0L380.0 382.6L373.0 375.4L367.0 364.9L363.4 351.5L363.0 341.9L364.5 331.9L368.0 322.4L373.6 313.9L380.7 307.2L388.8 302.7L397.2 300.6L405.2 300.8L412.5 303.1L418.5 306.8L423.2 311.6L426.5 316.9L428.5 321.5L429.9 326.2L430.7 330.8L431.1 335.2L431.2 339.4L431.0 343.3L430.4 350.8L428.7 363.1L426.4 375.8L424.3 384.4L422.6 389.7L421.5 392.3L420.3 394.8L418.9 397.1L417.3 399.3L414.8 401.8L411.8 403.9L408.1 405.5L403.7 406.4L396.5 406.2L387.3 403.6L376.5 397.5L365.1 386.2L359.7 378.1L355.2 368.1L352.2 356.6L351.2 343.7L352.8 330.2L357.4 317.1L364.7 305.4L374.4 296.1L384.8 290.3L395.5 287.4L405.9 287.3L415.2 289.5L422.7 293.3L428.8 298.1L433.4 303.6L436.8 309.4L438.8 314.2L440.2 318.9L441.1 323.4L441.7 327.8L442.0 333.7L441.9 339.2L440.9 356.1L440.8 362.5L441.1 368.4L441.4 371.1L442.4 376.4L443.2 379.0L444.1 381.4L445.2 383.7L446.7 386.1L448.4 388.2L450.5 390.0L452.8 391.6L456.0 393.0L459.7 393.7L463.9 393.8L468.7 392.9L475.3 390.2L482.5 385.2L489.7 377.4L495.9 366.6L498.8 357.4L500.3 347.1L499.6 336.2L496.7 325.3L491.5 315.2L484.2 306.9L475.5 300.9L466.2 297.7L457.6 297.2L449.7 298.7L442.9 301.9L437.5 306.3L433.7 310.8L430.9 315.6L428.9 320.5L427.6 325.4L426.9 329.9L426.5 334.2L426.4 338.3L426.5 342.3L426.8 347.0L427.7 355.7L429.8 374.2L431.8 393.8L432.6 400.0L433.3 404.1L434.3 408.3L435.1 410.5L435.9 412.5L437.0 414.5L438.8 417.1L441.2 419.3L444.4 421.2L448.5 422.7L453.3 423.3L459.4 423.1L466.9 421.7L476.1 418.2L484.3 413.6L493.2 406.8L502.3 397.0L510.9 383.9L516.0 371.9L519.4 358.0L520.3 342.7L518.2 326.7L512.6 311.0L503.6 297.0L492.0 285.8L478.4 278.3L465.5 274.9L453.1 274.7L441.9 277.1L432.4 281.6L425.5 286.7L420.0 292.4L415.8 298.3L412.8 304.2L410.7 309.9L409.4 315.2L408.6 320.2L408.3 324.9L408.2 331.2L409.0 346.4L409.2 350.7L409.1 354.5L408.7 358.0L408.1 361.1L407.3 363.6L406.3 365.8L405.0 367.8L403.5 369.4L401.5 370.9L399.2 371.9L396.7 372.4L393.9 372.3L390.4 371.3L386.7 369.3L383.1 366.1L379.8 361.6L377.2 356.3L375.5 350.0L375.0 343.0L376.0 335.7L378.6 328.8L382.7 322.9L387.8 318.4L393.6 315.6L399.2 314.8L404.4 315.5L408.9 317.5L412.7 320.5L415.5 324.1L417.5 328.2L418.8 332.4L419.4 336.7L419.7 341.0L419.5 345.2L419.0 349.3L418.2 353.2L416.9 357.9L415.3 362.3L413.4 366.2L411.1 369.7L408.5 372.7L405.6 375.0L402.2 376.7L398.3 377.5L393.7 377.2L388.8 375.5L383.7 372.1L378.7 366.8L375.4 361.3L373.0 354.7L371.7 347.1L372.0 339.0L374.0 330.9L377.7 323.5L383.0 317.4L389.3 313.1L395.5 311.1L401.6 310.8L407.2 312.1L412.0 314.7L415.8 318.1L418.7 322.1L420.7 326.6L422.0 331.1L422.7 335.5L422.9 339.9L422.8 344.1L422.5 348.2L421.8 352.8L420.8 357.1L419.7 361.2L418.4 365.0L416.6 369.4L414.4 373.3L412.0 376.8L409.1 379.8L406.2 381.8L403.0 383.2L399.3 384.0L395.2 383.9L388.9 382.2L382.0 378.0L375.3 370.9L369.8 360.6L367.6 352.3L366.9 343.2L368.2 333.8L371.5 324.6L376.8 316.6L383.6 310.4L391.3 306.6L399.2 305.1L406.4 305.9L412.6 308.4L417.7 312.3L421.5 317.0L423.9 321.4L425.6 326.0L426.7 330.6L427.2 335.1L427.4 339.6L427.3 344.0L426.9 348.2L426.4 352.2L425.7 356.9L424.8 361.3L422.7 369.6L421.5 373.2L420.3 376.7L418.9 379.9L417.3 382.9L415.5 385.6L413.5 388.1L411.1 390.2L408.5 392.0L404.4 393.7L399.6 394.5L394.0 394.0L387.5 392.0L381.3 388.5L374.7 383.0L368.5 375.1L363.3 364.8L360.6 355.1L359.6 344.4L360.8 333.1L364.5 322.1L370.5 312.2L378.5 304.4L387.6 299.2L397.2 296.8L405.9 297.1L413.6 299.3L420.0 303.2L425.0 308.0L428.3 312.7L430.7 317.5L432.4 322.4L433.4 327.2L434.0 331.5L434.2 335.7L434.2 339.6L434.1 343.5L433.3 353.1L430.8 376.1L429.0 400.7L428.1 408.3L427.4 412.1L426.3 416.3L425.4 418.5L424.3 420.5L423.0 422.4L421.0 424.4L418.4 426.1L415.0 427.4L410.7 428.3L405.5 428.5L398.9 427.7L390.8 425.6L380.9 421.3L372.3 416.0L363.1 408.2L353.7 397.4L345.1 383.1L340.1 370.1L337.1 355.2L336.8 339.0L339.8 322.3L346.4 306.1L356.4 291.9L369.1 280.9L383.5 273.8L397.1 270.9L409.9 271.2L421.4 274.2L431.2 279.2L438.0 284.6L443.5 290.4L447.6 296.5L450.6 302.5L452.7 308.5L454.1 314.1L454.8 319.3L455.1 324.1L455.1 330.2L454.1 344.6L454.0 348.6L454.0 352.2L454.4 355.4L455.0 358.2L455.8 360.5L456.8 362.5L458.1 364.1L459.6 365.4L461.5 366.5L463.7 367.1L466.1 367.1L468.7 366.5L471.8 364.8L474.9 362.2L477.7 358.5L479.9 353.8L481.3 348.3L481.5 342.2L480.5 336.0L478.0 330.2L474.4 325.3L469.9 321.7L464.9 319.7L459.9 319.4L455.1 320.6L451.1 323.2L448.1 326.9L446.0 331.1L444.9 335.0L444.4 338.9L444.3 342.9L444.6 346.7L445.4 350.9L446.5 354.8L447.9 358.4L449.6 361.7L451.9 365.0L454.5 367.6L457.5 369.6L460.9 370.8L464.7 371.0L468.7 370.1L472.9 367.8L476.9 364.1L480.0 359.7L482.4 354.2L483.8 347.7L483.8 340.7L482.2 333.7L479.1 327.2L474.7 321.9L469.3 318.3L464.1 316.6L459.0 316.5L454.3 317.8L450.3 320.2L447.1 323.4L444.8 327.2L443.2 331.4L442.3 335.7L441.9 339.9L442.0 344.0L442.4 348.0L443.1 351.8L444.3 356.3L445.9 360.5L447.7 364.3L449.9 367.7L452.6 370.7L455.8 373.1L459.4 374.7L463.4 375.2L467.9 374.6L472.7 372.5L477.5 368.6L481.9 363.0L484.7 357.2L486.5 350.5L487.0 343.1L485.9 335.5L483.2 328.1L479.0 321.7L473.6 316.8L467.5 313.8L461.6 312.7L456.0 313.3L451.1 315.3L447.0 318.3L443.9 322.0L441.7 326.1L440.2 330.4L439.4 334.9L439.0 339.2L439.0 343.5L439.4 347.7L440.0 351.7L441.0 356.2L442.2 360.4L443.7 364.3L445.4 367.9"/>
</g>
<g class="ax">
<rect x="318.55" y="13.07" width="222.90" height="175.83" fill="none"/>
<line x1="346.41" y1="188.90" x2="346.41" y2="186.70"/>
<line x1="346.41" y1="13.07" x2="346.41" y2="15.27"/>
<line x1="374.28" y1="188.90" x2="374.28" y2="186.70"/>
<line x1="374.28" y1="13.07" x2="374.28" y2="15.27"/>
<line x1="402.14" y1="188.90" x2="402.14" y2="186.70"/>
<line x1="402.14" y1="13.07" x2="402.14" y2="15.27"/>
<line x1="430.00" y1="188.90" x2="430.00" y2="186.70"/>
<line x1="430.00" y1="13.07" x2="430.00" y2="15.27"/>
<line x1="457.86" y1="188.90" x2="457.86" y2="186.70"/>
<line x1="457.86" y1="13.07" x2="457.86" y2="15.27"/>
<line x1="485.73" y1="188.90" x2="485.73" y2="186.70"/>
<line x1="485.73" y1="13.07" x2="485.73" y2="15.27"/>
<line x1="513.59" y1="188.90" x2="513.59" y2="186.70"/>
<line x1="513.59" y1="13.07" x2="513.59" y2="15.27"/>
<line x1="318.55" y1="169.36" x2="320.75" y2="169.36"/>
<line x1="541.45" y1="169.36" x2="539.25" y2="169.36"/>
<line x1="318.55" y1="149.83" x2="320.75" y2="149.83"/>
<line x1="541.45" y1="149.83" x2="539.25" y2="149.83"/>
<line x1="318.55" y1="130.29" x2="320.75" y2="130.29"/>
<line x1="541.45" y1="130.29" x2="539.25" y2="130.29"/>
<line x1="318.55" y1="110.75" x2="320.75" y2="110.75"/>
<line x1="541.45" y1="110.75" x2="539.25" y2="110.75"/>
<line x1="318.55" y1="91.22" x2="320.75" y2="91.22"/>
<line x1="541.45" y1="91.22" x2="539.25" y2="91.22"/>
<line x1="318.55" y1="71.68" x2="320.75" y2="71.68"/>
<line x1="541.45" y1="71.68" x2="539.25" y2="71.68"/>
<line x1="318.55" y1="52.14" x2="320.75" y2="52.14"/>
<line x1="541.45" y1="52.14" x2="539.25" y2="52.14"/>
<line x1="318.55" y1="32.61" x2="320.75" y2="32.61"/>
<line x1="541.45" y1="32.61" x2="539.25" y2="32.61"/>
<rect x="16.44" y="260.65" width="223.76" height="176.65" fill="none"/>
<line x1="44.41" y1="437.30" x2="44.41" y2="435.10"/>
<line x1="44.41" y1="260.65" x2="44.41" y2="262.85"/>
<line x1="72.38" y1="437.30" x2="72.38" y2="435.10"/>
<line x1="72.38" y1="260.65" x2="72.38" y2="262.85"/>
<line x1="100.35" y1="437.30" x2="100.35" y2="435.10"/>
<line x1="100.35" y1="260.65" x2="100.35" y2="262.85"/>
<line x1="128.32" y1="437.30" x2="128.32" y2="435.10"/>
<line x1="128.32" y1="260.65" x2="128.32" y2="262.85"/>
<line x1="156.29" y1="437.30" x2="156.29" y2="435.10"/>
<line x1="156.29" y1="260.65" x2="156.29" y2="262.85"/>
<line x1="184.26" y1="437.30" x2="184.26" y2="435.10"/>
<line x1="184.26" y1="260.65" x2="184.26" y2="262.85"/>
<line x1="212.23" y1="437.30" x2="212.23" y2="435.10"/>
<line x1="212.23" y1="260.65" x2="212.23" y2="262.85"/>
<line x1="16.44" y1="407.86" x2="18.64" y2="407.86"/>
<line x1="240.20" y1="407.86" x2="238.00" y2="407.86"/>
<line x1="16.44" y1="378.42" x2="18.64" y2="378.42"/>
<line x1="240.20" y1="378.42" x2="238.00" y2="378.42"/>
<line x1="16.44" y1="348.98" x2="18.64" y2="348.98"/>
<line x1="240.20" y1="348.98" x2="238.00" y2="348.98"/>
<line x1="16.44" y1="319.53" x2="18.64" y2="319.53"/>
<line x1="240.20" y1="319.53" x2="238.00" y2="319.53"/>
<line x1="16.44" y1="290.09" x2="18.64" y2="290.09"/>
<line x1="240.20" y1="290.09" x2="238.00" y2="290.09"/>
<rect x="318.30" y="260.65" width="223.70" height="176.65" fill="none"/>
<line x1="355.58" y1="437.30" x2="355.58" y2="435.10"/>
<line x1="355.58" y1="260.65" x2="355.58" y2="262.85"/>
<line x1="392.87" y1="437.30" x2="392.87" y2="435.10"/>
<line x1="392.87" y1="260.65" x2="392.87" y2="262.85"/>
<line x1="430.15" y1="437.30" x2="430.15" y2="435.10"/>
<line x1="430.15" y1="260.65" x2="430.15" y2="262.85"/>
<line x1="467.43" y1="437.30" x2="467.43" y2="435.10"/>
<line x1="467.43" y1="260.65" x2="467.43" y2="262.85"/>
<line x1="504.72" y1="437.30" x2="504.72" y2="435.10"/>
<line x1="504.72" y1="260.65" x2="504.72" y2="262.85"/>
<line x1="318.30" y1="417.67" x2="320.50" y2="417.67"/>
<line x1="542.00" y1="417.67" x2="539.80" y2="417.67"/>
<line x1="318.30" y1="398.04" x2="320.50" y2="398.04"/>
<line x1="542.00" y1="398.04" x2="539.80" y2="398.04"/>
<line x1="318.30" y1="378.42" x2="320.50" y2="378.42"/>
<line x1="542.00" y1="378.42" x2="539.80" y2="378.42"/>
<line x1="318.30" y1="358.79" x2="320.50" y2="358.79"/>
<line x1="542.00" y1="358.79" x2="539.80" y2="358.79"/>
<line x1="318.30" y1="339.16" x2="320.50" y2="339.16"/>
<line x1="542.00" y1="339.16" x2="539.80" y2="339.16"/>
<line x1="318.30" y1="319.53" x2="320.50" y2="319.53"/>
<line x1="542.00" y1="319.53" x2="539.80" y2="319.53"/>
<line x1="318.30" y1="299.91" x2="320.50" y2="299.91"/>
<line x1="542.00" y1="299.91" x2="539.80" y2="299.91"/>
<line x1="318.30" y1="280.28" x2="320.50" y2="280.28"/>
<line x1="542.00" y1="280.28" x2="539.80" y2="280.28"/>
</g><g class="ax3">
<line x1="114.20" y1="186.90" x2="239.80" y2="153.30"/>
<line x1="114.20" y1="186.90" x2="16.81" y2="143.87"/>
<line x1="16.81" y1="143.87" x2="16.81" y2="48.47"/>
<line x1="114.20" y1="186.90" x2="116.94" y2="188.11"/>
<line x1="145.60" y1="178.50" x2="148.34" y2="179.71"/>
<line x1="177.00" y1="170.10" x2="179.74" y2="171.31"/>
<line x1="208.40" y1="161.70" x2="211.14" y2="162.91"/>
<line x1="239.80" y1="153.30" x2="242.54" y2="154.51"/>
<line x1="102.01" y1="181.51" x2="99.11" y2="182.29"/>
<line x1="82.41" y1="172.85" x2="79.51" y2="173.63"/>
<line x1="62.81" y1="164.19" x2="59.91" y2="164.97"/>
<line x1="43.21" y1="155.53" x2="40.31" y2="156.31"/>
<line x1="23.61" y1="146.87" x2="20.71" y2="147.65"/>
<line x1="16.81" y1="143.87" x2="14.06" y2="142.66"/>
<line x1="16.81" y1="124.79" x2="14.06" y2="123.58"/>
<line x1="16.81" y1="105.71" x2="14.06" y2="104.50"/>
<line x1="16.81" y1="86.63" x2="14.06" y2="85.42"/>
<line x1="16.81" y1="67.55" x2="14.06" y2="66.34"/>
<line x1="16.81" y1="48.47" x2="14.06" y2="47.26"/>
</g>
<g class="lbl">
<text transform="translate(318.6 199.0) scale(0.845 1)" text-anchor="middle" font-size="7.3">-20</text>
<text transform="translate(346.4 199.0) scale(0.845 1)" text-anchor="middle" font-size="7.3">-15</text>
<text transform="translate(374.3 199.0) scale(0.845 1)" text-anchor="middle" font-size="7.3">-10</text>
<text transform="translate(402.1 199.0) scale(0.845 1)" text-anchor="middle" font-size="7.3">-5</text>
<text transform="translate(430.0 199.0) scale(0.845 1)" text-anchor="middle" font-size="7.3">0</text>
<text transform="translate(457.9 199.0) scale(0.845 1)" text-anchor="middle" font-size="7.3">5</text>
<text transform="translate(485.7 199.0) scale(0.845 1)" text-anchor="middle" font-size="7.3">10</text>
<text transform="translate(513.6 199.0) scale(0.845 1)" text-anchor="middle" font-size="7.3">15</text>
<text transform="translate(541.5 199.0) scale(0.845 1)" text-anchor="middle" font-size="7.3">20</text>
<text transform="translate(315.2 192.1) scale(0.845 1)" text-anchor="end" font-size="7.3">5</text>
<text transform="translate(315.2 172.6) scale(0.845 1)" text-anchor="end" font-size="7.3">10</text>
<text transform="translate(315.2 153.0) scale(0.845 1)" text-anchor="end" font-size="7.3">15</text>
<text transform="translate(315.2 133.5) scale(0.845 1)" text-anchor="end" font-size="7.3">20</text>
<text transform="translate(315.2 114.0) scale(0.845 1)" text-anchor="end" font-size="7.3">25</text>
<text transform="translate(315.2 94.4) scale(0.845 1)" text-anchor="end" font-size="7.3">30</text>
<text transform="translate(315.2 74.9) scale(0.845 1)" text-anchor="end" font-size="7.3">35</text>
<text transform="translate(315.2 55.4) scale(0.845 1)" text-anchor="end" font-size="7.3">40</text>
<text transform="translate(315.2 35.8) scale(0.845 1)" text-anchor="end" font-size="7.3">45</text>
<text transform="translate(315.2 16.3) scale(0.845 1)" text-anchor="end" font-size="7.3">50</text>
<text transform="translate(430.0 10.2) scale(0.9375 1)" text-anchor="middle" font-size="8.0" class="tt">x-z projection</text>
<text transform="translate(16.4 447.4) scale(0.845 1)" text-anchor="middle" font-size="7.3">-20</text>
<text transform="translate(44.4 447.4) scale(0.845 1)" text-anchor="middle" font-size="7.3">-15</text>
<text transform="translate(72.4 447.4) scale(0.845 1)" text-anchor="middle" font-size="7.3">-10</text>
<text transform="translate(100.3 447.4) scale(0.845 1)" text-anchor="middle" font-size="7.3">-5</text>
<text transform="translate(128.3 447.4) scale(0.845 1)" text-anchor="middle" font-size="7.3">0</text>
<text transform="translate(156.3 447.4) scale(0.845 1)" text-anchor="middle" font-size="7.3">5</text>
<text transform="translate(184.3 447.4) scale(0.845 1)" text-anchor="middle" font-size="7.3">10</text>
<text transform="translate(212.2 447.4) scale(0.845 1)" text-anchor="middle" font-size="7.3">15</text>
<text transform="translate(240.2 447.4) scale(0.845 1)" text-anchor="middle" font-size="7.3">20</text>
<text transform="translate(13.0 440.5) scale(0.845 1)" text-anchor="end" font-size="7.3">-30</text>
<text transform="translate(13.0 411.1) scale(0.845 1)" text-anchor="end" font-size="7.3">-20</text>
<text transform="translate(13.0 381.6) scale(0.845 1)" text-anchor="end" font-size="7.3">-10</text>
<text transform="translate(13.0 352.2) scale(0.845 1)" text-anchor="end" font-size="7.3">0</text>
<text transform="translate(13.0 322.7) scale(0.845 1)" text-anchor="end" font-size="7.3">10</text>
<text transform="translate(13.0 293.3) scale(0.845 1)" text-anchor="end" font-size="7.3">20</text>
<text transform="translate(13.0 263.9) scale(0.845 1)" text-anchor="end" font-size="7.3">30</text>
<text transform="translate(128.1 256.8) scale(0.9375 1)" text-anchor="middle" font-size="8.0" class="tt">x-y projection</text>
<text transform="translate(318.3 447.4) scale(0.845 1)" text-anchor="middle" font-size="7.3">-30</text>
<text transform="translate(355.6 447.4) scale(0.845 1)" text-anchor="middle" font-size="7.3">-20</text>
<text transform="translate(392.9 447.4) scale(0.845 1)" text-anchor="middle" font-size="7.3">-10</text>
<text transform="translate(430.1 447.4) scale(0.845 1)" text-anchor="middle" font-size="7.3">0</text>
<text transform="translate(467.4 447.4) scale(0.845 1)" text-anchor="middle" font-size="7.3">10</text>
<text transform="translate(504.7 447.4) scale(0.845 1)" text-anchor="middle" font-size="7.3">20</text>
<text transform="translate(542.0 447.4) scale(0.845 1)" text-anchor="middle" font-size="7.3">30</text>
<text transform="translate(314.9 440.5) scale(0.845 1)" text-anchor="end" font-size="7.3">5</text>
<text transform="translate(314.9 420.9) scale(0.845 1)" text-anchor="end" font-size="7.3">10</text>
<text transform="translate(314.9 401.3) scale(0.845 1)" text-anchor="end" font-size="7.3">15</text>
<text transform="translate(314.9 381.6) scale(0.845 1)" text-anchor="end" font-size="7.3">20</text>
<text transform="translate(314.9 362.0) scale(0.845 1)" text-anchor="end" font-size="7.3">25</text>
<text transform="translate(314.9 342.4) scale(0.845 1)" text-anchor="end" font-size="7.3">30</text>
<text transform="translate(314.9 322.7) scale(0.845 1)" text-anchor="end" font-size="7.3">35</text>
<text transform="translate(314.9 303.1) scale(0.845 1)" text-anchor="end" font-size="7.3">40</text>
<text transform="translate(314.9 283.5) scale(0.845 1)" text-anchor="end" font-size="7.3">45</text>
<text transform="translate(314.9 263.9) scale(0.845 1)" text-anchor="end" font-size="7.3">50</text>
<text transform="translate(429.6 256.8) scale(0.9375 1)" text-anchor="middle" font-size="8.0" class="tt">y-z projection</text>
<text transform="translate(119.5 197.1) scale(0.845 1)" text-anchor="start" font-size="7.3">-20</text>
<text transform="translate(150.9 188.7) scale(0.845 1)" text-anchor="start" font-size="7.3">-10</text>
<text transform="translate(182.3 180.3) scale(0.845 1)" text-anchor="start" font-size="7.3">0</text>
<text transform="translate(213.7 171.9) scale(0.845 1)" text-anchor="start" font-size="7.3">10</text>
<text transform="translate(245.1 163.5) scale(0.845 1)" text-anchor="start" font-size="7.3">20</text>
<text transform="translate(96.7 190.6) scale(0.845 1)" text-anchor="end" font-size="7.3">-20</text>
<text transform="translate(77.1 182.0) scale(0.845 1)" text-anchor="end" font-size="7.3">-10</text>
<text transform="translate(57.5 173.3) scale(0.845 1)" text-anchor="end" font-size="7.3">0</text>
<text transform="translate(37.9 164.6) scale(0.845 1)" text-anchor="end" font-size="7.3">10</text>
<text transform="translate(18.3 156.0) scale(0.845 1)" text-anchor="end" font-size="7.3">20</text>
<text transform="translate(9.8 144.8) scale(0.845 1)" text-anchor="end" font-size="7.3">0</text>
<text transform="translate(9.8 125.7) scale(0.845 1)" text-anchor="end" font-size="7.3">10</text>
<text transform="translate(9.8 106.6) scale(0.845 1)" text-anchor="end" font-size="7.3">20</text>
<text transform="translate(9.8 87.5) scale(0.845 1)" text-anchor="end" font-size="7.3">30</text>
<text transform="translate(9.8 68.5) scale(0.845 1)" text-anchor="end" font-size="7.3">40</text>
<text transform="translate(9.8 49.4) scale(0.845 1)" text-anchor="end" font-size="7.3">50</text>
<text transform="translate(128.4 11.5) scale(0.9375 1)" text-anchor="middle" font-size="8.0" class="tt">3D plot</text>
</g>
<g class="cap"><text x="122.9" y="226" text-anchor="middle">(<tspan font-weight="bold">a</tspan>)</text><text x="424.7" y="225.8" text-anchor="middle">(<tspan font-weight="bold">b</tspan>)</text><text x="123.1" y="474.4" text-anchor="middle">(<tspan font-weight="bold">c</tspan>)</text><text x="424.7" y="474.3" text-anchor="middle">(<tspan font-weight="bold">d</tspan>)</text></g>
</svg>
</body></html>
